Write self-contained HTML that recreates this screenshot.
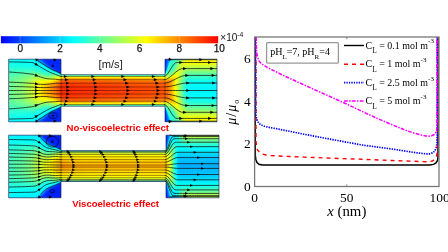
<!DOCTYPE html>
<html><head><meta charset="utf-8"><style>
html,body{margin:0;padding:0;background:#fff;width:448px;height:252px;overflow:hidden}
svg{display:block}
.sans{font-family:"Liberation Sans",sans-serif}
.serif{font-family:"Liberation Serif",serif}
</style></head><body>
<svg width="448" height="252" viewBox="0 0 448 252">
<defs>
<linearGradient id="cbar" x1="0" y1="0" x2="1" y2="0"><stop offset="0.000" stop-color="#0000ff"/><stop offset="0.033" stop-color="#001aff"/><stop offset="0.067" stop-color="#0033ff"/><stop offset="0.100" stop-color="#004dff"/><stop offset="0.133" stop-color="#0066ff"/><stop offset="0.167" stop-color="#0080ff"/><stop offset="0.200" stop-color="#0099ff"/><stop offset="0.233" stop-color="#00b2ff"/><stop offset="0.267" stop-color="#00ccff"/><stop offset="0.300" stop-color="#00e5ff"/><stop offset="0.333" stop-color="#00ffff"/><stop offset="0.367" stop-color="#19ffe6"/><stop offset="0.400" stop-color="#33ffcc"/><stop offset="0.433" stop-color="#4dffb2"/><stop offset="0.467" stop-color="#66ff99"/><stop offset="0.500" stop-color="#80ff80"/><stop offset="0.533" stop-color="#99ff66"/><stop offset="0.567" stop-color="#b2ff4d"/><stop offset="0.600" stop-color="#ccff33"/><stop offset="0.633" stop-color="#e5ff1a"/><stop offset="0.667" stop-color="#ffff00"/><stop offset="0.700" stop-color="#ffe600"/><stop offset="0.733" stop-color="#ffcc00"/><stop offset="0.767" stop-color="#ffb200"/><stop offset="0.800" stop-color="#ff9900"/><stop offset="0.833" stop-color="#ff7f00"/><stop offset="0.867" stop-color="#ff6600"/><stop offset="0.900" stop-color="#ff4c00"/><stop offset="0.933" stop-color="#ff3300"/><stop offset="0.967" stop-color="#ff1900"/><stop offset="1.000" stop-color="#ff0000"/></linearGradient>
<linearGradient id="g1" x1="0" y1="0" x2="0" y2="1"><stop offset="0.000" stop-color="#03fffc"/><stop offset="0.096" stop-color="#16ffe9"/><stop offset="0.320" stop-color="#60ff9f"/><stop offset="0.400" stop-color="#6aff95"/><stop offset="0.528" stop-color="#6bff94"/><stop offset="0.688" stop-color="#5effa1"/><stop offset="0.904" stop-color="#16ffe9"/><stop offset="0.992" stop-color="#04fffb"/><stop offset="1.000" stop-color="#00e5ff"/></linearGradient>
<linearGradient id="g2" x1="0" y1="0" x2="0" y2="1"><stop offset="0.000" stop-color="#03fffc"/><stop offset="0.096" stop-color="#16ffe9"/><stop offset="0.320" stop-color="#62ff9d"/><stop offset="0.400" stop-color="#6cff93"/><stop offset="0.520" stop-color="#6eff91"/><stop offset="0.688" stop-color="#60ff9f"/><stop offset="0.896" stop-color="#18ffe7"/><stop offset="0.992" stop-color="#04fffb"/><stop offset="1.000" stop-color="#00e5ff"/></linearGradient>
<linearGradient id="g3" x1="0" y1="0" x2="0" y2="1"><stop offset="0.000" stop-color="#03fffc"/><stop offset="0.096" stop-color="#16ffe9"/><stop offset="0.320" stop-color="#64ff9b"/><stop offset="0.400" stop-color="#6fff90"/><stop offset="0.520" stop-color="#71ff8e"/><stop offset="0.616" stop-color="#6eff91"/><stop offset="0.688" stop-color="#62ff9d"/><stop offset="0.896" stop-color="#18ffe7"/><stop offset="0.992" stop-color="#03fffc"/><stop offset="1.000" stop-color="#00e5ff"/></linearGradient>
<linearGradient id="g4" x1="0" y1="0" x2="0" y2="1"><stop offset="0.000" stop-color="#02fffd"/><stop offset="0.104" stop-color="#18ffe7"/><stop offset="0.320" stop-color="#67ff98"/><stop offset="0.400" stop-color="#72ff8d"/><stop offset="0.520" stop-color="#74ff8b"/><stop offset="0.616" stop-color="#70ff8f"/><stop offset="0.688" stop-color="#64ff9b"/><stop offset="0.896" stop-color="#17ffe8"/><stop offset="0.992" stop-color="#03fffc"/><stop offset="1.000" stop-color="#00e5ff"/></linearGradient>
<linearGradient id="g5" x1="0" y1="0" x2="0" y2="1"><stop offset="0.000" stop-color="#02fffd"/><stop offset="0.104" stop-color="#17ffe8"/><stop offset="0.256" stop-color="#55ffaa"/><stop offset="0.328" stop-color="#6aff95"/><stop offset="0.408" stop-color="#75ff8a"/><stop offset="0.520" stop-color="#77ff88"/><stop offset="0.680" stop-color="#68ff97"/><stop offset="0.896" stop-color="#17ffe8"/><stop offset="0.992" stop-color="#03fffc"/><stop offset="1.000" stop-color="#00e5ff"/></linearGradient>
<linearGradient id="g6" x1="0" y1="0" x2="0" y2="1"><stop offset="0.000" stop-color="#02fffd"/><stop offset="0.104" stop-color="#17ffe8"/><stop offset="0.264" stop-color="#59ffa6"/><stop offset="0.328" stop-color="#6dff92"/><stop offset="0.408" stop-color="#78ff87"/><stop offset="0.520" stop-color="#7aff85"/><stop offset="0.608" stop-color="#76ff89"/><stop offset="0.680" stop-color="#6aff95"/><stop offset="0.888" stop-color="#19ffe6"/><stop offset="0.992" stop-color="#02fffd"/><stop offset="1.000" stop-color="#00e5ff"/></linearGradient>
<linearGradient id="g7" x1="0" y1="0" x2="0" y2="1"><stop offset="0.000" stop-color="#02fffd"/><stop offset="0.104" stop-color="#16ffe9"/><stop offset="0.328" stop-color="#6fff90"/><stop offset="0.400" stop-color="#7aff85"/><stop offset="0.512" stop-color="#7cff83"/><stop offset="0.608" stop-color="#79ff86"/><stop offset="0.680" stop-color="#6dff92"/><stop offset="0.888" stop-color="#19ffe6"/><stop offset="0.992" stop-color="#02fffd"/><stop offset="1.000" stop-color="#00e5ff"/></linearGradient>
<linearGradient id="g8" x1="0" y1="0" x2="0" y2="1"><stop offset="0.000" stop-color="#01fffe"/><stop offset="0.112" stop-color="#19ffe6"/><stop offset="0.264" stop-color="#5cffa3"/><stop offset="0.328" stop-color="#71ff8e"/><stop offset="0.400" stop-color="#7dff82"/><stop offset="0.512" stop-color="#7fff80"/><stop offset="0.600" stop-color="#7dff82"/><stop offset="0.672" stop-color="#71ff8e"/><stop offset="0.888" stop-color="#18ffe7"/><stop offset="0.992" stop-color="#02fffd"/><stop offset="1.000" stop-color="#00e5ff"/></linearGradient>
<linearGradient id="g9" x1="0" y1="0" x2="0" y2="1"><stop offset="0.000" stop-color="#01fffe"/><stop offset="0.112" stop-color="#18ffe7"/><stop offset="0.328" stop-color="#73ff8c"/><stop offset="0.400" stop-color="#7fff80"/><stop offset="0.512" stop-color="#82ff7d"/><stop offset="0.600" stop-color="#7fff80"/><stop offset="0.672" stop-color="#73ff8c"/><stop offset="0.888" stop-color="#18ffe7"/><stop offset="0.992" stop-color="#02fffd"/><stop offset="1.000" stop-color="#00e5ff"/></linearGradient>
<linearGradient id="g10" x1="0" y1="0" x2="0" y2="1"><stop offset="0.000" stop-color="#01fffe"/><stop offset="0.112" stop-color="#18ffe7"/><stop offset="0.272" stop-color="#62ff9d"/><stop offset="0.336" stop-color="#78ff87"/><stop offset="0.408" stop-color="#83ff7c"/><stop offset="0.512" stop-color="#85ff7a"/><stop offset="0.600" stop-color="#82ff7d"/><stop offset="0.672" stop-color="#75ff8a"/><stop offset="0.888" stop-color="#17ffe8"/><stop offset="0.992" stop-color="#01fffe"/><stop offset="1.000" stop-color="#00e5ff"/></linearGradient>
<linearGradient id="g11" x1="0" y1="0" x2="0" y2="1"><stop offset="0.000" stop-color="#01fffe"/><stop offset="0.112" stop-color="#17ffe8"/><stop offset="0.272" stop-color="#63ff9c"/><stop offset="0.336" stop-color="#7aff85"/><stop offset="0.408" stop-color="#85ff7a"/><stop offset="0.512" stop-color="#88ff77"/><stop offset="0.600" stop-color="#85ff7a"/><stop offset="0.672" stop-color="#77ff88"/><stop offset="0.880" stop-color="#19ffe6"/><stop offset="0.992" stop-color="#01fffe"/><stop offset="1.000" stop-color="#00e5ff"/></linearGradient>
<linearGradient id="g12" x1="0" y1="0" x2="0" y2="1"><stop offset="0.000" stop-color="#00ffff"/><stop offset="0.112" stop-color="#16ffe9"/><stop offset="0.272" stop-color="#64ff9b"/><stop offset="0.336" stop-color="#7cff83"/><stop offset="0.408" stop-color="#88ff77"/><stop offset="0.504" stop-color="#8bff74"/><stop offset="0.600" stop-color="#87ff78"/><stop offset="0.664" stop-color="#7bff84"/><stop offset="0.728" stop-color="#64ff9b"/><stop offset="0.880" stop-color="#19ffe6"/><stop offset="0.992" stop-color="#01fffe"/><stop offset="1.000" stop-color="#00e5ff"/></linearGradient>
<linearGradient id="g13" x1="0" y1="0" x2="0" y2="1"><stop offset="0.000" stop-color="#00ffff"/><stop offset="0.120" stop-color="#19ffe6"/><stop offset="0.272" stop-color="#66ff99"/><stop offset="0.336" stop-color="#7eff81"/><stop offset="0.408" stop-color="#8bff74"/><stop offset="0.504" stop-color="#8dff72"/><stop offset="0.600" stop-color="#8aff75"/><stop offset="0.664" stop-color="#7eff81"/><stop offset="0.728" stop-color="#65ff9a"/><stop offset="0.880" stop-color="#18ffe7"/><stop offset="0.992" stop-color="#00ffff"/><stop offset="1.000" stop-color="#00e5ff"/></linearGradient>
<linearGradient id="g14" x1="0" y1="0" x2="0" y2="1"><stop offset="0.000" stop-color="#00ffff"/><stop offset="0.064" stop-color="#08fff7"/><stop offset="0.120" stop-color="#18ffe7"/><stop offset="0.272" stop-color="#68ff97"/><stop offset="0.336" stop-color="#82ff7d"/><stop offset="0.400" stop-color="#8eff71"/><stop offset="0.496" stop-color="#92ff6d"/><stop offset="0.592" stop-color="#8fff70"/><stop offset="0.656" stop-color="#83ff7c"/><stop offset="0.720" stop-color="#6bff94"/><stop offset="0.880" stop-color="#18ffe7"/><stop offset="0.992" stop-color="#00ffff"/><stop offset="1.000" stop-color="#00e5ff"/></linearGradient>
<linearGradient id="g15" x1="0" y1="0" x2="0" y2="1"><stop offset="0.000" stop-color="#00ffff"/><stop offset="0.064" stop-color="#07fff8"/><stop offset="0.120" stop-color="#18ffe7"/><stop offset="0.280" stop-color="#6fff90"/><stop offset="0.336" stop-color="#86ff79"/><stop offset="0.400" stop-color="#94ff6b"/><stop offset="0.496" stop-color="#97ff68"/><stop offset="0.592" stop-color="#94ff6b"/><stop offset="0.656" stop-color="#88ff77"/><stop offset="0.720" stop-color="#6eff91"/><stop offset="0.872" stop-color="#1affe5"/><stop offset="0.928" stop-color="#09fff6"/><stop offset="0.992" stop-color="#00ffff"/><stop offset="1.000" stop-color="#00e5ff"/></linearGradient>
<linearGradient id="g16" x1="0" y1="0" x2="0" y2="1"><stop offset="0.000" stop-color="#00feff"/><stop offset="0.064" stop-color="#07fff8"/><stop offset="0.120" stop-color="#18ffe7"/><stop offset="0.280" stop-color="#72ff8d"/><stop offset="0.344" stop-color="#8dff72"/><stop offset="0.408" stop-color="#9aff65"/><stop offset="0.496" stop-color="#9dff62"/><stop offset="0.592" stop-color="#9aff65"/><stop offset="0.656" stop-color="#8dff72"/><stop offset="0.720" stop-color="#71ff8e"/><stop offset="0.872" stop-color="#1affe5"/><stop offset="0.928" stop-color="#08fff7"/><stop offset="0.992" stop-color="#00ffff"/><stop offset="1.000" stop-color="#00e5ff"/></linearGradient>
<linearGradient id="g17" x1="0" y1="0" x2="0" y2="1"><stop offset="0.000" stop-color="#00feff"/><stop offset="0.064" stop-color="#07fff8"/><stop offset="0.128" stop-color="#1bffe4"/><stop offset="0.280" stop-color="#75ff8a"/><stop offset="0.344" stop-color="#92ff6d"/><stop offset="0.408" stop-color="#a0ff5f"/><stop offset="0.496" stop-color="#a3ff5c"/><stop offset="0.592" stop-color="#a0ff5f"/><stop offset="0.656" stop-color="#92ff6d"/><stop offset="0.712" stop-color="#79ff86"/><stop offset="0.872" stop-color="#1affe5"/><stop offset="0.928" stop-color="#08fff7"/><stop offset="0.992" stop-color="#00ffff"/><stop offset="1.000" stop-color="#00e5ff"/></linearGradient>
<linearGradient id="g18" x1="0" y1="0" x2="0" y2="1"><stop offset="0.000" stop-color="#00feff"/><stop offset="0.064" stop-color="#06fff9"/><stop offset="0.128" stop-color="#1affe5"/><stop offset="0.288" stop-color="#7dff82"/><stop offset="0.344" stop-color="#97ff68"/><stop offset="0.408" stop-color="#a5ff5a"/><stop offset="0.496" stop-color="#a9ff56"/><stop offset="0.584" stop-color="#a6ff59"/><stop offset="0.648" stop-color="#99ff66"/><stop offset="0.712" stop-color="#7cff83"/><stop offset="0.872" stop-color="#19ffe6"/><stop offset="0.928" stop-color="#07fff8"/><stop offset="0.992" stop-color="#00feff"/><stop offset="1.000" stop-color="#00e5ff"/></linearGradient>
<linearGradient id="g19" x1="0" y1="0" x2="0" y2="1"><stop offset="0.000" stop-color="#00feff"/><stop offset="0.064" stop-color="#06fff9"/><stop offset="0.128" stop-color="#1affe5"/><stop offset="0.288" stop-color="#80ff7f"/><stop offset="0.344" stop-color="#9bff64"/><stop offset="0.408" stop-color="#abff54"/><stop offset="0.496" stop-color="#aeff51"/><stop offset="0.584" stop-color="#abff54"/><stop offset="0.648" stop-color="#9eff61"/><stop offset="0.712" stop-color="#7fff80"/><stop offset="0.872" stop-color="#19ffe6"/><stop offset="0.928" stop-color="#07fff8"/><stop offset="0.992" stop-color="#00feff"/><stop offset="1.000" stop-color="#00e5ff"/></linearGradient>
<linearGradient id="g20" x1="0" y1="0" x2="0" y2="1"><stop offset="0.000" stop-color="#00feff"/><stop offset="0.072" stop-color="#07fff8"/><stop offset="0.128" stop-color="#19ffe6"/><stop offset="0.176" stop-color="#34ffcb"/><stop offset="0.296" stop-color="#88ff77"/><stop offset="0.352" stop-color="#a3ff5c"/><stop offset="0.416" stop-color="#b1ff4e"/><stop offset="0.496" stop-color="#b4ff4b"/><stop offset="0.584" stop-color="#b1ff4e"/><stop offset="0.648" stop-color="#a2ff5d"/><stop offset="0.712" stop-color="#82ff7d"/><stop offset="0.864" stop-color="#1cffe3"/><stop offset="0.920" stop-color="#08fff7"/><stop offset="0.992" stop-color="#00feff"/><stop offset="1.000" stop-color="#00e5ff"/></linearGradient>
<linearGradient id="g21" x1="0" y1="0" x2="0" y2="1"><stop offset="0.000" stop-color="#00feff"/><stop offset="0.072" stop-color="#06fff9"/><stop offset="0.136" stop-color="#1cffe3"/><stop offset="0.296" stop-color="#8bff74"/><stop offset="0.352" stop-color="#a8ff57"/><stop offset="0.416" stop-color="#b7ff48"/><stop offset="0.496" stop-color="#baff45"/><stop offset="0.584" stop-color="#b7ff48"/><stop offset="0.648" stop-color="#a7ff58"/><stop offset="0.704" stop-color="#8aff75"/><stop offset="0.864" stop-color="#1bffe4"/><stop offset="0.920" stop-color="#08fff7"/><stop offset="0.992" stop-color="#00feff"/><stop offset="1.000" stop-color="#00e5ff"/></linearGradient>
<linearGradient id="g22" x1="0" y1="0" x2="0" y2="1"><stop offset="0.000" stop-color="#00feff"/><stop offset="0.072" stop-color="#06fff9"/><stop offset="0.136" stop-color="#1cffe3"/><stop offset="0.184" stop-color="#3affc5"/><stop offset="0.296" stop-color="#90ff6f"/><stop offset="0.352" stop-color="#aeff51"/><stop offset="0.416" stop-color="#beff41"/><stop offset="0.496" stop-color="#c1ff3e"/><stop offset="0.584" stop-color="#beff41"/><stop offset="0.648" stop-color="#adff52"/><stop offset="0.704" stop-color="#8fff70"/><stop offset="0.816" stop-color="#39ffc6"/><stop offset="0.864" stop-color="#1cffe3"/><stop offset="0.920" stop-color="#08fff7"/><stop offset="0.992" stop-color="#00feff"/><stop offset="1.000" stop-color="#00e5ff"/></linearGradient>
<linearGradient id="g23" x1="0" y1="0" x2="0" y2="1"><stop offset="0.000" stop-color="#00feff"/><stop offset="0.072" stop-color="#07fff8"/><stop offset="0.136" stop-color="#1effe1"/><stop offset="0.184" stop-color="#3dffc2"/><stop offset="0.296" stop-color="#97ff68"/><stop offset="0.352" stop-color="#b6ff49"/><stop offset="0.416" stop-color="#c7ff38"/><stop offset="0.496" stop-color="#caff35"/><stop offset="0.584" stop-color="#c7ff38"/><stop offset="0.648" stop-color="#b5ff4a"/><stop offset="0.704" stop-color="#96ff69"/><stop offset="0.816" stop-color="#3cffc3"/><stop offset="0.864" stop-color="#1dffe2"/><stop offset="0.920" stop-color="#08fff7"/><stop offset="0.992" stop-color="#00feff"/><stop offset="1.000" stop-color="#00e5ff"/></linearGradient>
<linearGradient id="g24" x1="0" y1="0" x2="0" y2="1"><stop offset="0.000" stop-color="#00feff"/><stop offset="0.072" stop-color="#07fff8"/><stop offset="0.136" stop-color="#1fffe0"/><stop offset="0.184" stop-color="#40ffbf"/><stop offset="0.296" stop-color="#9eff61"/><stop offset="0.352" stop-color="#beff41"/><stop offset="0.416" stop-color="#d0ff2f"/><stop offset="0.496" stop-color="#d3ff2c"/><stop offset="0.584" stop-color="#cfff30"/><stop offset="0.648" stop-color="#beff41"/><stop offset="0.704" stop-color="#9cff63"/><stop offset="0.816" stop-color="#3effc1"/><stop offset="0.864" stop-color="#1effe1"/><stop offset="0.920" stop-color="#09fff6"/><stop offset="0.992" stop-color="#00feff"/><stop offset="1.000" stop-color="#00e5ff"/></linearGradient>
<linearGradient id="g25" x1="0" y1="0" x2="0" y2="1"><stop offset="0.000" stop-color="#00e2ff"/><stop offset="0.008" stop-color="#00feff"/><stop offset="0.080" stop-color="#08fff7"/><stop offset="0.136" stop-color="#1fffe0"/><stop offset="0.184" stop-color="#40ffbf"/><stop offset="0.296" stop-color="#a3ff5c"/><stop offset="0.352" stop-color="#c6ff39"/><stop offset="0.416" stop-color="#d8ff27"/><stop offset="0.496" stop-color="#dcff23"/><stop offset="0.584" stop-color="#d8ff27"/><stop offset="0.640" stop-color="#c8ff37"/><stop offset="0.704" stop-color="#a2ff5d"/><stop offset="0.816" stop-color="#3fffc0"/><stop offset="0.864" stop-color="#1effe1"/><stop offset="0.920" stop-color="#08fff7"/><stop offset="0.992" stop-color="#00feff"/><stop offset="1.000" stop-color="#00e1ff"/></linearGradient>
<linearGradient id="g26" x1="0" y1="0" x2="0" y2="1"><stop offset="0.000" stop-color="#00d3ff"/><stop offset="0.008" stop-color="#00e0ff"/><stop offset="0.016" stop-color="#00feff"/><stop offset="0.088" stop-color="#09fff6"/><stop offset="0.144" stop-color="#21ffde"/><stop offset="0.192" stop-color="#44ffbb"/><stop offset="0.304" stop-color="#adff52"/><stop offset="0.360" stop-color="#d0ff2f"/><stop offset="0.416" stop-color="#e1ff1e"/><stop offset="0.496" stop-color="#e5ff1a"/><stop offset="0.584" stop-color="#e0ff1f"/><stop offset="0.640" stop-color="#cfff30"/><stop offset="0.696" stop-color="#acff53"/><stop offset="0.808" stop-color="#43ffbc"/><stop offset="0.856" stop-color="#20ffdf"/><stop offset="0.912" stop-color="#08fff7"/><stop offset="0.984" stop-color="#00feff"/><stop offset="0.992" stop-color="#00deff"/><stop offset="1.000" stop-color="#00d0ff"/></linearGradient>
<linearGradient id="g27" x1="0" y1="0" x2="0" y2="1"><stop offset="0.000" stop-color="#00bdff"/><stop offset="0.016" stop-color="#00deff"/><stop offset="0.024" stop-color="#00feff"/><stop offset="0.096" stop-color="#09fff6"/><stop offset="0.152" stop-color="#23ffdc"/><stop offset="0.200" stop-color="#49ffb6"/><stop offset="0.304" stop-color="#b0ff4f"/><stop offset="0.360" stop-color="#d7ff28"/><stop offset="0.416" stop-color="#e9ff16"/><stop offset="0.496" stop-color="#eeff11"/><stop offset="0.584" stop-color="#e9ff16"/><stop offset="0.640" stop-color="#d6ff29"/><stop offset="0.696" stop-color="#afff50"/><stop offset="0.800" stop-color="#47ffb8"/><stop offset="0.848" stop-color="#22ffdd"/><stop offset="0.904" stop-color="#09fff6"/><stop offset="0.968" stop-color="#00feff"/><stop offset="0.976" stop-color="#00e5ff"/><stop offset="1.000" stop-color="#00b9ff"/></linearGradient>
<linearGradient id="g28" x1="0" y1="0" x2="0" y2="1"><stop offset="0.000" stop-color="#00a5ff"/><stop offset="0.024" stop-color="#00dbff"/><stop offset="0.032" stop-color="#00e5ff"/><stop offset="0.040" stop-color="#00feff"/><stop offset="0.104" stop-color="#0afff5"/><stop offset="0.160" stop-color="#25ffda"/><stop offset="0.208" stop-color="#4dffb2"/><stop offset="0.304" stop-color="#b3ff4c"/><stop offset="0.360" stop-color="#ddff22"/><stop offset="0.416" stop-color="#f1ff0e"/><stop offset="0.496" stop-color="#f6ff09"/><stop offset="0.576" stop-color="#f3ff0c"/><stop offset="0.632" stop-color="#e1ff1e"/><stop offset="0.688" stop-color="#b9ff46"/><stop offset="0.792" stop-color="#4cffb3"/><stop offset="0.840" stop-color="#24ffdb"/><stop offset="0.896" stop-color="#09fff6"/><stop offset="0.960" stop-color="#00feff"/><stop offset="0.968" stop-color="#00e4ff"/><stop offset="1.000" stop-color="#00a1ff"/></linearGradient>
<linearGradient id="g29" x1="0" y1="0" x2="0" y2="1"><stop offset="0.000" stop-color="#008cff"/><stop offset="0.024" stop-color="#00c6ff"/><stop offset="0.040" stop-color="#00e4ff"/><stop offset="0.048" stop-color="#00feff"/><stop offset="0.112" stop-color="#0afff5"/><stop offset="0.168" stop-color="#27ffd8"/><stop offset="0.216" stop-color="#52ffad"/><stop offset="0.312" stop-color="#bdff42"/><stop offset="0.368" stop-color="#e8ff17"/><stop offset="0.424" stop-color="#fbff04"/><stop offset="0.496" stop-color="#ffff00"/><stop offset="0.576" stop-color="#fbff04"/><stop offset="0.632" stop-color="#e7ff18"/><stop offset="0.688" stop-color="#bcff43"/><stop offset="0.784" stop-color="#51ffae"/><stop offset="0.832" stop-color="#25ffda"/><stop offset="0.888" stop-color="#09fff6"/><stop offset="0.952" stop-color="#00feff"/><stop offset="0.960" stop-color="#00e2ff"/><stop offset="1.000" stop-color="#0088ff"/></linearGradient>
<linearGradient id="g30" x1="0" y1="0" x2="0" y2="1"><stop offset="0.000" stop-color="#0074ff"/><stop offset="0.048" stop-color="#00e1ff"/><stop offset="0.056" stop-color="#00feff"/><stop offset="0.120" stop-color="#0afff5"/><stop offset="0.168" stop-color="#23ffdc"/><stop offset="0.216" stop-color="#4effb1"/><stop offset="0.328" stop-color="#cfff30"/><stop offset="0.368" stop-color="#eeff11"/><stop offset="0.408" stop-color="#ffff00"/><stop offset="0.504" stop-color="#fff700"/><stop offset="0.592" stop-color="#ffff00"/><stop offset="0.616" stop-color="#f6ff09"/><stop offset="0.680" stop-color="#c6ff39"/><stop offset="0.784" stop-color="#4dffb2"/><stop offset="0.824" stop-color="#27ffd8"/><stop offset="0.880" stop-color="#0afff5"/><stop offset="0.944" stop-color="#00feff"/><stop offset="0.952" stop-color="#00dfff"/><stop offset="1.000" stop-color="#0071ff"/></linearGradient>
<linearGradient id="g31" x1="0" y1="0" x2="0" y2="1"><stop offset="0.000" stop-color="#005fff"/><stop offset="0.016" stop-color="#007eff"/><stop offset="0.056" stop-color="#00deff"/><stop offset="0.064" stop-color="#00feff"/><stop offset="0.128" stop-color="#0bfff4"/><stop offset="0.176" stop-color="#24ffdb"/><stop offset="0.224" stop-color="#53ffac"/><stop offset="0.328" stop-color="#d2ff2d"/><stop offset="0.360" stop-color="#eeff11"/><stop offset="0.392" stop-color="#fffd00"/><stop offset="0.440" stop-color="#fff000"/><stop offset="0.512" stop-color="#ffee00"/><stop offset="0.568" stop-color="#fff200"/><stop offset="0.616" stop-color="#fcff03"/><stop offset="0.672" stop-color="#d0ff2f"/><stop offset="0.776" stop-color="#51ffae"/><stop offset="0.816" stop-color="#29ffd6"/><stop offset="0.872" stop-color="#0afff5"/><stop offset="0.936" stop-color="#00feff"/><stop offset="0.944" stop-color="#00dbff"/><stop offset="0.984" stop-color="#007aff"/><stop offset="1.000" stop-color="#005cff"/></linearGradient>
<linearGradient id="g32" x1="0" y1="0" x2="0" y2="1"><stop offset="0.000" stop-color="#004eff"/><stop offset="0.024" stop-color="#0077ff"/><stop offset="0.056" stop-color="#00c8ff"/><stop offset="0.072" stop-color="#00e5ff"/><stop offset="0.080" stop-color="#00ffff"/><stop offset="0.136" stop-color="#0bfff4"/><stop offset="0.184" stop-color="#26ffd9"/><stop offset="0.232" stop-color="#58ffa7"/><stop offset="0.328" stop-color="#d4ff2b"/><stop offset="0.368" stop-color="#f9ff06"/><stop offset="0.384" stop-color="#fffb00"/><stop offset="0.440" stop-color="#ffe800"/><stop offset="0.520" stop-color="#ffe600"/><stop offset="0.576" stop-color="#ffeb00"/><stop offset="0.624" stop-color="#feff01"/><stop offset="0.672" stop-color="#d3ff2c"/><stop offset="0.768" stop-color="#56ffa9"/><stop offset="0.808" stop-color="#2bffd4"/><stop offset="0.856" stop-color="#0dfff2"/><stop offset="0.920" stop-color="#00ffff"/><stop offset="0.928" stop-color="#00e4ff"/><stop offset="0.936" stop-color="#00d7ff"/><stop offset="0.976" stop-color="#0074ff"/><stop offset="1.000" stop-color="#004cff"/></linearGradient>
<linearGradient id="g33" x1="0" y1="0" x2="0" y2="1"><stop offset="0.000" stop-color="#0040ff"/><stop offset="0.032" stop-color="#0070ff"/><stop offset="0.072" stop-color="#00d6ff"/><stop offset="0.080" stop-color="#00e4ff"/><stop offset="0.088" stop-color="#00ffff"/><stop offset="0.144" stop-color="#0bfff4"/><stop offset="0.192" stop-color="#28ffd7"/><stop offset="0.232" stop-color="#52ffad"/><stop offset="0.328" stop-color="#d6ff29"/><stop offset="0.360" stop-color="#f8ff07"/><stop offset="0.376" stop-color="#fffa00"/><stop offset="0.432" stop-color="#ffe100"/><stop offset="0.520" stop-color="#ffdd00"/><stop offset="0.584" stop-color="#ffe600"/><stop offset="0.632" stop-color="#fdff02"/><stop offset="0.672" stop-color="#d4ff2b"/><stop offset="0.760" stop-color="#5bffa4"/><stop offset="0.800" stop-color="#2effd1"/><stop offset="0.848" stop-color="#0efff1"/><stop offset="0.912" stop-color="#00feff"/><stop offset="0.920" stop-color="#00e2ff"/><stop offset="0.968" stop-color="#006dff"/><stop offset="1.000" stop-color="#003fff"/></linearGradient>
<linearGradient id="g34" x1="0" y1="0" x2="0" y2="1"><stop offset="0.000" stop-color="#0036ff"/><stop offset="0.024" stop-color="#004dff"/><stop offset="0.040" stop-color="#0068ff"/><stop offset="0.088" stop-color="#00e1ff"/><stop offset="0.096" stop-color="#00ffff"/><stop offset="0.152" stop-color="#0bfff4"/><stop offset="0.200" stop-color="#2affd5"/><stop offset="0.240" stop-color="#57ffa8"/><stop offset="0.328" stop-color="#d7ff28"/><stop offset="0.368" stop-color="#fffb00"/><stop offset="0.424" stop-color="#ffdb00"/><stop offset="0.512" stop-color="#ffd500"/><stop offset="0.576" stop-color="#ffdc00"/><stop offset="0.632" stop-color="#fffc00"/><stop offset="0.672" stop-color="#d5ff2a"/><stop offset="0.752" stop-color="#60ff9f"/><stop offset="0.792" stop-color="#30ffcf"/><stop offset="0.840" stop-color="#0efff1"/><stop offset="0.904" stop-color="#00feff"/><stop offset="0.912" stop-color="#00deff"/><stop offset="0.960" stop-color="#0064ff"/><stop offset="0.976" stop-color="#004bff"/><stop offset="1.000" stop-color="#0035ff"/></linearGradient>
<linearGradient id="g35" x1="0" y1="0" x2="0" y2="1"><stop offset="0.000" stop-color="#002eff"/><stop offset="0.024" stop-color="#003cff"/><stop offset="0.048" stop-color="#005dff"/><stop offset="0.064" stop-color="#0081ff"/><stop offset="0.096" stop-color="#00dcff"/><stop offset="0.104" stop-color="#00feff"/><stop offset="0.160" stop-color="#0bfff4"/><stop offset="0.208" stop-color="#2bffd4"/><stop offset="0.248" stop-color="#5cffa3"/><stop offset="0.320" stop-color="#ccff33"/><stop offset="0.360" stop-color="#ffff00"/><stop offset="0.392" stop-color="#ffe300"/><stop offset="0.424" stop-color="#ffd400"/><stop offset="0.504" stop-color="#ffcc00"/><stop offset="0.584" stop-color="#ffd700"/><stop offset="0.640" stop-color="#feff01"/><stop offset="0.680" stop-color="#c9ff36"/><stop offset="0.752" stop-color="#59ffa6"/><stop offset="0.792" stop-color="#2affd5"/><stop offset="0.840" stop-color="#0bfff4"/><stop offset="0.896" stop-color="#00feff"/><stop offset="0.904" stop-color="#00d9ff"/><stop offset="0.944" stop-color="#006aff"/><stop offset="0.968" stop-color="#0043ff"/><stop offset="1.000" stop-color="#002dff"/></linearGradient>
<linearGradient id="g36" x1="0" y1="0" x2="0" y2="1"><stop offset="0.000" stop-color="#0029ff"/><stop offset="0.032" stop-color="#0036ff"/><stop offset="0.056" stop-color="#0053ff"/><stop offset="0.072" stop-color="#0075ff"/><stop offset="0.120" stop-color="#00ffff"/><stop offset="0.176" stop-color="#0ffff0"/><stop offset="0.216" stop-color="#2dffd2"/><stop offset="0.248" stop-color="#55ffaa"/><stop offset="0.328" stop-color="#d7ff28"/><stop offset="0.360" stop-color="#fffc00"/><stop offset="0.392" stop-color="#ffdd00"/><stop offset="0.424" stop-color="#ffcc00"/><stop offset="0.512" stop-color="#ffc400"/><stop offset="0.584" stop-color="#ffd000"/><stop offset="0.616" stop-color="#ffe500"/><stop offset="0.640" stop-color="#fffd00"/><stop offset="0.672" stop-color="#d4ff2b"/><stop offset="0.744" stop-color="#5effa1"/><stop offset="0.776" stop-color="#34ffcb"/><stop offset="0.824" stop-color="#0ffff0"/><stop offset="0.880" stop-color="#00ffff"/><stop offset="0.920" stop-color="#0087ff"/><stop offset="0.944" stop-color="#0050ff"/><stop offset="0.968" stop-color="#0035ff"/><stop offset="1.000" stop-color="#0029ff"/></linearGradient>
<linearGradient id="g37" x1="0" y1="0" x2="0" y2="1"><stop offset="0.000" stop-color="#0027ff"/><stop offset="0.040" stop-color="#0031ff"/><stop offset="0.064" stop-color="#0049ff"/><stop offset="0.088" stop-color="#007eff"/><stop offset="0.128" stop-color="#00ffff"/><stop offset="0.184" stop-color="#12ffed"/><stop offset="0.224" stop-color="#32ffcd"/><stop offset="0.264" stop-color="#68ff97"/><stop offset="0.344" stop-color="#efff10"/><stop offset="0.360" stop-color="#fff900"/><stop offset="0.392" stop-color="#ffd800"/><stop offset="0.424" stop-color="#ffc500"/><stop offset="0.512" stop-color="#ffbb00"/><stop offset="0.584" stop-color="#ffc900"/><stop offset="0.616" stop-color="#ffe000"/><stop offset="0.640" stop-color="#fffb00"/><stop offset="0.664" stop-color="#e1ff1e"/><stop offset="0.744" stop-color="#59ffa6"/><stop offset="0.776" stop-color="#30ffcf"/><stop offset="0.816" stop-color="#11ffee"/><stop offset="0.872" stop-color="#00ffff"/><stop offset="0.880" stop-color="#00dfff"/><stop offset="0.912" stop-color="#007aff"/><stop offset="0.928" stop-color="#0054ff"/><stop offset="0.944" stop-color="#003dff"/><stop offset="0.960" stop-color="#0031ff"/><stop offset="1.000" stop-color="#0027ff"/></linearGradient>
<linearGradient id="g38" x1="0" y1="0" x2="0" y2="1"><stop offset="0.000" stop-color="#0027ff"/><stop offset="0.048" stop-color="#002dff"/><stop offset="0.064" stop-color="#0038ff"/><stop offset="0.080" stop-color="#004cff"/><stop offset="0.104" stop-color="#008aff"/><stop offset="0.128" stop-color="#00ddff"/><stop offset="0.136" stop-color="#00ffff"/><stop offset="0.192" stop-color="#16ffe9"/><stop offset="0.232" stop-color="#39ffc6"/><stop offset="0.272" stop-color="#72ff8d"/><stop offset="0.344" stop-color="#f1ff0e"/><stop offset="0.360" stop-color="#fff600"/><stop offset="0.392" stop-color="#ffd200"/><stop offset="0.424" stop-color="#ffbe00"/><stop offset="0.512" stop-color="#ffb400"/><stop offset="0.584" stop-color="#ffc300"/><stop offset="0.616" stop-color="#ffdb00"/><stop offset="0.640" stop-color="#fff800"/><stop offset="0.656" stop-color="#eeff11"/><stop offset="0.728" stop-color="#70ff8f"/><stop offset="0.768" stop-color="#37ffc8"/><stop offset="0.808" stop-color="#15ffea"/><stop offset="0.864" stop-color="#00ffff"/><stop offset="0.872" stop-color="#00d8ff"/><stop offset="0.896" stop-color="#0084ff"/><stop offset="0.920" stop-color="#004aff"/><stop offset="0.952" stop-color="#002dff"/><stop offset="1.000" stop-color="#0027ff"/></linearGradient>
<linearGradient id="g39" x1="0" y1="0" x2="0" y2="1"><stop offset="0.000" stop-color="#0026ff"/><stop offset="0.056" stop-color="#002bff"/><stop offset="0.088" stop-color="#0043ff"/><stop offset="0.104" stop-color="#0064ff"/><stop offset="0.112" stop-color="#007cff"/><stop offset="0.136" stop-color="#00d6ff"/><stop offset="0.144" stop-color="#00ffff"/><stop offset="0.200" stop-color="#1cffe3"/><stop offset="0.240" stop-color="#43ffbc"/><stop offset="0.272" stop-color="#72ff8d"/><stop offset="0.352" stop-color="#fffe00"/><stop offset="0.384" stop-color="#ffd500"/><stop offset="0.416" stop-color="#ffbb00"/><stop offset="0.448" stop-color="#ffaf00"/><stop offset="0.504" stop-color="#ffac00"/><stop offset="0.552" stop-color="#ffb000"/><stop offset="0.584" stop-color="#ffbc00"/><stop offset="0.616" stop-color="#ffd600"/><stop offset="0.648" stop-color="#fdff02"/><stop offset="0.728" stop-color="#6fff90"/><stop offset="0.760" stop-color="#41ffbe"/><stop offset="0.800" stop-color="#1bffe4"/><stop offset="0.848" stop-color="#02fffd"/><stop offset="0.864" stop-color="#00d1ff"/><stop offset="0.888" stop-color="#0077ff"/><stop offset="0.896" stop-color="#0060ff"/><stop offset="0.912" stop-color="#0041ff"/><stop offset="0.944" stop-color="#002aff"/><stop offset="1.000" stop-color="#0026ff"/></linearGradient>
<linearGradient id="g40" x1="0" y1="0" x2="0" y2="1"><stop offset="0.000" stop-color="#0026ff"/><stop offset="0.064" stop-color="#0029ff"/><stop offset="0.096" stop-color="#003bff"/><stop offset="0.112" stop-color="#0058ff"/><stop offset="0.120" stop-color="#006fff"/><stop offset="0.144" stop-color="#00d0ff"/><stop offset="0.160" stop-color="#04fffb"/><stop offset="0.208" stop-color="#24ffdb"/><stop offset="0.248" stop-color="#4fffb0"/><stop offset="0.352" stop-color="#fffb00"/><stop offset="0.384" stop-color="#ffcf00"/><stop offset="0.416" stop-color="#ffb400"/><stop offset="0.456" stop-color="#ffa600"/><stop offset="0.512" stop-color="#ffa500"/><stop offset="0.552" stop-color="#ffa800"/><stop offset="0.584" stop-color="#ffb500"/><stop offset="0.616" stop-color="#ffd100"/><stop offset="0.648" stop-color="#fffd00"/><stop offset="0.720" stop-color="#7eff81"/><stop offset="0.752" stop-color="#4dffb2"/><stop offset="0.792" stop-color="#23ffdc"/><stop offset="0.840" stop-color="#03fffc"/><stop offset="0.856" stop-color="#00c9ff"/><stop offset="0.880" stop-color="#006aff"/><stop offset="0.888" stop-color="#0054ff"/><stop offset="0.904" stop-color="#0039ff"/><stop offset="0.936" stop-color="#0028ff"/><stop offset="1.000" stop-color="#0026ff"/></linearGradient>
<linearGradient id="g41" x1="0" y1="0" x2="0" y2="1"><stop offset="0.000" stop-color="#0026ff"/><stop offset="0.080" stop-color="#0029ff"/><stop offset="0.096" stop-color="#002eff"/><stop offset="0.112" stop-color="#003eff"/><stop offset="0.128" stop-color="#0062ff"/><stop offset="0.136" stop-color="#007fff"/><stop offset="0.152" stop-color="#00c7ff"/><stop offset="0.168" stop-color="#05fffa"/><stop offset="0.216" stop-color="#2effd1"/><stop offset="0.248" stop-color="#53ffac"/><stop offset="0.280" stop-color="#84ff7b"/><stop offset="0.344" stop-color="#faff05"/><stop offset="0.352" stop-color="#fff600"/><stop offset="0.392" stop-color="#ffc100"/><stop offset="0.424" stop-color="#ffa900"/><stop offset="0.456" stop-color="#ff9f00"/><stop offset="0.512" stop-color="#ff9d00"/><stop offset="0.552" stop-color="#ffa100"/><stop offset="0.584" stop-color="#ffae00"/><stop offset="0.616" stop-color="#ffcb00"/><stop offset="0.648" stop-color="#fff900"/><stop offset="0.656" stop-color="#f7ff08"/><stop offset="0.720" stop-color="#82ff7d"/><stop offset="0.752" stop-color="#51ffae"/><stop offset="0.784" stop-color="#2dffd2"/><stop offset="0.832" stop-color="#03fffc"/><stop offset="0.864" stop-color="#0078ff"/><stop offset="0.872" stop-color="#005dff"/><stop offset="0.888" stop-color="#003cff"/><stop offset="0.920" stop-color="#0028ff"/><stop offset="1.000" stop-color="#0026ff"/></linearGradient>
<linearGradient id="g42" x1="0" y1="0" x2="0" y2="1"><stop offset="0.000" stop-color="#0026ff"/><stop offset="0.088" stop-color="#0028ff"/><stop offset="0.120" stop-color="#0038ff"/><stop offset="0.136" stop-color="#0058ff"/><stop offset="0.144" stop-color="#0073ff"/><stop offset="0.160" stop-color="#00beff"/><stop offset="0.176" stop-color="#05fffa"/><stop offset="0.256" stop-color="#63ff9c"/><stop offset="0.344" stop-color="#ffff00"/><stop offset="0.384" stop-color="#ffc300"/><stop offset="0.416" stop-color="#ffa600"/><stop offset="0.448" stop-color="#ff9900"/><stop offset="0.504" stop-color="#ff9500"/><stop offset="0.552" stop-color="#ff9900"/><stop offset="0.584" stop-color="#ffa700"/><stop offset="0.616" stop-color="#ffc500"/><stop offset="0.656" stop-color="#fcff03"/><stop offset="0.744" stop-color="#61ff9e"/><stop offset="0.824" stop-color="#03fffc"/><stop offset="0.856" stop-color="#006dff"/><stop offset="0.864" stop-color="#0053ff"/><stop offset="0.880" stop-color="#0036ff"/><stop offset="0.912" stop-color="#0027ff"/><stop offset="1.000" stop-color="#0026ff"/></linearGradient>
<linearGradient id="g43" x1="0" y1="0" x2="0" y2="1"><stop offset="0.000" stop-color="#0026ff"/><stop offset="0.096" stop-color="#0027ff"/><stop offset="0.128" stop-color="#0034ff"/><stop offset="0.144" stop-color="#0050ff"/><stop offset="0.152" stop-color="#006aff"/><stop offset="0.184" stop-color="#05fffa"/><stop offset="0.264" stop-color="#75ff8a"/><stop offset="0.336" stop-color="#f7ff08"/><stop offset="0.344" stop-color="#fff900"/><stop offset="0.384" stop-color="#ffbc00"/><stop offset="0.416" stop-color="#ff9f00"/><stop offset="0.456" stop-color="#ff9000"/><stop offset="0.512" stop-color="#ff8e00"/><stop offset="0.560" stop-color="#ff9400"/><stop offset="0.592" stop-color="#ffa600"/><stop offset="0.624" stop-color="#ffc900"/><stop offset="0.656" stop-color="#fffc00"/><stop offset="0.736" stop-color="#72ff8d"/><stop offset="0.816" stop-color="#03fffc"/><stop offset="0.840" stop-color="#0085ff"/><stop offset="0.848" stop-color="#0064ff"/><stop offset="0.856" stop-color="#004cff"/><stop offset="0.872" stop-color="#0032ff"/><stop offset="0.904" stop-color="#0027ff"/><stop offset="1.000" stop-color="#0026ff"/></linearGradient>
<linearGradient id="g44" x1="0" y1="0" x2="0" y2="1"><stop offset="0.000" stop-color="#0026ff"/><stop offset="0.104" stop-color="#0027ff"/><stop offset="0.136" stop-color="#0032ff"/><stop offset="0.152" stop-color="#004dff"/><stop offset="0.160" stop-color="#0066ff"/><stop offset="0.184" stop-color="#00dbff"/><stop offset="0.192" stop-color="#06fff9"/><stop offset="0.272" stop-color="#8aff75"/><stop offset="0.336" stop-color="#ffff00"/><stop offset="0.344" stop-color="#fff100"/><stop offset="0.384" stop-color="#ffb500"/><stop offset="0.416" stop-color="#ff9700"/><stop offset="0.456" stop-color="#ff8800"/><stop offset="0.520" stop-color="#ff8600"/><stop offset="0.560" stop-color="#ff8c00"/><stop offset="0.592" stop-color="#ff9e00"/><stop offset="0.624" stop-color="#ffc100"/><stop offset="0.664" stop-color="#fcff03"/><stop offset="0.720" stop-color="#95ff6a"/><stop offset="0.808" stop-color="#03fffc"/><stop offset="0.832" stop-color="#0081ff"/><stop offset="0.840" stop-color="#0060ff"/><stop offset="0.848" stop-color="#0049ff"/><stop offset="0.864" stop-color="#0031ff"/><stop offset="0.896" stop-color="#0027ff"/><stop offset="1.000" stop-color="#0026ff"/></linearGradient>
<linearGradient id="g45" x1="0" y1="0" x2="0" y2="1"><stop offset="0.000" stop-color="#0026ff"/><stop offset="0.112" stop-color="#0027ff"/><stop offset="0.144" stop-color="#0031ff"/><stop offset="0.160" stop-color="#004dff"/><stop offset="0.168" stop-color="#0067ff"/><stop offset="0.192" stop-color="#00dfff"/><stop offset="0.200" stop-color="#0bfff4"/><stop offset="0.328" stop-color="#fbff04"/><stop offset="0.336" stop-color="#fff500"/><stop offset="0.376" stop-color="#ffb600"/><stop offset="0.416" stop-color="#ff8f00"/><stop offset="0.456" stop-color="#ff8000"/><stop offset="0.512" stop-color="#ff7e00"/><stop offset="0.560" stop-color="#ff8500"/><stop offset="0.592" stop-color="#ff9600"/><stop offset="0.624" stop-color="#ffb800"/><stop offset="0.664" stop-color="#fff800"/><stop offset="0.672" stop-color="#f8ff07"/><stop offset="0.800" stop-color="#07fff8"/><stop offset="0.808" stop-color="#00d9ff"/><stop offset="0.824" stop-color="#0084ff"/><stop offset="0.832" stop-color="#0061ff"/><stop offset="0.840" stop-color="#0049ff"/><stop offset="0.856" stop-color="#0030ff"/><stop offset="0.888" stop-color="#0027ff"/><stop offset="1.000" stop-color="#0026ff"/></linearGradient>
<linearGradient id="g46" x1="0" y1="0" x2="0" y2="1"><stop offset="0.000" stop-color="#0026ff"/><stop offset="0.120" stop-color="#0027ff"/><stop offset="0.152" stop-color="#0031ff"/><stop offset="0.168" stop-color="#004cff"/><stop offset="0.176" stop-color="#0068ff"/><stop offset="0.200" stop-color="#00e3ff"/><stop offset="0.208" stop-color="#10ffef"/><stop offset="0.264" stop-color="#8dff72"/><stop offset="0.320" stop-color="#f8ff07"/><stop offset="0.328" stop-color="#fff800"/><stop offset="0.368" stop-color="#ffb700"/><stop offset="0.408" stop-color="#ff8c00"/><stop offset="0.448" stop-color="#ff7a00"/><stop offset="0.512" stop-color="#ff7700"/><stop offset="0.560" stop-color="#ff7d00"/><stop offset="0.592" stop-color="#ff8e00"/><stop offset="0.632" stop-color="#ffb900"/><stop offset="0.672" stop-color="#fffb00"/><stop offset="0.744" stop-color="#7aff85"/><stop offset="0.792" stop-color="#0cfff3"/><stop offset="0.800" stop-color="#00deff"/><stop offset="0.824" stop-color="#0061ff"/><stop offset="0.832" stop-color="#0048ff"/><stop offset="0.848" stop-color="#002fff"/><stop offset="0.880" stop-color="#0027ff"/><stop offset="1.000" stop-color="#0026ff"/></linearGradient>
<linearGradient id="g47" x1="0" y1="0" x2="0" y2="1"><stop offset="0.000" stop-color="#0026ff"/><stop offset="0.128" stop-color="#0027ff"/><stop offset="0.160" stop-color="#0030ff"/><stop offset="0.176" stop-color="#004cff"/><stop offset="0.184" stop-color="#0069ff"/><stop offset="0.200" stop-color="#00c2ff"/><stop offset="0.208" stop-color="#00fdff"/><stop offset="0.256" stop-color="#81ff7e"/><stop offset="0.304" stop-color="#e6ff19"/><stop offset="0.320" stop-color="#fff900"/><stop offset="0.368" stop-color="#ffab00"/><stop offset="0.408" stop-color="#ff8200"/><stop offset="0.448" stop-color="#ff7000"/><stop offset="0.512" stop-color="#ff6d00"/><stop offset="0.560" stop-color="#ff7300"/><stop offset="0.600" stop-color="#ff8900"/><stop offset="0.640" stop-color="#ffb900"/><stop offset="0.680" stop-color="#fffc00"/><stop offset="0.736" stop-color="#90ff6f"/><stop offset="0.784" stop-color="#12ffed"/><stop offset="0.792" stop-color="#00e2ff"/><stop offset="0.816" stop-color="#0062ff"/><stop offset="0.824" stop-color="#0048ff"/><stop offset="0.840" stop-color="#002fff"/><stop offset="0.864" stop-color="#0027ff"/><stop offset="1.000" stop-color="#0026ff"/></linearGradient>
<linearGradient id="g48" x1="0" y1="0" x2="0" y2="1"><stop offset="0.000" stop-color="#0026ff"/><stop offset="0.144" stop-color="#0027ff"/><stop offset="0.168" stop-color="#002fff"/><stop offset="0.184" stop-color="#004cff"/><stop offset="0.192" stop-color="#006aff"/><stop offset="0.200" stop-color="#0096ff"/><stop offset="0.216" stop-color="#03fffc"/><stop offset="0.240" stop-color="#54ffab"/><stop offset="0.264" stop-color="#97ff68"/><stop offset="0.296" stop-color="#e2ff1d"/><stop offset="0.312" stop-color="#fffb00"/><stop offset="0.360" stop-color="#ffa800"/><stop offset="0.400" stop-color="#ff7b00"/><stop offset="0.448" stop-color="#ff6500"/><stop offset="0.512" stop-color="#ff6200"/><stop offset="0.560" stop-color="#ff6700"/><stop offset="0.600" stop-color="#ff7d00"/><stop offset="0.640" stop-color="#ffaa00"/><stop offset="0.688" stop-color="#fffe00"/><stop offset="0.736" stop-color="#93ff6c"/><stop offset="0.776" stop-color="#1affe5"/><stop offset="0.784" stop-color="#00e5ff"/><stop offset="0.808" stop-color="#0063ff"/><stop offset="0.816" stop-color="#0047ff"/><stop offset="0.832" stop-color="#002eff"/><stop offset="0.856" stop-color="#0027ff"/><stop offset="1.000" stop-color="#0026ff"/></linearGradient>
<linearGradient id="g49" x1="0" y1="0" x2="0" y2="1"><stop offset="0.000" stop-color="#0026ff"/><stop offset="0.152" stop-color="#0027ff"/><stop offset="0.176" stop-color="#002eff"/><stop offset="0.192" stop-color="#004aff"/><stop offset="0.200" stop-color="#006aff"/><stop offset="0.216" stop-color="#00ccff"/><stop offset="0.224" stop-color="#08fff7"/><stop offset="0.248" stop-color="#63ff9c"/><stop offset="0.272" stop-color="#aeff51"/><stop offset="0.304" stop-color="#feff01"/><stop offset="0.312" stop-color="#ffee00"/><stop offset="0.360" stop-color="#ff9a00"/><stop offset="0.408" stop-color="#ff6900"/><stop offset="0.456" stop-color="#ff5800"/><stop offset="0.528" stop-color="#ff5600"/><stop offset="0.576" stop-color="#ff6100"/><stop offset="0.616" stop-color="#ff7e00"/><stop offset="0.648" stop-color="#ffa800"/><stop offset="0.696" stop-color="#fbff04"/><stop offset="0.736" stop-color="#92ff6d"/><stop offset="0.760" stop-color="#41ffbe"/><stop offset="0.776" stop-color="#01fffe"/><stop offset="0.792" stop-color="#008dff"/><stop offset="0.800" stop-color="#0062ff"/><stop offset="0.808" stop-color="#0046ff"/><stop offset="0.824" stop-color="#002dff"/><stop offset="0.848" stop-color="#0027ff"/><stop offset="1.000" stop-color="#0026ff"/></linearGradient>
<linearGradient id="g50" x1="0" y1="0" x2="0" y2="1"><stop offset="0.000" stop-color="#0026ff"/><stop offset="0.160" stop-color="#0027ff"/><stop offset="0.184" stop-color="#002dff"/><stop offset="0.200" stop-color="#0048ff"/><stop offset="0.208" stop-color="#0067ff"/><stop offset="0.224" stop-color="#00ceff"/><stop offset="0.232" stop-color="#0cfff3"/><stop offset="0.248" stop-color="#53ffac"/><stop offset="0.272" stop-color="#abff54"/><stop offset="0.296" stop-color="#f2ff0d"/><stop offset="0.304" stop-color="#fff700"/><stop offset="0.344" stop-color="#ffa500"/><stop offset="0.392" stop-color="#ff6800"/><stop offset="0.440" stop-color="#ff4f00"/><stop offset="0.512" stop-color="#ff4b00"/><stop offset="0.568" stop-color="#ff5200"/><stop offset="0.616" stop-color="#ff7100"/><stop offset="0.656" stop-color="#ffa700"/><stop offset="0.696" stop-color="#fffb00"/><stop offset="0.712" stop-color="#d8ff27"/><stop offset="0.736" stop-color="#8aff75"/><stop offset="0.768" stop-color="#04fffb"/><stop offset="0.784" stop-color="#008cff"/><stop offset="0.792" stop-color="#0060ff"/><stop offset="0.800" stop-color="#0043ff"/><stop offset="0.816" stop-color="#002cff"/><stop offset="1.000" stop-color="#0026ff"/></linearGradient>
<linearGradient id="g51" x1="0" y1="0" x2="0" y2="1"><stop offset="0.000" stop-color="#0026ff"/><stop offset="0.192" stop-color="#002cff"/><stop offset="0.208" stop-color="#0045ff"/><stop offset="0.216" stop-color="#0065ff"/><stop offset="0.232" stop-color="#00d1ff"/><stop offset="0.240" stop-color="#10ffef"/><stop offset="0.256" stop-color="#5fffa0"/><stop offset="0.272" stop-color="#a2ff5d"/><stop offset="0.296" stop-color="#f4ff0b"/><stop offset="0.304" stop-color="#fff300"/><stop offset="0.344" stop-color="#ff9900"/><stop offset="0.368" stop-color="#ff7400"/><stop offset="0.392" stop-color="#ff5b00"/><stop offset="0.440" stop-color="#ff4300"/><stop offset="0.512" stop-color="#ff3f00"/><stop offset="0.568" stop-color="#ff4600"/><stop offset="0.616" stop-color="#ff6400"/><stop offset="0.656" stop-color="#ff9b00"/><stop offset="0.696" stop-color="#fff700"/><stop offset="0.704" stop-color="#efff10"/><stop offset="0.728" stop-color="#9cff63"/><stop offset="0.744" stop-color="#58ffa7"/><stop offset="0.760" stop-color="#08fff7"/><stop offset="0.776" stop-color="#008cff"/><stop offset="0.784" stop-color="#005dff"/><stop offset="0.792" stop-color="#0041ff"/><stop offset="0.800" stop-color="#0032ff"/><stop offset="0.824" stop-color="#0027ff"/><stop offset="1.000" stop-color="#0026ff"/></linearGradient>
<linearGradient id="g52" x1="0" y1="0" x2="0" y2="1"><stop offset="0.000" stop-color="#0026ff"/><stop offset="0.200" stop-color="#002bff"/><stop offset="0.216" stop-color="#0042ff"/><stop offset="0.224" stop-color="#0062ff"/><stop offset="0.240" stop-color="#00d3ff"/><stop offset="0.248" stop-color="#16ffe9"/><stop offset="0.264" stop-color="#6bff94"/><stop offset="0.280" stop-color="#b4ff4b"/><stop offset="0.296" stop-color="#f1ff0e"/><stop offset="0.304" stop-color="#fff300"/><stop offset="0.328" stop-color="#ffb100"/><stop offset="0.360" stop-color="#ff7400"/><stop offset="0.392" stop-color="#ff4f00"/><stop offset="0.432" stop-color="#ff3900"/><stop offset="0.544" stop-color="#ff3500"/><stop offset="0.600" stop-color="#ff4a00"/><stop offset="0.624" stop-color="#ff6000"/><stop offset="0.648" stop-color="#ff8300"/><stop offset="0.672" stop-color="#ffb400"/><stop offset="0.696" stop-color="#fff800"/><stop offset="0.704" stop-color="#ebff14"/><stop offset="0.720" stop-color="#adff52"/><stop offset="0.736" stop-color="#63ff9c"/><stop offset="0.752" stop-color="#0cfff3"/><stop offset="0.760" stop-color="#00c8ff"/><stop offset="0.768" stop-color="#008bff"/><stop offset="0.776" stop-color="#005bff"/><stop offset="0.784" stop-color="#003eff"/><stop offset="0.792" stop-color="#0030ff"/><stop offset="0.816" stop-color="#0027ff"/><stop offset="1.000" stop-color="#0026ff"/></linearGradient>
<linearGradient id="g53" x1="0" y1="0" x2="0" y2="1"><stop offset="0.000" stop-color="#00e5ff"/><stop offset="0.016" stop-color="#36ffc9"/><stop offset="0.032" stop-color="#78ff87"/><stop offset="0.048" stop-color="#b1ff4e"/><stop offset="0.063" stop-color="#e0ff1f"/><stop offset="0.079" stop-color="#fff600"/><stop offset="0.111" stop-color="#ffb900"/><stop offset="0.143" stop-color="#ff8d00"/><stop offset="0.175" stop-color="#ff6e00"/><stop offset="0.222" stop-color="#ff5000"/><stop offset="0.333" stop-color="#ff3100"/><stop offset="0.492" stop-color="#ff2600"/><stop offset="0.667" stop-color="#ff3100"/><stop offset="0.778" stop-color="#ff5000"/><stop offset="0.825" stop-color="#ff6e00"/><stop offset="0.857" stop-color="#ff8d00"/><stop offset="0.889" stop-color="#ffb900"/><stop offset="0.921" stop-color="#fff600"/><stop offset="0.937" stop-color="#e0ff1f"/><stop offset="0.952" stop-color="#b1ff4e"/><stop offset="0.968" stop-color="#78ff87"/><stop offset="0.984" stop-color="#36ffc9"/><stop offset="1.000" stop-color="#00e5ff"/></linearGradient>
<linearGradient id="g54" x1="0" y1="0" x2="0" y2="1"><stop offset="0.000" stop-color="#00e5ff"/><stop offset="0.016" stop-color="#35ffca"/><stop offset="0.032" stop-color="#78ff87"/><stop offset="0.048" stop-color="#b0ff4f"/><stop offset="0.063" stop-color="#dfff20"/><stop offset="0.079" stop-color="#fff700"/><stop offset="0.111" stop-color="#ffba00"/><stop offset="0.143" stop-color="#ff8f00"/><stop offset="0.175" stop-color="#ff7000"/><stop offset="0.222" stop-color="#ff5100"/><stop offset="0.333" stop-color="#ff3200"/><stop offset="0.492" stop-color="#ff2700"/><stop offset="0.667" stop-color="#ff3200"/><stop offset="0.778" stop-color="#ff5100"/><stop offset="0.825" stop-color="#ff7000"/><stop offset="0.857" stop-color="#ff8f00"/><stop offset="0.889" stop-color="#ffba00"/><stop offset="0.921" stop-color="#fff700"/><stop offset="0.937" stop-color="#dfff20"/><stop offset="0.952" stop-color="#b0ff4f"/><stop offset="0.968" stop-color="#78ff87"/><stop offset="0.984" stop-color="#35ffca"/><stop offset="1.000" stop-color="#00e5ff"/></linearGradient>
<linearGradient id="g55" x1="0" y1="0" x2="0" y2="1"><stop offset="0.000" stop-color="#00e5ff"/><stop offset="0.016" stop-color="#35ffca"/><stop offset="0.032" stop-color="#77ff88"/><stop offset="0.048" stop-color="#afff50"/><stop offset="0.063" stop-color="#deff21"/><stop offset="0.079" stop-color="#fff800"/><stop offset="0.111" stop-color="#ffbb00"/><stop offset="0.143" stop-color="#ff9000"/><stop offset="0.175" stop-color="#ff7100"/><stop offset="0.222" stop-color="#ff5300"/><stop offset="0.333" stop-color="#ff3400"/><stop offset="0.492" stop-color="#ff2900"/><stop offset="0.667" stop-color="#ff3400"/><stop offset="0.778" stop-color="#ff5300"/><stop offset="0.825" stop-color="#ff7100"/><stop offset="0.857" stop-color="#ff9000"/><stop offset="0.889" stop-color="#ffbb00"/><stop offset="0.921" stop-color="#fff800"/><stop offset="0.937" stop-color="#deff21"/><stop offset="0.952" stop-color="#afff50"/><stop offset="0.968" stop-color="#77ff88"/><stop offset="0.984" stop-color="#35ffca"/><stop offset="1.000" stop-color="#00e5ff"/></linearGradient>
<linearGradient id="g56" x1="0" y1="0" x2="0" y2="1"><stop offset="0.000" stop-color="#00e5ff"/><stop offset="0.016" stop-color="#35ffca"/><stop offset="0.032" stop-color="#77ff88"/><stop offset="0.048" stop-color="#afff50"/><stop offset="0.063" stop-color="#ddff22"/><stop offset="0.079" stop-color="#fff900"/><stop offset="0.111" stop-color="#ffbc00"/><stop offset="0.143" stop-color="#ff9100"/><stop offset="0.175" stop-color="#ff7200"/><stop offset="0.222" stop-color="#ff5400"/><stop offset="0.333" stop-color="#ff3500"/><stop offset="0.492" stop-color="#ff2a00"/><stop offset="0.667" stop-color="#ff3500"/><stop offset="0.778" stop-color="#ff5400"/><stop offset="0.825" stop-color="#ff7200"/><stop offset="0.857" stop-color="#ff9100"/><stop offset="0.889" stop-color="#ffbc00"/><stop offset="0.921" stop-color="#fff900"/><stop offset="0.937" stop-color="#ddff22"/><stop offset="0.952" stop-color="#afff50"/><stop offset="0.968" stop-color="#77ff88"/><stop offset="0.984" stop-color="#35ffca"/><stop offset="1.000" stop-color="#00e5ff"/></linearGradient>
<linearGradient id="g57" x1="0" y1="0" x2="0" y2="1"><stop offset="0.000" stop-color="#00e5ff"/><stop offset="0.016" stop-color="#35ffca"/><stop offset="0.032" stop-color="#77ff88"/><stop offset="0.048" stop-color="#aeff51"/><stop offset="0.063" stop-color="#ddff22"/><stop offset="0.079" stop-color="#fffa00"/><stop offset="0.111" stop-color="#ffbd00"/><stop offset="0.143" stop-color="#ff9200"/><stop offset="0.175" stop-color="#ff7400"/><stop offset="0.222" stop-color="#ff5600"/><stop offset="0.333" stop-color="#ff3700"/><stop offset="0.492" stop-color="#ff2c00"/><stop offset="0.667" stop-color="#ff3700"/><stop offset="0.778" stop-color="#ff5600"/><stop offset="0.825" stop-color="#ff7400"/><stop offset="0.857" stop-color="#ff9200"/><stop offset="0.889" stop-color="#ffbd00"/><stop offset="0.921" stop-color="#fffa00"/><stop offset="0.937" stop-color="#ddff22"/><stop offset="0.952" stop-color="#aeff51"/><stop offset="0.968" stop-color="#77ff88"/><stop offset="0.984" stop-color="#35ffca"/><stop offset="1.000" stop-color="#00e5ff"/></linearGradient>
<linearGradient id="g58" x1="0" y1="0" x2="0" y2="1"><stop offset="0.000" stop-color="#00e5ff"/><stop offset="0.016" stop-color="#34ffcb"/><stop offset="0.032" stop-color="#76ff89"/><stop offset="0.048" stop-color="#adff52"/><stop offset="0.063" stop-color="#dcff23"/><stop offset="0.079" stop-color="#fffb00"/><stop offset="0.111" stop-color="#ffbf00"/><stop offset="0.143" stop-color="#ff9400"/><stop offset="0.175" stop-color="#ff7500"/><stop offset="0.222" stop-color="#ff5700"/><stop offset="0.333" stop-color="#ff3800"/><stop offset="0.492" stop-color="#ff2e00"/><stop offset="0.667" stop-color="#ff3800"/><stop offset="0.778" stop-color="#ff5700"/><stop offset="0.825" stop-color="#ff7500"/><stop offset="0.857" stop-color="#ff9400"/><stop offset="0.889" stop-color="#ffbf00"/><stop offset="0.921" stop-color="#fffb00"/><stop offset="0.937" stop-color="#dcff23"/><stop offset="0.952" stop-color="#adff52"/><stop offset="0.968" stop-color="#76ff89"/><stop offset="0.984" stop-color="#34ffcb"/><stop offset="1.000" stop-color="#00e5ff"/></linearGradient>
<linearGradient id="g59" x1="0" y1="0" x2="0" y2="1"><stop offset="0.000" stop-color="#00e5ff"/><stop offset="0.016" stop-color="#34ffcb"/><stop offset="0.032" stop-color="#76ff89"/><stop offset="0.048" stop-color="#adff52"/><stop offset="0.063" stop-color="#dbff24"/><stop offset="0.079" stop-color="#fffc00"/><stop offset="0.111" stop-color="#ffc000"/><stop offset="0.143" stop-color="#ff9500"/><stop offset="0.175" stop-color="#ff7700"/><stop offset="0.222" stop-color="#ff5900"/><stop offset="0.333" stop-color="#ff3a00"/><stop offset="0.492" stop-color="#ff2f00"/><stop offset="0.667" stop-color="#ff3a00"/><stop offset="0.778" stop-color="#ff5900"/><stop offset="0.825" stop-color="#ff7700"/><stop offset="0.857" stop-color="#ff9500"/><stop offset="0.889" stop-color="#ffc000"/><stop offset="0.921" stop-color="#fffc00"/><stop offset="0.937" stop-color="#dbff24"/><stop offset="0.952" stop-color="#adff52"/><stop offset="0.968" stop-color="#76ff89"/><stop offset="0.984" stop-color="#34ffcb"/><stop offset="1.000" stop-color="#00e5ff"/></linearGradient>
<linearGradient id="g60" x1="0" y1="0" x2="0" y2="1"><stop offset="0.000" stop-color="#00e5ff"/><stop offset="0.016" stop-color="#34ffcb"/><stop offset="0.032" stop-color="#75ff8a"/><stop offset="0.048" stop-color="#acff53"/><stop offset="0.079" stop-color="#fffd00"/><stop offset="0.111" stop-color="#ffc100"/><stop offset="0.143" stop-color="#ff9600"/><stop offset="0.175" stop-color="#ff7800"/><stop offset="0.222" stop-color="#ff5a00"/><stop offset="0.333" stop-color="#ff3c00"/><stop offset="0.492" stop-color="#ff3100"/><stop offset="0.667" stop-color="#ff3c00"/><stop offset="0.778" stop-color="#ff5a00"/><stop offset="0.825" stop-color="#ff7800"/><stop offset="0.857" stop-color="#ff9600"/><stop offset="0.889" stop-color="#ffc100"/><stop offset="0.921" stop-color="#fffd00"/><stop offset="0.952" stop-color="#acff53"/><stop offset="0.968" stop-color="#75ff8a"/><stop offset="0.984" stop-color="#34ffcb"/><stop offset="1.000" stop-color="#00e5ff"/></linearGradient>
<linearGradient id="g61" x1="0" y1="0" x2="0" y2="1"><stop offset="0.000" stop-color="#00e5ff"/><stop offset="0.016" stop-color="#34ffcb"/><stop offset="0.032" stop-color="#75ff8a"/><stop offset="0.048" stop-color="#abff54"/><stop offset="0.079" stop-color="#fffe00"/><stop offset="0.111" stop-color="#ffc200"/><stop offset="0.143" stop-color="#ff9700"/><stop offset="0.175" stop-color="#ff7900"/><stop offset="0.222" stop-color="#ff5c00"/><stop offset="0.333" stop-color="#ff3d00"/><stop offset="0.492" stop-color="#ff3300"/><stop offset="0.667" stop-color="#ff3d00"/><stop offset="0.778" stop-color="#ff5c00"/><stop offset="0.825" stop-color="#ff7900"/><stop offset="0.857" stop-color="#ff9700"/><stop offset="0.889" stop-color="#ffc200"/><stop offset="0.921" stop-color="#fffe00"/><stop offset="0.952" stop-color="#abff54"/><stop offset="0.968" stop-color="#75ff8a"/><stop offset="0.984" stop-color="#34ffcb"/><stop offset="1.000" stop-color="#00e5ff"/></linearGradient>
<linearGradient id="g62" x1="0" y1="0" x2="0" y2="1"><stop offset="0.000" stop-color="#00e5ff"/><stop offset="0.016" stop-color="#33ffcc"/><stop offset="0.032" stop-color="#74ff8b"/><stop offset="0.048" stop-color="#abff54"/><stop offset="0.079" stop-color="#ffff00"/><stop offset="0.111" stop-color="#ffc300"/><stop offset="0.143" stop-color="#ff9900"/><stop offset="0.175" stop-color="#ff7b00"/><stop offset="0.222" stop-color="#ff5d00"/><stop offset="0.333" stop-color="#ff3f00"/><stop offset="0.492" stop-color="#ff3400"/><stop offset="0.667" stop-color="#ff3f00"/><stop offset="0.778" stop-color="#ff5d00"/><stop offset="0.825" stop-color="#ff7b00"/><stop offset="0.857" stop-color="#ff9900"/><stop offset="0.889" stop-color="#ffc300"/><stop offset="0.921" stop-color="#ffff00"/><stop offset="0.952" stop-color="#abff54"/><stop offset="0.968" stop-color="#74ff8b"/><stop offset="0.984" stop-color="#33ffcc"/><stop offset="1.000" stop-color="#00e5ff"/></linearGradient>
<linearGradient id="g63" x1="0" y1="0" x2="0" y2="1"><stop offset="0.000" stop-color="#00e5ff"/><stop offset="0.016" stop-color="#33ffcc"/><stop offset="0.032" stop-color="#74ff8b"/><stop offset="0.063" stop-color="#d8ff27"/><stop offset="0.079" stop-color="#feff01"/><stop offset="0.095" stop-color="#ffdf00"/><stop offset="0.127" stop-color="#ffad00"/><stop offset="0.159" stop-color="#ff8a00"/><stop offset="0.190" stop-color="#ff7100"/><stop offset="0.238" stop-color="#ff5800"/><stop offset="0.349" stop-color="#ff3e00"/><stop offset="0.540" stop-color="#ff3700"/><stop offset="0.698" stop-color="#ff4600"/><stop offset="0.794" stop-color="#ff6700"/><stop offset="0.857" stop-color="#ff9a00"/><stop offset="0.889" stop-color="#ffc400"/><stop offset="0.921" stop-color="#feff01"/><stop offset="0.952" stop-color="#aaff55"/><stop offset="0.968" stop-color="#74ff8b"/><stop offset="0.984" stop-color="#33ffcc"/><stop offset="1.000" stop-color="#00e5ff"/></linearGradient>
<linearGradient id="g64" x1="0" y1="0" x2="0" y2="1"><stop offset="0.000" stop-color="#00e5ff"/><stop offset="0.016" stop-color="#33ffcc"/><stop offset="0.032" stop-color="#73ff8c"/><stop offset="0.063" stop-color="#d7ff28"/><stop offset="0.079" stop-color="#fdff02"/><stop offset="0.095" stop-color="#ffe100"/><stop offset="0.127" stop-color="#ffae00"/><stop offset="0.159" stop-color="#ff8b00"/><stop offset="0.190" stop-color="#ff7200"/><stop offset="0.238" stop-color="#ff5900"/><stop offset="0.349" stop-color="#ff4000"/><stop offset="0.540" stop-color="#ff3800"/><stop offset="0.698" stop-color="#ff4700"/><stop offset="0.794" stop-color="#ff6800"/><stop offset="0.857" stop-color="#ff9b00"/><stop offset="0.889" stop-color="#ffc500"/><stop offset="0.921" stop-color="#fdff02"/><stop offset="0.952" stop-color="#a9ff56"/><stop offset="0.968" stop-color="#73ff8c"/><stop offset="0.984" stop-color="#33ffcc"/><stop offset="1.000" stop-color="#00e5ff"/></linearGradient>
<linearGradient id="g65" x1="0" y1="0" x2="0" y2="1"><stop offset="0.000" stop-color="#00e5ff"/><stop offset="0.016" stop-color="#33ffcc"/><stop offset="0.032" stop-color="#73ff8c"/><stop offset="0.063" stop-color="#d6ff29"/><stop offset="0.079" stop-color="#fcff03"/><stop offset="0.095" stop-color="#ffe200"/><stop offset="0.127" stop-color="#ffb000"/><stop offset="0.159" stop-color="#ff8c00"/><stop offset="0.190" stop-color="#ff7300"/><stop offset="0.238" stop-color="#ff5b00"/><stop offset="0.349" stop-color="#ff4100"/><stop offset="0.540" stop-color="#ff3a00"/><stop offset="0.698" stop-color="#ff4900"/><stop offset="0.794" stop-color="#ff6a00"/><stop offset="0.857" stop-color="#ff9d00"/><stop offset="0.889" stop-color="#ffc600"/><stop offset="0.921" stop-color="#fcff03"/><stop offset="0.952" stop-color="#a9ff56"/><stop offset="0.968" stop-color="#73ff8c"/><stop offset="0.984" stop-color="#33ffcc"/><stop offset="1.000" stop-color="#00e5ff"/></linearGradient>
<linearGradient id="g66" x1="0" y1="0" x2="0" y2="1"><stop offset="0.000" stop-color="#00e5ff"/><stop offset="0.016" stop-color="#32ffcd"/><stop offset="0.032" stop-color="#72ff8d"/><stop offset="0.063" stop-color="#d5ff2a"/><stop offset="0.079" stop-color="#fbff04"/><stop offset="0.095" stop-color="#ffe300"/><stop offset="0.127" stop-color="#ffb100"/><stop offset="0.159" stop-color="#ff8e00"/><stop offset="0.190" stop-color="#ff7500"/><stop offset="0.238" stop-color="#ff5c00"/><stop offset="0.349" stop-color="#ff4300"/><stop offset="0.540" stop-color="#ff3c00"/><stop offset="0.698" stop-color="#ff4a00"/><stop offset="0.794" stop-color="#ff6b00"/><stop offset="0.857" stop-color="#ff9e00"/><stop offset="0.889" stop-color="#ffc800"/><stop offset="0.921" stop-color="#fbff04"/><stop offset="0.952" stop-color="#a8ff57"/><stop offset="0.968" stop-color="#72ff8d"/><stop offset="0.984" stop-color="#32ffcd"/><stop offset="1.000" stop-color="#00e5ff"/></linearGradient>
<linearGradient id="g67" x1="0" y1="0" x2="0" y2="1"><stop offset="0.000" stop-color="#00e5ff"/><stop offset="0.016" stop-color="#32ffcd"/><stop offset="0.032" stop-color="#72ff8d"/><stop offset="0.063" stop-color="#d4ff2b"/><stop offset="0.079" stop-color="#faff05"/><stop offset="0.095" stop-color="#ffe400"/><stop offset="0.127" stop-color="#ffb200"/><stop offset="0.159" stop-color="#ff8f00"/><stop offset="0.190" stop-color="#ff7600"/><stop offset="0.238" stop-color="#ff5e00"/><stop offset="0.333" stop-color="#ff4700"/><stop offset="0.492" stop-color="#ff3c00"/><stop offset="0.651" stop-color="#ff4500"/><stop offset="0.762" stop-color="#ff5e00"/><stop offset="0.810" stop-color="#ff7600"/><stop offset="0.841" stop-color="#ff8f00"/><stop offset="0.873" stop-color="#ffb200"/><stop offset="0.905" stop-color="#ffe400"/><stop offset="0.921" stop-color="#faff05"/><stop offset="0.937" stop-color="#d4ff2b"/><stop offset="0.968" stop-color="#72ff8d"/><stop offset="0.984" stop-color="#32ffcd"/><stop offset="1.000" stop-color="#00e5ff"/></linearGradient>
<linearGradient id="g68" x1="0" y1="0" x2="0" y2="1"><stop offset="0.000" stop-color="#00e5ff"/><stop offset="0.016" stop-color="#32ffcd"/><stop offset="0.032" stop-color="#71ff8e"/><stop offset="0.063" stop-color="#d4ff2b"/><stop offset="0.079" stop-color="#f9ff06"/><stop offset="0.095" stop-color="#ffe500"/><stop offset="0.127" stop-color="#ffb300"/><stop offset="0.159" stop-color="#ff9000"/><stop offset="0.190" stop-color="#ff7800"/><stop offset="0.238" stop-color="#ff5f00"/><stop offset="0.333" stop-color="#ff4800"/><stop offset="0.492" stop-color="#ff3e00"/><stop offset="0.651" stop-color="#ff4600"/><stop offset="0.762" stop-color="#ff5f00"/><stop offset="0.810" stop-color="#ff7800"/><stop offset="0.841" stop-color="#ff9000"/><stop offset="0.873" stop-color="#ffb300"/><stop offset="0.905" stop-color="#ffe500"/><stop offset="0.921" stop-color="#f9ff06"/><stop offset="0.937" stop-color="#d4ff2b"/><stop offset="0.968" stop-color="#71ff8e"/><stop offset="0.984" stop-color="#32ffcd"/><stop offset="1.000" stop-color="#00e5ff"/></linearGradient>
<linearGradient id="g69" x1="0" y1="0" x2="0" y2="1"><stop offset="0.000" stop-color="#00e5ff"/><stop offset="0.016" stop-color="#32ffcd"/><stop offset="0.032" stop-color="#71ff8e"/><stop offset="0.063" stop-color="#d3ff2c"/><stop offset="0.079" stop-color="#f9ff06"/><stop offset="0.095" stop-color="#ffe600"/><stop offset="0.127" stop-color="#ffb500"/><stop offset="0.159" stop-color="#ff9200"/><stop offset="0.190" stop-color="#ff7900"/><stop offset="0.238" stop-color="#ff6100"/><stop offset="0.333" stop-color="#ff4a00"/><stop offset="0.492" stop-color="#ff3f00"/><stop offset="0.651" stop-color="#ff4800"/><stop offset="0.762" stop-color="#ff6100"/><stop offset="0.810" stop-color="#ff7900"/><stop offset="0.841" stop-color="#ff9200"/><stop offset="0.873" stop-color="#ffb500"/><stop offset="0.905" stop-color="#ffe600"/><stop offset="0.921" stop-color="#f9ff06"/><stop offset="0.937" stop-color="#d3ff2c"/><stop offset="0.968" stop-color="#71ff8e"/><stop offset="0.984" stop-color="#32ffcd"/><stop offset="1.000" stop-color="#00e5ff"/></linearGradient>
<linearGradient id="g70" x1="0" y1="0" x2="0" y2="1"><stop offset="0.000" stop-color="#00e5ff"/><stop offset="0.016" stop-color="#31ffce"/><stop offset="0.032" stop-color="#70ff8f"/><stop offset="0.063" stop-color="#d2ff2d"/><stop offset="0.079" stop-color="#f8ff07"/><stop offset="0.095" stop-color="#ffe700"/><stop offset="0.127" stop-color="#ffb600"/><stop offset="0.159" stop-color="#ff9300"/><stop offset="0.190" stop-color="#ff7a00"/><stop offset="0.238" stop-color="#ff6200"/><stop offset="0.333" stop-color="#ff4b00"/><stop offset="0.492" stop-color="#ff4100"/><stop offset="0.651" stop-color="#ff4900"/><stop offset="0.762" stop-color="#ff6200"/><stop offset="0.810" stop-color="#ff7a00"/><stop offset="0.841" stop-color="#ff9300"/><stop offset="0.873" stop-color="#ffb600"/><stop offset="0.905" stop-color="#ffe700"/><stop offset="0.921" stop-color="#f8ff07"/><stop offset="0.937" stop-color="#d2ff2d"/><stop offset="0.968" stop-color="#70ff8f"/><stop offset="0.984" stop-color="#31ffce"/><stop offset="1.000" stop-color="#00e5ff"/></linearGradient>
<linearGradient id="g71" x1="0" y1="0" x2="0" y2="1"><stop offset="0.000" stop-color="#00e5ff"/><stop offset="0.016" stop-color="#31ffce"/><stop offset="0.032" stop-color="#70ff8f"/><stop offset="0.063" stop-color="#d1ff2e"/><stop offset="0.079" stop-color="#f7ff08"/><stop offset="0.095" stop-color="#ffe800"/><stop offset="0.127" stop-color="#ffb700"/><stop offset="0.159" stop-color="#ff9400"/><stop offset="0.190" stop-color="#ff7c00"/><stop offset="0.238" stop-color="#ff6400"/><stop offset="0.333" stop-color="#ff4d00"/><stop offset="0.492" stop-color="#ff4300"/><stop offset="0.651" stop-color="#ff4b00"/><stop offset="0.762" stop-color="#ff6400"/><stop offset="0.810" stop-color="#ff7c00"/><stop offset="0.841" stop-color="#ff9400"/><stop offset="0.873" stop-color="#ffb700"/><stop offset="0.905" stop-color="#ffe800"/><stop offset="0.921" stop-color="#f7ff08"/><stop offset="0.937" stop-color="#d1ff2e"/><stop offset="0.968" stop-color="#70ff8f"/><stop offset="0.984" stop-color="#31ffce"/><stop offset="1.000" stop-color="#00e5ff"/></linearGradient>
<linearGradient id="g72" x1="0" y1="0" x2="0" y2="1"><stop offset="0.000" stop-color="#00e5ff"/><stop offset="0.016" stop-color="#31ffce"/><stop offset="0.032" stop-color="#6fff90"/><stop offset="0.063" stop-color="#d0ff2f"/><stop offset="0.079" stop-color="#f6ff09"/><stop offset="0.095" stop-color="#ffe900"/><stop offset="0.127" stop-color="#ffb800"/><stop offset="0.159" stop-color="#ff9600"/><stop offset="0.190" stop-color="#ff7d00"/><stop offset="0.238" stop-color="#ff6500"/><stop offset="0.333" stop-color="#ff4f00"/><stop offset="0.492" stop-color="#ff4400"/><stop offset="0.651" stop-color="#ff4d00"/><stop offset="0.762" stop-color="#ff6500"/><stop offset="0.810" stop-color="#ff7d00"/><stop offset="0.841" stop-color="#ff9600"/><stop offset="0.873" stop-color="#ffb800"/><stop offset="0.905" stop-color="#ffe900"/><stop offset="0.921" stop-color="#f6ff09"/><stop offset="0.937" stop-color="#d0ff2f"/><stop offset="0.968" stop-color="#6fff90"/><stop offset="0.984" stop-color="#31ffce"/><stop offset="1.000" stop-color="#00e5ff"/></linearGradient>
<linearGradient id="g73" x1="0" y1="0" x2="0" y2="1"><stop offset="0.000" stop-color="#00e5ff"/><stop offset="0.016" stop-color="#31ffce"/><stop offset="0.032" stop-color="#6fff90"/><stop offset="0.063" stop-color="#d0ff2f"/><stop offset="0.079" stop-color="#f5ff0a"/><stop offset="0.095" stop-color="#ffea00"/><stop offset="0.127" stop-color="#ffb900"/><stop offset="0.159" stop-color="#ff9700"/><stop offset="0.190" stop-color="#ff7f00"/><stop offset="0.238" stop-color="#ff6700"/><stop offset="0.333" stop-color="#ff5000"/><stop offset="0.492" stop-color="#ff4600"/><stop offset="0.651" stop-color="#ff4e00"/><stop offset="0.762" stop-color="#ff6700"/><stop offset="0.810" stop-color="#ff7f00"/><stop offset="0.841" stop-color="#ff9700"/><stop offset="0.873" stop-color="#ffb900"/><stop offset="0.905" stop-color="#ffea00"/><stop offset="0.921" stop-color="#f5ff0a"/><stop offset="0.937" stop-color="#d0ff2f"/><stop offset="0.968" stop-color="#6fff90"/><stop offset="0.984" stop-color="#31ffce"/><stop offset="1.000" stop-color="#00e5ff"/></linearGradient>
<linearGradient id="g74" x1="0" y1="0" x2="0" y2="1"><stop offset="0.000" stop-color="#00e5ff"/><stop offset="0.016" stop-color="#30ffcf"/><stop offset="0.032" stop-color="#6eff91"/><stop offset="0.063" stop-color="#cfff30"/><stop offset="0.079" stop-color="#f4ff0b"/><stop offset="0.095" stop-color="#ffeb00"/><stop offset="0.127" stop-color="#ffbb00"/><stop offset="0.159" stop-color="#ff9800"/><stop offset="0.190" stop-color="#ff8000"/><stop offset="0.238" stop-color="#ff6800"/><stop offset="0.333" stop-color="#ff5200"/><stop offset="0.492" stop-color="#ff4700"/><stop offset="0.651" stop-color="#ff5000"/><stop offset="0.762" stop-color="#ff6800"/><stop offset="0.810" stop-color="#ff8000"/><stop offset="0.841" stop-color="#ff9800"/><stop offset="0.873" stop-color="#ffbb00"/><stop offset="0.905" stop-color="#ffeb00"/><stop offset="0.921" stop-color="#f4ff0b"/><stop offset="0.937" stop-color="#cfff30"/><stop offset="0.968" stop-color="#6eff91"/><stop offset="0.984" stop-color="#30ffcf"/><stop offset="1.000" stop-color="#00e5ff"/></linearGradient>
<linearGradient id="g75" x1="0" y1="0" x2="0" y2="1"><stop offset="0.000" stop-color="#00e5ff"/><stop offset="0.016" stop-color="#30ffcf"/><stop offset="0.032" stop-color="#6eff91"/><stop offset="0.063" stop-color="#ceff31"/><stop offset="0.079" stop-color="#f3ff0c"/><stop offset="0.095" stop-color="#ffec00"/><stop offset="0.127" stop-color="#ffbc00"/><stop offset="0.159" stop-color="#ff9a00"/><stop offset="0.190" stop-color="#ff8200"/><stop offset="0.238" stop-color="#ff6a00"/><stop offset="0.333" stop-color="#ff5300"/><stop offset="0.492" stop-color="#ff4900"/><stop offset="0.651" stop-color="#ff5100"/><stop offset="0.762" stop-color="#ff6a00"/><stop offset="0.810" stop-color="#ff8200"/><stop offset="0.841" stop-color="#ff9a00"/><stop offset="0.873" stop-color="#ffbc00"/><stop offset="0.905" stop-color="#ffec00"/><stop offset="0.921" stop-color="#f3ff0c"/><stop offset="0.937" stop-color="#ceff31"/><stop offset="0.968" stop-color="#6eff91"/><stop offset="0.984" stop-color="#30ffcf"/><stop offset="1.000" stop-color="#00e5ff"/></linearGradient>
<linearGradient id="g76" x1="0" y1="0" x2="0" y2="1"><stop offset="0.000" stop-color="#00e5ff"/><stop offset="0.016" stop-color="#30ffcf"/><stop offset="0.032" stop-color="#6eff91"/><stop offset="0.063" stop-color="#cdff32"/><stop offset="0.079" stop-color="#f2ff0d"/><stop offset="0.095" stop-color="#ffed00"/><stop offset="0.127" stop-color="#ffbd00"/><stop offset="0.159" stop-color="#ff9b00"/><stop offset="0.190" stop-color="#ff8300"/><stop offset="0.238" stop-color="#ff6b00"/><stop offset="0.333" stop-color="#ff5500"/><stop offset="0.492" stop-color="#ff4b00"/><stop offset="0.651" stop-color="#ff5300"/><stop offset="0.762" stop-color="#ff6b00"/><stop offset="0.810" stop-color="#ff8300"/><stop offset="0.841" stop-color="#ff9b00"/><stop offset="0.873" stop-color="#ffbd00"/><stop offset="0.905" stop-color="#ffed00"/><stop offset="0.921" stop-color="#f2ff0d"/><stop offset="0.937" stop-color="#cdff32"/><stop offset="0.968" stop-color="#6eff91"/><stop offset="0.984" stop-color="#30ffcf"/><stop offset="1.000" stop-color="#00e5ff"/></linearGradient>
<linearGradient id="g77" x1="0" y1="0" x2="0" y2="1"><stop offset="0.000" stop-color="#00e5ff"/><stop offset="0.016" stop-color="#30ffcf"/><stop offset="0.032" stop-color="#6dff92"/><stop offset="0.063" stop-color="#ccff33"/><stop offset="0.079" stop-color="#f1ff0e"/><stop offset="0.095" stop-color="#ffee00"/><stop offset="0.127" stop-color="#ffbe00"/><stop offset="0.159" stop-color="#ff9c00"/><stop offset="0.238" stop-color="#ff6d00"/><stop offset="0.333" stop-color="#ff5600"/><stop offset="0.492" stop-color="#ff4c00"/><stop offset="0.651" stop-color="#ff5400"/><stop offset="0.762" stop-color="#ff6d00"/><stop offset="0.841" stop-color="#ff9c00"/><stop offset="0.873" stop-color="#ffbe00"/><stop offset="0.905" stop-color="#ffee00"/><stop offset="0.921" stop-color="#f1ff0e"/><stop offset="0.937" stop-color="#ccff33"/><stop offset="0.968" stop-color="#6dff92"/><stop offset="0.984" stop-color="#30ffcf"/><stop offset="1.000" stop-color="#00e5ff"/></linearGradient>
<linearGradient id="g78" x1="0" y1="0" x2="0" y2="1"><stop offset="0.000" stop-color="#00e5ff"/><stop offset="0.016" stop-color="#2fffd0"/><stop offset="0.032" stop-color="#6dff92"/><stop offset="0.063" stop-color="#ccff33"/><stop offset="0.079" stop-color="#f0ff0f"/><stop offset="0.095" stop-color="#ffef00"/><stop offset="0.127" stop-color="#ffbf00"/><stop offset="0.159" stop-color="#ff9e00"/><stop offset="0.238" stop-color="#ff6e00"/><stop offset="0.333" stop-color="#ff5800"/><stop offset="0.492" stop-color="#ff4e00"/><stop offset="0.651" stop-color="#ff5600"/><stop offset="0.762" stop-color="#ff6e00"/><stop offset="0.841" stop-color="#ff9e00"/><stop offset="0.873" stop-color="#ffbf00"/><stop offset="0.905" stop-color="#ffef00"/><stop offset="0.921" stop-color="#f0ff0f"/><stop offset="0.937" stop-color="#ccff33"/><stop offset="0.968" stop-color="#6dff92"/><stop offset="0.984" stop-color="#2fffd0"/><stop offset="1.000" stop-color="#00e5ff"/></linearGradient>
<linearGradient id="g79" x1="0" y1="0" x2="0" y2="1"><stop offset="0.000" stop-color="#0029ff"/><stop offset="0.128" stop-color="#0031ff"/><stop offset="0.184" stop-color="#0041ff"/><stop offset="0.200" stop-color="#0051ff"/><stop offset="0.208" stop-color="#0061ff"/><stop offset="0.216" stop-color="#007fff"/><stop offset="0.224" stop-color="#00d1ff"/><stop offset="0.232" stop-color="#15ffea"/><stop offset="0.264" stop-color="#8aff75"/><stop offset="0.304" stop-color="#fffc00"/><stop offset="0.344" stop-color="#ff9400"/><stop offset="0.368" stop-color="#ff7000"/><stop offset="0.416" stop-color="#ff6000"/><stop offset="0.496" stop-color="#ff5900"/><stop offset="0.584" stop-color="#ff6000"/><stop offset="0.632" stop-color="#ff7200"/><stop offset="0.656" stop-color="#ff9800"/><stop offset="0.696" stop-color="#fdff02"/><stop offset="0.736" stop-color="#84ff7b"/><stop offset="0.768" stop-color="#0ffff0"/><stop offset="0.776" stop-color="#00b8ff"/><stop offset="0.784" stop-color="#0077ff"/><stop offset="0.792" stop-color="#005dff"/><stop offset="0.808" stop-color="#0046ff"/><stop offset="0.856" stop-color="#0033ff"/><stop offset="1.000" stop-color="#0026ff"/></linearGradient>
<linearGradient id="g80" x1="0" y1="0" x2="0" y2="1"><stop offset="0.000" stop-color="#0037ff"/><stop offset="0.096" stop-color="#0054ff"/><stop offset="0.144" stop-color="#0075ff"/><stop offset="0.160" stop-color="#0089ff"/><stop offset="0.176" stop-color="#00abff"/><stop offset="0.184" stop-color="#00c4ff"/><stop offset="0.192" stop-color="#06fff9"/><stop offset="0.264" stop-color="#9dff62"/><stop offset="0.304" stop-color="#fffd00"/><stop offset="0.344" stop-color="#ff9400"/><stop offset="0.368" stop-color="#ff7300"/><stop offset="0.416" stop-color="#ff6700"/><stop offset="0.496" stop-color="#ff6200"/><stop offset="0.584" stop-color="#ff6700"/><stop offset="0.632" stop-color="#ff7400"/><stop offset="0.656" stop-color="#ff9800"/><stop offset="0.696" stop-color="#fcff03"/><stop offset="0.728" stop-color="#acff53"/><stop offset="0.808" stop-color="#03fffc"/><stop offset="0.816" stop-color="#00bfff"/><stop offset="0.824" stop-color="#00a7ff"/><stop offset="0.840" stop-color="#0087ff"/><stop offset="0.856" stop-color="#0073ff"/><stop offset="0.904" stop-color="#0053ff"/><stop offset="0.992" stop-color="#0039ff"/><stop offset="1.000" stop-color="#0027ff"/></linearGradient>
<linearGradient id="g81" x1="0" y1="0" x2="0" y2="1"><stop offset="0.000" stop-color="#004cff"/><stop offset="0.096" stop-color="#008dff"/><stop offset="0.120" stop-color="#00aaff"/><stop offset="0.144" stop-color="#00d7ff"/><stop offset="0.152" stop-color="#11ffee"/><stop offset="0.200" stop-color="#48ffb7"/><stop offset="0.256" stop-color="#96ff69"/><stop offset="0.280" stop-color="#c4ff3b"/><stop offset="0.304" stop-color="#fffc00"/><stop offset="0.336" stop-color="#ffa400"/><stop offset="0.360" stop-color="#ff7c00"/><stop offset="0.400" stop-color="#ff7300"/><stop offset="0.504" stop-color="#ff6d00"/><stop offset="0.600" stop-color="#ff7300"/><stop offset="0.640" stop-color="#ff7e00"/><stop offset="0.664" stop-color="#ffa800"/><stop offset="0.696" stop-color="#feff01"/><stop offset="0.720" stop-color="#c1ff3e"/><stop offset="0.744" stop-color="#93ff6c"/><stop offset="0.800" stop-color="#46ffb9"/><stop offset="0.848" stop-color="#10ffef"/><stop offset="0.856" stop-color="#00d4ff"/><stop offset="0.880" stop-color="#00a8ff"/><stop offset="0.920" stop-color="#007dff"/><stop offset="0.992" stop-color="#0051ff"/><stop offset="1.000" stop-color="#0028ff"/></linearGradient>
<linearGradient id="g82" x1="0" y1="0" x2="0" y2="1"><stop offset="0.000" stop-color="#0067ff"/><stop offset="0.080" stop-color="#00beff"/><stop offset="0.096" stop-color="#00d6ff"/><stop offset="0.104" stop-color="#18ffe7"/><stop offset="0.176" stop-color="#49ffb6"/><stop offset="0.240" stop-color="#80ff7f"/><stop offset="0.264" stop-color="#a4ff5b"/><stop offset="0.296" stop-color="#f1ff0e"/><stop offset="0.304" stop-color="#fff600"/><stop offset="0.336" stop-color="#ffa100"/><stop offset="0.352" stop-color="#ff8800"/><stop offset="0.392" stop-color="#ff7f00"/><stop offset="0.504" stop-color="#ff7b00"/><stop offset="0.640" stop-color="#ff8300"/><stop offset="0.648" stop-color="#ff8900"/><stop offset="0.664" stop-color="#ffa400"/><stop offset="0.696" stop-color="#fffb00"/><stop offset="0.728" stop-color="#b1ff4e"/><stop offset="0.760" stop-color="#7eff81"/><stop offset="0.824" stop-color="#47ffb8"/><stop offset="0.896" stop-color="#17ffe8"/><stop offset="0.904" stop-color="#00d4ff"/><stop offset="0.912" stop-color="#00c7ff"/><stop offset="0.944" stop-color="#009eff"/><stop offset="0.992" stop-color="#0070ff"/><stop offset="1.000" stop-color="#002aff"/></linearGradient>
<linearGradient id="g83" x1="0" y1="0" x2="0" y2="1"><stop offset="0.000" stop-color="#0087ff"/><stop offset="0.056" stop-color="#00ddff"/><stop offset="0.064" stop-color="#22ffdd"/><stop offset="0.192" stop-color="#57ffa8"/><stop offset="0.224" stop-color="#6bff94"/><stop offset="0.256" stop-color="#97ff68"/><stop offset="0.272" stop-color="#baff45"/><stop offset="0.296" stop-color="#fbff04"/><stop offset="0.304" stop-color="#ffec00"/><stop offset="0.328" stop-color="#ffae00"/><stop offset="0.344" stop-color="#ff9300"/><stop offset="0.352" stop-color="#ff8e00"/><stop offset="0.608" stop-color="#ff8c00"/><stop offset="0.656" stop-color="#ff9500"/><stop offset="0.672" stop-color="#ffb100"/><stop offset="0.696" stop-color="#fff100"/><stop offset="0.704" stop-color="#f6ff09"/><stop offset="0.728" stop-color="#b6ff49"/><stop offset="0.744" stop-color="#95ff6a"/><stop offset="0.776" stop-color="#6aff95"/><stop offset="0.816" stop-color="#52ffad"/><stop offset="0.936" stop-color="#22ffdd"/><stop offset="0.944" stop-color="#00daff"/><stop offset="0.992" stop-color="#0095ff"/><stop offset="1.000" stop-color="#002cff"/></linearGradient>
<linearGradient id="g84" x1="0" y1="0" x2="0" y2="1"><stop offset="0.000" stop-color="#00abff"/><stop offset="0.016" stop-color="#00d2ff"/><stop offset="0.024" stop-color="#29ffd6"/><stop offset="0.176" stop-color="#49ffb6"/><stop offset="0.208" stop-color="#59ffa6"/><stop offset="0.232" stop-color="#74ff8b"/><stop offset="0.248" stop-color="#8fff70"/><stop offset="0.288" stop-color="#f2ff0d"/><stop offset="0.296" stop-color="#fff500"/><stop offset="0.320" stop-color="#ffb900"/><stop offset="0.336" stop-color="#ffa000"/><stop offset="0.344" stop-color="#ff9b00"/><stop offset="0.640" stop-color="#ff9a00"/><stop offset="0.656" stop-color="#ff9c00"/><stop offset="0.672" stop-color="#ffad00"/><stop offset="0.704" stop-color="#fffa00"/><stop offset="0.752" stop-color="#8cff73"/><stop offset="0.768" stop-color="#71ff8e"/><stop offset="0.792" stop-color="#58ffa7"/><stop offset="0.824" stop-color="#48ffb7"/><stop offset="0.976" stop-color="#29ffd6"/><stop offset="0.984" stop-color="#00cfff"/><stop offset="0.992" stop-color="#00beff"/><stop offset="1.000" stop-color="#002eff"/></linearGradient>
<linearGradient id="g85" x1="0" y1="0" x2="0" y2="1"><stop offset="0.000" stop-color="#00d4ff"/><stop offset="0.008" stop-color="#30ffcf"/><stop offset="0.160" stop-color="#3dffc2"/><stop offset="0.200" stop-color="#53ffac"/><stop offset="0.224" stop-color="#71ff8e"/><stop offset="0.240" stop-color="#8dff72"/><stop offset="0.288" stop-color="#fffa00"/><stop offset="0.312" stop-color="#ffc300"/><stop offset="0.336" stop-color="#ffa900"/><stop offset="0.488" stop-color="#ffb100"/><stop offset="0.656" stop-color="#ffa900"/><stop offset="0.680" stop-color="#ffb800"/><stop offset="0.712" stop-color="#ffff00"/><stop offset="0.760" stop-color="#8aff75"/><stop offset="0.784" stop-color="#63ff9c"/><stop offset="0.808" stop-color="#4bffb4"/><stop offset="0.848" stop-color="#3bffc4"/><stop offset="0.992" stop-color="#30ffcf"/><stop offset="1.000" stop-color="#0030ff"/></linearGradient>
<linearGradient id="g86" x1="0" y1="0" x2="0" y2="1"><stop offset="0.000" stop-color="#33ffcc"/><stop offset="0.128" stop-color="#34ffcb"/><stop offset="0.176" stop-color="#46ffb9"/><stop offset="0.200" stop-color="#5effa1"/><stop offset="0.224" stop-color="#83ff7c"/><stop offset="0.280" stop-color="#fffd00"/><stop offset="0.304" stop-color="#ffcd00"/><stop offset="0.328" stop-color="#ffb800"/><stop offset="0.496" stop-color="#ffc600"/><stop offset="0.672" stop-color="#ffb800"/><stop offset="0.688" stop-color="#ffc400"/><stop offset="0.712" stop-color="#ffef00"/><stop offset="0.720" stop-color="#fdff02"/><stop offset="0.760" stop-color="#a0ff5f"/><stop offset="0.784" stop-color="#73ff8c"/><stop offset="0.824" stop-color="#45ffba"/><stop offset="0.864" stop-color="#35ffca"/><stop offset="0.992" stop-color="#33ffcc"/><stop offset="1.000" stop-color="#0033ff"/></linearGradient>
<linearGradient id="g87" x1="0" y1="0" x2="0" y2="1"><stop offset="0.000" stop-color="#33ffcc"/><stop offset="0.112" stop-color="#35ffca"/><stop offset="0.160" stop-color="#48ffb7"/><stop offset="0.184" stop-color="#5fffa0"/><stop offset="0.208" stop-color="#81ff7e"/><stop offset="0.272" stop-color="#fffe00"/><stop offset="0.296" stop-color="#ffd700"/><stop offset="0.320" stop-color="#ffc800"/><stop offset="0.416" stop-color="#ffd800"/><stop offset="0.496" stop-color="#ffdb00"/><stop offset="0.584" stop-color="#ffd800"/><stop offset="0.680" stop-color="#ffc800"/><stop offset="0.696" stop-color="#ffd000"/><stop offset="0.720" stop-color="#fff200"/><stop offset="0.728" stop-color="#fdff02"/><stop offset="0.776" stop-color="#9bff64"/><stop offset="0.800" stop-color="#72ff8d"/><stop offset="0.840" stop-color="#47ffb8"/><stop offset="0.888" stop-color="#35ffca"/><stop offset="0.992" stop-color="#33ffcc"/><stop offset="1.000" stop-color="#0036ff"/></linearGradient>
<linearGradient id="g88" x1="0" y1="0" x2="0" y2="1"><stop offset="0.000" stop-color="#31ffce"/><stop offset="0.104" stop-color="#3fffc0"/><stop offset="0.144" stop-color="#52ffad"/><stop offset="0.192" stop-color="#86ff79"/><stop offset="0.264" stop-color="#feff01"/><stop offset="0.288" stop-color="#ffe200"/><stop offset="0.304" stop-color="#ffd900"/><stop offset="0.408" stop-color="#ffed00"/><stop offset="0.496" stop-color="#fff200"/><stop offset="0.584" stop-color="#ffee00"/><stop offset="0.696" stop-color="#ffd900"/><stop offset="0.728" stop-color="#fff600"/><stop offset="0.736" stop-color="#fcff03"/><stop offset="0.808" stop-color="#84ff7b"/><stop offset="0.848" stop-color="#57ffa8"/><stop offset="0.896" stop-color="#3effc1"/><stop offset="0.992" stop-color="#32ffcd"/><stop offset="1.000" stop-color="#0039ff"/></linearGradient>
<linearGradient id="g89" x1="0" y1="0" x2="0" y2="1"><stop offset="0.000" stop-color="#2fffd0"/><stop offset="0.040" stop-color="#43ffbc"/><stop offset="0.096" stop-color="#51ffae"/><stop offset="0.136" stop-color="#68ff97"/><stop offset="0.176" stop-color="#90ff6f"/><stop offset="0.248" stop-color="#f1ff0e"/><stop offset="0.264" stop-color="#fffb00"/><stop offset="0.296" stop-color="#ffea00"/><stop offset="0.384" stop-color="#feff01"/><stop offset="0.496" stop-color="#f4ff0b"/><stop offset="0.616" stop-color="#ffff00"/><stop offset="0.704" stop-color="#ffea00"/><stop offset="0.736" stop-color="#fffc00"/><stop offset="0.824" stop-color="#8eff71"/><stop offset="0.864" stop-color="#67ff98"/><stop offset="0.904" stop-color="#50ffaf"/><stop offset="0.960" stop-color="#43ffbc"/><stop offset="0.992" stop-color="#33ffcc"/><stop offset="1.000" stop-color="#003cff"/></linearGradient>
<linearGradient id="g90" x1="0" y1="0" x2="0" y2="1"><stop offset="0.000" stop-color="#31ffce"/><stop offset="0.040" stop-color="#53ffac"/><stop offset="0.128" stop-color="#80ff7f"/><stop offset="0.232" stop-color="#e8ff17"/><stop offset="0.264" stop-color="#ffff00"/><stop offset="0.304" stop-color="#feff01"/><stop offset="0.408" stop-color="#e3ff1c"/><stop offset="0.496" stop-color="#ddff22"/><stop offset="0.592" stop-color="#e4ff1b"/><stop offset="0.696" stop-color="#ffff00"/><stop offset="0.728" stop-color="#fffd00"/><stop offset="0.760" stop-color="#edff12"/><stop offset="0.872" stop-color="#7fff80"/><stop offset="0.960" stop-color="#52ffad"/><stop offset="0.992" stop-color="#38ffc7"/><stop offset="1.000" stop-color="#003fff"/></linearGradient>
<linearGradient id="g91" x1="0" y1="0" x2="0" y2="1"><stop offset="0.000" stop-color="#38ffc7"/><stop offset="0.040" stop-color="#67ff98"/><stop offset="0.120" stop-color="#98ff67"/><stop offset="0.216" stop-color="#e0ff1f"/><stop offset="0.248" stop-color="#f0ff0f"/><stop offset="0.280" stop-color="#f1ff0e"/><stop offset="0.400" stop-color="#cdff32"/><stop offset="0.496" stop-color="#c5ff3a"/><stop offset="0.608" stop-color="#cfff30"/><stop offset="0.736" stop-color="#f3ff0c"/><stop offset="0.776" stop-color="#e4ff1b"/><stop offset="0.880" stop-color="#97ff68"/><stop offset="0.952" stop-color="#6cff93"/><stop offset="0.992" stop-color="#42ffbd"/><stop offset="1.000" stop-color="#0043ff"/></linearGradient>
<linearGradient id="g92" x1="0" y1="0" x2="0" y2="1"><stop offset="0.000" stop-color="#45ffba"/><stop offset="0.024" stop-color="#6bff94"/><stop offset="0.056" stop-color="#89ff76"/><stop offset="0.168" stop-color="#cbff34"/><stop offset="0.224" stop-color="#e1ff1e"/><stop offset="0.264" stop-color="#e2ff1d"/><stop offset="0.392" stop-color="#b7ff48"/><stop offset="0.496" stop-color="#adff52"/><stop offset="0.608" stop-color="#b8ff47"/><stop offset="0.728" stop-color="#e0ff1f"/><stop offset="0.760" stop-color="#e3ff1c"/><stop offset="0.816" stop-color="#d2ff2d"/><stop offset="0.920" stop-color="#98ff67"/><stop offset="0.960" stop-color="#7bff84"/><stop offset="0.992" stop-color="#51ffae"/><stop offset="1.000" stop-color="#0047ff"/></linearGradient>
<linearGradient id="g93" x1="0" y1="0" x2="0" y2="1"><stop offset="0.000" stop-color="#59ffa6"/><stop offset="0.024" stop-color="#81ff7e"/><stop offset="0.056" stop-color="#a0ff5f"/><stop offset="0.112" stop-color="#bfff40"/><stop offset="0.184" stop-color="#d5ff2a"/><stop offset="0.240" stop-color="#d5ff2a"/><stop offset="0.376" stop-color="#a4ff5b"/><stop offset="0.496" stop-color="#96ff69"/><stop offset="0.608" stop-color="#a1ff5e"/><stop offset="0.752" stop-color="#d4ff2b"/><stop offset="0.800" stop-color="#d7ff28"/><stop offset="0.864" stop-color="#c8ff37"/><stop offset="0.928" stop-color="#a9ff56"/><stop offset="0.960" stop-color="#92ff6d"/><stop offset="0.992" stop-color="#65ff9a"/><stop offset="1.000" stop-color="#004aff"/></linearGradient>
<linearGradient id="g94" x1="0" y1="0" x2="0" y2="1"><stop offset="0.000" stop-color="#70ff8f"/><stop offset="0.024" stop-color="#98ff67"/><stop offset="0.048" stop-color="#b0ff4f"/><stop offset="0.088" stop-color="#c4ff3b"/><stop offset="0.136" stop-color="#d0ff2f"/><stop offset="0.208" stop-color="#cdff32"/><stop offset="0.368" stop-color="#90ff6f"/><stop offset="0.496" stop-color="#7fff80"/><stop offset="0.632" stop-color="#90ff6f"/><stop offset="0.792" stop-color="#ceff31"/><stop offset="0.864" stop-color="#d0ff2f"/><stop offset="0.944" stop-color="#b4ff4b"/><stop offset="0.968" stop-color="#a0ff5f"/><stop offset="0.992" stop-color="#7dff82"/><stop offset="1.000" stop-color="#004fff"/></linearGradient>
<linearGradient id="g95" x1="0" y1="0" x2="0" y2="1"><stop offset="0.000" stop-color="#8aff75"/><stop offset="0.024" stop-color="#aeff51"/><stop offset="0.048" stop-color="#c3ff3c"/><stop offset="0.088" stop-color="#d1ff2e"/><stop offset="0.128" stop-color="#d3ff2c"/><stop offset="0.200" stop-color="#c3ff3c"/><stop offset="0.312" stop-color="#8eff71"/><stop offset="0.376" stop-color="#78ff87"/><stop offset="0.456" stop-color="#6cff93"/><stop offset="0.536" stop-color="#6bff94"/><stop offset="0.656" stop-color="#82ff7d"/><stop offset="0.816" stop-color="#c9ff36"/><stop offset="0.904" stop-color="#d2ff2d"/><stop offset="0.952" stop-color="#c2ff3d"/><stop offset="0.976" stop-color="#acff53"/><stop offset="0.992" stop-color="#96ff69"/><stop offset="1.000" stop-color="#0053ff"/></linearGradient>
<linearGradient id="g96" x1="0" y1="0" x2="0" y2="1"><stop offset="0.000" stop-color="#a5ff5a"/><stop offset="0.024" stop-color="#c3ff3c"/><stop offset="0.048" stop-color="#d3ff2c"/><stop offset="0.104" stop-color="#d8ff27"/><stop offset="0.176" stop-color="#c1ff3e"/><stop offset="0.352" stop-color="#6bff94"/><stop offset="0.424" stop-color="#5bffa4"/><stop offset="0.512" stop-color="#55ffaa"/><stop offset="0.648" stop-color="#6bff94"/><stop offset="0.848" stop-color="#ccff33"/><stop offset="0.888" stop-color="#d7ff28"/><stop offset="0.928" stop-color="#d9ff26"/><stop offset="0.960" stop-color="#ceff31"/><stop offset="0.992" stop-color="#afff50"/><stop offset="1.000" stop-color="#0057ff"/></linearGradient>
<linearGradient id="g97" x1="0" y1="0" x2="0" y2="1"><stop offset="0.000" stop-color="#beff41"/><stop offset="0.040" stop-color="#ddff22"/><stop offset="0.096" stop-color="#deff21"/><stop offset="0.144" stop-color="#caff35"/><stop offset="0.272" stop-color="#7cff83"/><stop offset="0.336" stop-color="#5effa1"/><stop offset="0.408" stop-color="#4affb5"/><stop offset="0.504" stop-color="#41ffbe"/><stop offset="0.592" stop-color="#4affb5"/><stop offset="0.656" stop-color="#5bffa4"/><stop offset="0.720" stop-color="#78ff87"/><stop offset="0.872" stop-color="#d3ff2c"/><stop offset="0.912" stop-color="#e0ff1f"/><stop offset="0.944" stop-color="#e1ff1e"/><stop offset="0.968" stop-color="#d9ff26"/><stop offset="0.992" stop-color="#c6ff39"/><stop offset="1.000" stop-color="#005cff"/></linearGradient>
<linearGradient id="g98" x1="0" y1="0" x2="0" y2="1"><stop offset="0.000" stop-color="#d5ff2a"/><stop offset="0.040" stop-color="#e9ff16"/><stop offset="0.088" stop-color="#e3ff1c"/><stop offset="0.136" stop-color="#caff35"/><stop offset="0.248" stop-color="#7bff84"/><stop offset="0.320" stop-color="#53ffac"/><stop offset="0.400" stop-color="#3affc5"/><stop offset="0.504" stop-color="#2fffd0"/><stop offset="0.600" stop-color="#3affc5"/><stop offset="0.672" stop-color="#50ffaf"/><stop offset="0.744" stop-color="#76ff89"/><stop offset="0.888" stop-color="#d9ff26"/><stop offset="0.928" stop-color="#e8ff17"/><stop offset="0.960" stop-color="#e8ff17"/><stop offset="0.992" stop-color="#daff25"/><stop offset="1.000" stop-color="#0060ff"/></linearGradient>
<linearGradient id="g99" x1="0" y1="0" x2="0" y2="1"><stop offset="0.000" stop-color="#e8ff17"/><stop offset="0.040" stop-color="#f2ff0d"/><stop offset="0.088" stop-color="#e4ff1b"/><stop offset="0.136" stop-color="#c6ff39"/><stop offset="0.256" stop-color="#68ff97"/><stop offset="0.336" stop-color="#3dffc2"/><stop offset="0.408" stop-color="#29ffd6"/><stop offset="0.496" stop-color="#1fffe0"/><stop offset="0.592" stop-color="#29ffd6"/><stop offset="0.672" stop-color="#41ffbe"/><stop offset="0.752" stop-color="#6eff91"/><stop offset="0.896" stop-color="#dcff23"/><stop offset="0.936" stop-color="#eeff11"/><stop offset="0.976" stop-color="#f0ff0f"/><stop offset="0.992" stop-color="#ebff14"/><stop offset="1.000" stop-color="#0065ff"/></linearGradient>
<linearGradient id="g100" x1="0" y1="0" x2="0" y2="1"><stop offset="0.000" stop-color="#f7ff08"/><stop offset="0.040" stop-color="#f8ff07"/><stop offset="0.088" stop-color="#e5ff1a"/><stop offset="0.248" stop-color="#63ff9c"/><stop offset="0.320" stop-color="#37ffc8"/><stop offset="0.400" stop-color="#1dffe2"/><stop offset="0.496" stop-color="#11ffee"/><stop offset="0.600" stop-color="#1dffe2"/><stop offset="0.680" stop-color="#38ffc7"/><stop offset="0.752" stop-color="#64ff9b"/><stop offset="0.904" stop-color="#e1ff1e"/><stop offset="0.952" stop-color="#f7ff08"/><stop offset="0.992" stop-color="#f9ff06"/><stop offset="1.000" stop-color="#006aff"/></linearGradient>
<linearGradient id="g101" x1="0" y1="0" x2="0" y2="1"><stop offset="0.000" stop-color="#fffc00"/><stop offset="0.040" stop-color="#fdff02"/><stop offset="0.088" stop-color="#e5ff1a"/><stop offset="0.240" stop-color="#61ff9e"/><stop offset="0.312" stop-color="#31ffce"/><stop offset="0.392" stop-color="#13ffec"/><stop offset="0.496" stop-color="#05fffa"/><stop offset="0.600" stop-color="#12ffed"/><stop offset="0.680" stop-color="#2dffd2"/><stop offset="0.752" stop-color="#5bffa4"/><stop offset="0.912" stop-color="#e6ff19"/><stop offset="0.960" stop-color="#feff01"/><stop offset="0.992" stop-color="#fffc00"/><stop offset="1.000" stop-color="#006fff"/></linearGradient>
<linearGradient id="g102" x1="0" y1="0" x2="0" y2="1"><stop offset="0.000" stop-color="#fff600"/><stop offset="0.040" stop-color="#fffe00"/><stop offset="0.080" stop-color="#eaff15"/><stop offset="0.240" stop-color="#5affa5"/><stop offset="0.304" stop-color="#2dffd2"/><stop offset="0.376" stop-color="#0ffff0"/><stop offset="0.456" stop-color="#00feff"/><stop offset="0.568" stop-color="#03fffc"/><stop offset="0.672" stop-color="#22ffdd"/><stop offset="0.752" stop-color="#55ffaa"/><stop offset="0.920" stop-color="#ebff14"/><stop offset="0.952" stop-color="#fdff02"/><stop offset="0.992" stop-color="#fff600"/><stop offset="1.000" stop-color="#0075ff"/></linearGradient>
<linearGradient id="g103" x1="0" y1="0" x2="0" y2="1"><stop offset="0.000" stop-color="#fff500"/><stop offset="0.040" stop-color="#fffd00"/><stop offset="0.064" stop-color="#f5ff0a"/><stop offset="0.112" stop-color="#d1ff2e"/><stop offset="0.224" stop-color="#65ff9a"/><stop offset="0.280" stop-color="#38ffc7"/><stop offset="0.344" stop-color="#15ffea"/><stop offset="0.416" stop-color="#00feff"/><stop offset="0.496" stop-color="#00f5ff"/><stop offset="0.584" stop-color="#00ffff"/><stop offset="0.664" stop-color="#19ffe6"/><stop offset="0.752" stop-color="#51ffae"/><stop offset="0.920" stop-color="#ecff13"/><stop offset="0.952" stop-color="#feff01"/><stop offset="0.992" stop-color="#fff500"/><stop offset="1.000" stop-color="#007aff"/></linearGradient>
<linearGradient id="g104" x1="0" y1="0" x2="0" y2="1"><stop offset="0.000" stop-color="#fff500"/><stop offset="0.048" stop-color="#feff01"/><stop offset="0.072" stop-color="#f0ff0f"/><stop offset="0.272" stop-color="#3cffc3"/><stop offset="0.336" stop-color="#16ffe9"/><stop offset="0.400" stop-color="#00ffff"/><stop offset="0.496" stop-color="#00f1ff"/><stop offset="0.600" stop-color="#00ffff"/><stop offset="0.656" stop-color="#13ffec"/><stop offset="0.744" stop-color="#49ffb6"/><stop offset="0.920" stop-color="#ecff13"/><stop offset="0.952" stop-color="#feff01"/><stop offset="0.992" stop-color="#fff500"/><stop offset="1.000" stop-color="#0080ff"/></linearGradient>
<linearGradient id="g105" x1="0" y1="0" x2="0" y2="1"><stop offset="0.000" stop-color="#fff500"/><stop offset="0.048" stop-color="#feff01"/><stop offset="0.072" stop-color="#f0ff0f"/><stop offset="0.272" stop-color="#3cffc3"/><stop offset="0.336" stop-color="#15ffea"/><stop offset="0.400" stop-color="#00feff"/><stop offset="0.496" stop-color="#00f1ff"/><stop offset="0.600" stop-color="#00ffff"/><stop offset="0.656" stop-color="#13ffec"/><stop offset="0.744" stop-color="#49ffb6"/><stop offset="0.920" stop-color="#ecff13"/><stop offset="0.952" stop-color="#feff01"/><stop offset="0.992" stop-color="#fff500"/><stop offset="1.000" stop-color="#0085ff"/></linearGradient>
<linearGradient id="g106" x1="0" y1="0" x2="0" y2="1"><stop offset="0.000" stop-color="#fff500"/><stop offset="0.048" stop-color="#feff01"/><stop offset="0.072" stop-color="#f0ff0f"/><stop offset="0.272" stop-color="#3cffc3"/><stop offset="0.336" stop-color="#15ffea"/><stop offset="0.400" stop-color="#00feff"/><stop offset="0.496" stop-color="#00f1ff"/><stop offset="0.600" stop-color="#00ffff"/><stop offset="0.656" stop-color="#13ffec"/><stop offset="0.744" stop-color="#49ffb6"/><stop offset="0.920" stop-color="#ecff13"/><stop offset="0.952" stop-color="#feff01"/><stop offset="0.992" stop-color="#fff500"/><stop offset="1.000" stop-color="#008bff"/></linearGradient>
<linearGradient id="g107" x1="0" y1="0" x2="0" y2="1"><stop offset="0.000" stop-color="#fff500"/><stop offset="0.048" stop-color="#feff01"/><stop offset="0.072" stop-color="#f0ff0f"/><stop offset="0.272" stop-color="#3cffc3"/><stop offset="0.336" stop-color="#15ffea"/><stop offset="0.400" stop-color="#00feff"/><stop offset="0.496" stop-color="#00f1ff"/><stop offset="0.600" stop-color="#00ffff"/><stop offset="0.656" stop-color="#13ffec"/><stop offset="0.744" stop-color="#49ffb6"/><stop offset="0.920" stop-color="#ecff13"/><stop offset="0.952" stop-color="#feff01"/><stop offset="0.992" stop-color="#fff500"/><stop offset="1.000" stop-color="#0091ff"/></linearGradient>
<linearGradient id="g108" x1="0" y1="0" x2="0" y2="1"><stop offset="0.000" stop-color="#fff500"/><stop offset="0.048" stop-color="#feff01"/><stop offset="0.072" stop-color="#f0ff0f"/><stop offset="0.272" stop-color="#3cffc3"/><stop offset="0.336" stop-color="#15ffea"/><stop offset="0.400" stop-color="#00feff"/><stop offset="0.496" stop-color="#00f1ff"/><stop offset="0.600" stop-color="#00ffff"/><stop offset="0.656" stop-color="#13ffec"/><stop offset="0.744" stop-color="#49ffb6"/><stop offset="0.920" stop-color="#ecff13"/><stop offset="0.952" stop-color="#feff01"/><stop offset="0.992" stop-color="#fff500"/><stop offset="1.000" stop-color="#0097ff"/></linearGradient>
<linearGradient id="g109" x1="0" y1="0" x2="0" y2="1"><stop offset="0.000" stop-color="#fff500"/><stop offset="0.048" stop-color="#feff01"/><stop offset="0.072" stop-color="#f0ff0f"/><stop offset="0.272" stop-color="#3cffc3"/><stop offset="0.336" stop-color="#15ffea"/><stop offset="0.400" stop-color="#00feff"/><stop offset="0.496" stop-color="#00f1ff"/><stop offset="0.600" stop-color="#00ffff"/><stop offset="0.656" stop-color="#13ffec"/><stop offset="0.744" stop-color="#49ffb6"/><stop offset="0.920" stop-color="#ecff13"/><stop offset="0.952" stop-color="#feff01"/><stop offset="0.992" stop-color="#fff500"/><stop offset="1.000" stop-color="#009dff"/></linearGradient>
<linearGradient id="g110" x1="0" y1="0" x2="0" y2="1"><stop offset="0.000" stop-color="#fff500"/><stop offset="0.048" stop-color="#feff01"/><stop offset="0.072" stop-color="#f0ff0f"/><stop offset="0.272" stop-color="#3cffc3"/><stop offset="0.336" stop-color="#15ffea"/><stop offset="0.400" stop-color="#00feff"/><stop offset="0.496" stop-color="#00f1ff"/><stop offset="0.600" stop-color="#00ffff"/><stop offset="0.656" stop-color="#13ffec"/><stop offset="0.744" stop-color="#49ffb6"/><stop offset="0.920" stop-color="#ecff13"/><stop offset="0.952" stop-color="#feff01"/><stop offset="0.992" stop-color="#fff500"/><stop offset="1.000" stop-color="#00a4ff"/></linearGradient>
<linearGradient id="g111" x1="0" y1="0" x2="0" y2="1"><stop offset="0.000" stop-color="#fff500"/><stop offset="0.048" stop-color="#feff01"/><stop offset="0.072" stop-color="#f0ff0f"/><stop offset="0.272" stop-color="#3cffc3"/><stop offset="0.336" stop-color="#15ffea"/><stop offset="0.400" stop-color="#00feff"/><stop offset="0.496" stop-color="#00f1ff"/><stop offset="0.600" stop-color="#00ffff"/><stop offset="0.656" stop-color="#13ffec"/><stop offset="0.744" stop-color="#49ffb6"/><stop offset="0.920" stop-color="#ecff13"/><stop offset="0.952" stop-color="#feff01"/><stop offset="0.992" stop-color="#fff500"/><stop offset="1.000" stop-color="#00aaff"/></linearGradient>
<linearGradient id="g112" x1="0" y1="0" x2="0" y2="1"><stop offset="0.000" stop-color="#fff500"/><stop offset="0.048" stop-color="#feff01"/><stop offset="0.072" stop-color="#f0ff0f"/><stop offset="0.272" stop-color="#3cffc3"/><stop offset="0.336" stop-color="#15ffea"/><stop offset="0.400" stop-color="#00feff"/><stop offset="0.496" stop-color="#00f1ff"/><stop offset="0.600" stop-color="#00ffff"/><stop offset="0.656" stop-color="#13ffec"/><stop offset="0.744" stop-color="#49ffb6"/><stop offset="0.920" stop-color="#ecff13"/><stop offset="0.952" stop-color="#feff01"/><stop offset="0.992" stop-color="#fff500"/><stop offset="1.000" stop-color="#00b0ff"/></linearGradient>
<linearGradient id="g113" x1="0" y1="0" x2="0" y2="1"><stop offset="0.000" stop-color="#fff500"/><stop offset="0.048" stop-color="#feff01"/><stop offset="0.072" stop-color="#f0ff0f"/><stop offset="0.272" stop-color="#3cffc3"/><stop offset="0.336" stop-color="#15ffea"/><stop offset="0.400" stop-color="#00feff"/><stop offset="0.496" stop-color="#00f1ff"/><stop offset="0.600" stop-color="#00ffff"/><stop offset="0.656" stop-color="#13ffec"/><stop offset="0.744" stop-color="#49ffb6"/><stop offset="0.920" stop-color="#ecff13"/><stop offset="0.952" stop-color="#feff01"/><stop offset="0.992" stop-color="#fff500"/><stop offset="1.000" stop-color="#00b7ff"/></linearGradient>
<linearGradient id="g114" x1="0" y1="0" x2="0" y2="1"><stop offset="0.000" stop-color="#fff500"/><stop offset="0.048" stop-color="#feff01"/><stop offset="0.072" stop-color="#f0ff0f"/><stop offset="0.272" stop-color="#3cffc3"/><stop offset="0.336" stop-color="#15ffea"/><stop offset="0.400" stop-color="#00feff"/><stop offset="0.496" stop-color="#00f1ff"/><stop offset="0.600" stop-color="#00ffff"/><stop offset="0.656" stop-color="#13ffec"/><stop offset="0.744" stop-color="#49ffb6"/><stop offset="0.920" stop-color="#ecff13"/><stop offset="0.952" stop-color="#feff01"/><stop offset="0.992" stop-color="#fff500"/><stop offset="1.000" stop-color="#00beff"/></linearGradient>
<linearGradient id="g115" x1="0" y1="0" x2="0" y2="1"><stop offset="0.000" stop-color="#fff500"/><stop offset="0.048" stop-color="#feff01"/><stop offset="0.072" stop-color="#f0ff0f"/><stop offset="0.272" stop-color="#3cffc3"/><stop offset="0.336" stop-color="#15ffea"/><stop offset="0.400" stop-color="#00feff"/><stop offset="0.496" stop-color="#00f1ff"/><stop offset="0.600" stop-color="#00ffff"/><stop offset="0.656" stop-color="#13ffec"/><stop offset="0.744" stop-color="#49ffb6"/><stop offset="0.920" stop-color="#ecff13"/><stop offset="0.952" stop-color="#feff01"/><stop offset="0.992" stop-color="#fff500"/><stop offset="1.000" stop-color="#00c5ff"/></linearGradient>
<linearGradient id="g116" x1="0" y1="0" x2="0" y2="1"><stop offset="0.000" stop-color="#fff500"/><stop offset="0.048" stop-color="#feff01"/><stop offset="0.072" stop-color="#f0ff0f"/><stop offset="0.272" stop-color="#3cffc3"/><stop offset="0.336" stop-color="#15ffea"/><stop offset="0.400" stop-color="#00feff"/><stop offset="0.496" stop-color="#00f1ff"/><stop offset="0.600" stop-color="#00ffff"/><stop offset="0.656" stop-color="#13ffec"/><stop offset="0.744" stop-color="#49ffb6"/><stop offset="0.920" stop-color="#ecff13"/><stop offset="0.952" stop-color="#feff01"/><stop offset="0.992" stop-color="#fff500"/><stop offset="1.000" stop-color="#00ccff"/></linearGradient>
<linearGradient id="g117" x1="0" y1="0" x2="0" y2="1"><stop offset="0.000" stop-color="#fff500"/><stop offset="0.048" stop-color="#feff01"/><stop offset="0.072" stop-color="#f0ff0f"/><stop offset="0.272" stop-color="#3cffc3"/><stop offset="0.336" stop-color="#15ffea"/><stop offset="0.400" stop-color="#00feff"/><stop offset="0.496" stop-color="#00f1ff"/><stop offset="0.600" stop-color="#00ffff"/><stop offset="0.656" stop-color="#13ffec"/><stop offset="0.744" stop-color="#49ffb6"/><stop offset="0.920" stop-color="#ecff13"/><stop offset="0.952" stop-color="#feff01"/><stop offset="0.992" stop-color="#fff500"/><stop offset="1.000" stop-color="#00d3ff"/></linearGradient>
<linearGradient id="g118" x1="0" y1="0" x2="0" y2="1"><stop offset="0.000" stop-color="#fff500"/><stop offset="0.048" stop-color="#feff01"/><stop offset="0.072" stop-color="#f0ff0f"/><stop offset="0.272" stop-color="#3cffc3"/><stop offset="0.336" stop-color="#15ffea"/><stop offset="0.400" stop-color="#00feff"/><stop offset="0.496" stop-color="#00f1ff"/><stop offset="0.600" stop-color="#00ffff"/><stop offset="0.656" stop-color="#13ffec"/><stop offset="0.744" stop-color="#49ffb6"/><stop offset="0.920" stop-color="#ecff13"/><stop offset="0.952" stop-color="#feff01"/><stop offset="0.992" stop-color="#fff500"/><stop offset="1.000" stop-color="#00daff"/></linearGradient>
<linearGradient id="g119" x1="0" y1="0" x2="0" y2="1"><stop offset="0.000" stop-color="#fff500"/><stop offset="0.048" stop-color="#feff01"/><stop offset="0.072" stop-color="#f0ff0f"/><stop offset="0.272" stop-color="#3cffc3"/><stop offset="0.336" stop-color="#15ffea"/><stop offset="0.400" stop-color="#00feff"/><stop offset="0.496" stop-color="#00f1ff"/><stop offset="0.600" stop-color="#00ffff"/><stop offset="0.656" stop-color="#13ffec"/><stop offset="0.744" stop-color="#49ffb6"/><stop offset="0.920" stop-color="#ecff13"/><stop offset="0.952" stop-color="#feff01"/><stop offset="0.992" stop-color="#fff500"/><stop offset="1.000" stop-color="#00deff"/></linearGradient>
<linearGradient id="g120" x1="0" y1="0" x2="0" y2="1"><stop offset="0.000" stop-color="#fff500"/><stop offset="0.048" stop-color="#feff01"/><stop offset="0.072" stop-color="#f0ff0f"/><stop offset="0.272" stop-color="#3cffc3"/><stop offset="0.336" stop-color="#15ffea"/><stop offset="0.400" stop-color="#00feff"/><stop offset="0.496" stop-color="#00f1ff"/><stop offset="0.600" stop-color="#00ffff"/><stop offset="0.656" stop-color="#13ffec"/><stop offset="0.744" stop-color="#49ffb6"/><stop offset="0.920" stop-color="#ecff13"/><stop offset="0.952" stop-color="#feff01"/><stop offset="0.992" stop-color="#fff500"/><stop offset="1.000" stop-color="#00deff"/></linearGradient>
<linearGradient id="g121" x1="0" y1="0" x2="0" y2="1"><stop offset="0.000" stop-color="#fff500"/><stop offset="0.048" stop-color="#feff01"/><stop offset="0.072" stop-color="#f0ff0f"/><stop offset="0.272" stop-color="#3cffc3"/><stop offset="0.336" stop-color="#15ffea"/><stop offset="0.400" stop-color="#00feff"/><stop offset="0.496" stop-color="#00f1ff"/><stop offset="0.600" stop-color="#00ffff"/><stop offset="0.656" stop-color="#13ffec"/><stop offset="0.744" stop-color="#49ffb6"/><stop offset="0.920" stop-color="#ecff13"/><stop offset="0.952" stop-color="#feff01"/><stop offset="0.992" stop-color="#fff500"/><stop offset="1.000" stop-color="#00deff"/></linearGradient>
<linearGradient id="g122" x1="0" y1="0" x2="0" y2="1"><stop offset="0.000" stop-color="#fff500"/><stop offset="0.048" stop-color="#feff01"/><stop offset="0.072" stop-color="#f0ff0f"/><stop offset="0.272" stop-color="#3cffc3"/><stop offset="0.336" stop-color="#15ffea"/><stop offset="0.400" stop-color="#00feff"/><stop offset="0.496" stop-color="#00f1ff"/><stop offset="0.600" stop-color="#00ffff"/><stop offset="0.656" stop-color="#13ffec"/><stop offset="0.744" stop-color="#49ffb6"/><stop offset="0.920" stop-color="#ecff13"/><stop offset="0.952" stop-color="#feff01"/><stop offset="0.992" stop-color="#fff500"/><stop offset="1.000" stop-color="#00deff"/></linearGradient>
<linearGradient id="g123" x1="0" y1="0" x2="0" y2="1"><stop offset="0.000" stop-color="#fff500"/><stop offset="0.048" stop-color="#feff01"/><stop offset="0.072" stop-color="#f0ff0f"/><stop offset="0.272" stop-color="#3cffc3"/><stop offset="0.336" stop-color="#15ffea"/><stop offset="0.400" stop-color="#00feff"/><stop offset="0.496" stop-color="#00f1ff"/><stop offset="0.600" stop-color="#00ffff"/><stop offset="0.656" stop-color="#13ffec"/><stop offset="0.744" stop-color="#49ffb6"/><stop offset="0.920" stop-color="#ecff13"/><stop offset="0.952" stop-color="#feff01"/><stop offset="0.992" stop-color="#fff500"/><stop offset="1.000" stop-color="#00deff"/></linearGradient>
<linearGradient id="g124" x1="0" y1="0" x2="0" y2="1"><stop offset="0.000" stop-color="#fff500"/><stop offset="0.048" stop-color="#feff01"/><stop offset="0.072" stop-color="#f0ff0f"/><stop offset="0.272" stop-color="#3cffc3"/><stop offset="0.336" stop-color="#15ffea"/><stop offset="0.400" stop-color="#00feff"/><stop offset="0.496" stop-color="#00f1ff"/><stop offset="0.600" stop-color="#00ffff"/><stop offset="0.656" stop-color="#13ffec"/><stop offset="0.744" stop-color="#49ffb6"/><stop offset="0.920" stop-color="#ecff13"/><stop offset="0.952" stop-color="#feff01"/><stop offset="0.992" stop-color="#fff500"/><stop offset="1.000" stop-color="#00deff"/></linearGradient>
<linearGradient id="g125" x1="0" y1="0" x2="0" y2="1"><stop offset="0.000" stop-color="#fff500"/><stop offset="0.048" stop-color="#feff01"/><stop offset="0.072" stop-color="#f0ff0f"/><stop offset="0.272" stop-color="#3cffc3"/><stop offset="0.336" stop-color="#15ffea"/><stop offset="0.400" stop-color="#00feff"/><stop offset="0.496" stop-color="#00f1ff"/><stop offset="0.600" stop-color="#00ffff"/><stop offset="0.656" stop-color="#13ffec"/><stop offset="0.744" stop-color="#49ffb6"/><stop offset="0.920" stop-color="#ecff13"/><stop offset="0.952" stop-color="#feff01"/><stop offset="0.992" stop-color="#fff500"/><stop offset="1.000" stop-color="#00deff"/></linearGradient>
<linearGradient id="g126" x1="0" y1="0" x2="0" y2="1"><stop offset="0.000" stop-color="#fff500"/><stop offset="0.048" stop-color="#feff01"/><stop offset="0.072" stop-color="#f0ff0f"/><stop offset="0.272" stop-color="#3cffc3"/><stop offset="0.336" stop-color="#15ffea"/><stop offset="0.400" stop-color="#00feff"/><stop offset="0.496" stop-color="#00f1ff"/><stop offset="0.600" stop-color="#00ffff"/><stop offset="0.656" stop-color="#13ffec"/><stop offset="0.744" stop-color="#49ffb6"/><stop offset="0.920" stop-color="#ecff13"/><stop offset="0.952" stop-color="#feff01"/><stop offset="0.992" stop-color="#fff500"/><stop offset="1.000" stop-color="#00deff"/></linearGradient>
<linearGradient id="g127" x1="0" y1="0" x2="0" y2="1"><stop offset="0.000" stop-color="#fff500"/><stop offset="0.048" stop-color="#feff01"/><stop offset="0.072" stop-color="#f0ff0f"/><stop offset="0.272" stop-color="#3cffc3"/><stop offset="0.336" stop-color="#15ffea"/><stop offset="0.400" stop-color="#00feff"/><stop offset="0.496" stop-color="#00f1ff"/><stop offset="0.600" stop-color="#00ffff"/><stop offset="0.656" stop-color="#13ffec"/><stop offset="0.744" stop-color="#49ffb6"/><stop offset="0.920" stop-color="#ecff13"/><stop offset="0.952" stop-color="#feff01"/><stop offset="0.992" stop-color="#fff500"/><stop offset="1.000" stop-color="#00deff"/></linearGradient>
<linearGradient id="g128" x1="0" y1="0" x2="0" y2="1"><stop offset="0.000" stop-color="#fff500"/><stop offset="0.048" stop-color="#feff01"/><stop offset="0.072" stop-color="#f0ff0f"/><stop offset="0.272" stop-color="#3cffc3"/><stop offset="0.336" stop-color="#15ffea"/><stop offset="0.400" stop-color="#00feff"/><stop offset="0.496" stop-color="#00f1ff"/><stop offset="0.600" stop-color="#00ffff"/><stop offset="0.656" stop-color="#13ffec"/><stop offset="0.744" stop-color="#49ffb6"/><stop offset="0.920" stop-color="#ecff13"/><stop offset="0.952" stop-color="#feff01"/><stop offset="0.992" stop-color="#fff500"/><stop offset="1.000" stop-color="#00deff"/></linearGradient>
<linearGradient id="g129" x1="0" y1="0" x2="0" y2="1"><stop offset="0.000" stop-color="#fff500"/><stop offset="0.048" stop-color="#feff01"/><stop offset="0.072" stop-color="#f0ff0f"/><stop offset="0.272" stop-color="#3cffc3"/><stop offset="0.336" stop-color="#15ffea"/><stop offset="0.400" stop-color="#00feff"/><stop offset="0.496" stop-color="#00f1ff"/><stop offset="0.600" stop-color="#00ffff"/><stop offset="0.656" stop-color="#13ffec"/><stop offset="0.744" stop-color="#49ffb6"/><stop offset="0.920" stop-color="#ecff13"/><stop offset="0.952" stop-color="#feff01"/><stop offset="0.992" stop-color="#fff500"/><stop offset="1.000" stop-color="#00deff"/></linearGradient>
<linearGradient id="g130" x1="0" y1="0" x2="0" y2="1"><stop offset="0.000" stop-color="#fff500"/><stop offset="0.048" stop-color="#feff01"/><stop offset="0.072" stop-color="#f0ff0f"/><stop offset="0.272" stop-color="#3cffc3"/><stop offset="0.336" stop-color="#15ffea"/><stop offset="0.400" stop-color="#00feff"/><stop offset="0.496" stop-color="#00f1ff"/><stop offset="0.600" stop-color="#00ffff"/><stop offset="0.656" stop-color="#13ffec"/><stop offset="0.744" stop-color="#49ffb6"/><stop offset="0.920" stop-color="#ecff13"/><stop offset="0.952" stop-color="#feff01"/><stop offset="0.992" stop-color="#fff500"/><stop offset="1.000" stop-color="#00deff"/></linearGradient>
<linearGradient id="g131" x1="0" y1="0" x2="0" y2="1"><stop offset="0.000" stop-color="#00f5ff"/><stop offset="0.064" stop-color="#01fffe"/><stop offset="0.312" stop-color="#3dffc2"/><stop offset="0.496" stop-color="#45ffba"/><stop offset="0.688" stop-color="#3bffc4"/><stop offset="0.928" stop-color="#00ffff"/><stop offset="0.992" stop-color="#00f4ff"/><stop offset="1.000" stop-color="#00cfff"/></linearGradient>
<linearGradient id="g132" x1="0" y1="0" x2="0" y2="1"><stop offset="0.000" stop-color="#00f5ff"/><stop offset="0.064" stop-color="#01fffe"/><stop offset="0.312" stop-color="#3fffc0"/><stop offset="0.496" stop-color="#47ffb8"/><stop offset="0.688" stop-color="#3cffc3"/><stop offset="0.928" stop-color="#00feff"/><stop offset="0.992" stop-color="#00f4ff"/><stop offset="1.000" stop-color="#00cfff"/></linearGradient>
<linearGradient id="g133" x1="0" y1="0" x2="0" y2="1"><stop offset="0.000" stop-color="#00f5ff"/><stop offset="0.064" stop-color="#01fffe"/><stop offset="0.312" stop-color="#40ffbf"/><stop offset="0.496" stop-color="#49ffb6"/><stop offset="0.688" stop-color="#3effc1"/><stop offset="0.920" stop-color="#01fffe"/><stop offset="0.992" stop-color="#00f4ff"/><stop offset="1.000" stop-color="#00cfff"/></linearGradient>
<linearGradient id="g134" x1="0" y1="0" x2="0" y2="1"><stop offset="0.000" stop-color="#00f4ff"/><stop offset="0.064" stop-color="#00ffff"/><stop offset="0.312" stop-color="#42ffbd"/><stop offset="0.496" stop-color="#4bffb4"/><stop offset="0.688" stop-color="#40ffbf"/><stop offset="0.920" stop-color="#01fffe"/><stop offset="0.992" stop-color="#00f4ff"/><stop offset="1.000" stop-color="#00cfff"/></linearGradient>
<linearGradient id="g135" x1="0" y1="0" x2="0" y2="1"><stop offset="0.000" stop-color="#00f4ff"/><stop offset="0.064" stop-color="#00ffff"/><stop offset="0.312" stop-color="#44ffbb"/><stop offset="0.496" stop-color="#4effb1"/><stop offset="0.688" stop-color="#42ffbd"/><stop offset="0.920" stop-color="#00ffff"/><stop offset="0.992" stop-color="#00f3ff"/><stop offset="1.000" stop-color="#00cfff"/></linearGradient>
<linearGradient id="g136" x1="0" y1="0" x2="0" y2="1"><stop offset="0.000" stop-color="#00f4ff"/><stop offset="0.072" stop-color="#02fffd"/><stop offset="0.320" stop-color="#47ffb8"/><stop offset="0.496" stop-color="#50ffaf"/><stop offset="0.688" stop-color="#43ffbc"/><stop offset="0.920" stop-color="#00ffff"/><stop offset="0.992" stop-color="#00f3ff"/><stop offset="1.000" stop-color="#00cfff"/></linearGradient>
<linearGradient id="g137" x1="0" y1="0" x2="0" y2="1"><stop offset="0.000" stop-color="#00f4ff"/><stop offset="0.072" stop-color="#01fffe"/><stop offset="0.320" stop-color="#49ffb6"/><stop offset="0.496" stop-color="#52ffad"/><stop offset="0.680" stop-color="#47ffb8"/><stop offset="0.920" stop-color="#00ffff"/><stop offset="0.992" stop-color="#00f3ff"/><stop offset="1.000" stop-color="#00cfff"/></linearGradient>
<linearGradient id="g138" x1="0" y1="0" x2="0" y2="1"><stop offset="0.000" stop-color="#00f3ff"/><stop offset="0.072" stop-color="#01fffe"/><stop offset="0.320" stop-color="#4bffb4"/><stop offset="0.496" stop-color="#54ffab"/><stop offset="0.680" stop-color="#48ffb7"/><stop offset="0.920" stop-color="#00feff"/><stop offset="0.992" stop-color="#00f3ff"/><stop offset="1.000" stop-color="#00cfff"/></linearGradient>
<linearGradient id="g139" x1="0" y1="0" x2="0" y2="1"><stop offset="0.000" stop-color="#00f3ff"/><stop offset="0.072" stop-color="#01fffe"/><stop offset="0.320" stop-color="#4dffb2"/><stop offset="0.496" stop-color="#57ffa8"/><stop offset="0.680" stop-color="#4affb5"/><stop offset="0.912" stop-color="#01fffe"/><stop offset="0.992" stop-color="#00f2ff"/><stop offset="1.000" stop-color="#00cfff"/></linearGradient>
<linearGradient id="g140" x1="0" y1="0" x2="0" y2="1"><stop offset="0.000" stop-color="#00f3ff"/><stop offset="0.072" stop-color="#00ffff"/><stop offset="0.320" stop-color="#4effb1"/><stop offset="0.496" stop-color="#59ffa6"/><stop offset="0.600" stop-color="#57ffa8"/><stop offset="0.680" stop-color="#4cffb3"/><stop offset="0.912" stop-color="#01fffe"/><stop offset="0.992" stop-color="#00f2ff"/><stop offset="1.000" stop-color="#00cfff"/></linearGradient>
<linearGradient id="g141" x1="0" y1="0" x2="0" y2="1"><stop offset="0.000" stop-color="#00f2ff"/><stop offset="0.080" stop-color="#02fffd"/><stop offset="0.256" stop-color="#40ffbf"/><stop offset="0.328" stop-color="#52ffad"/><stop offset="0.496" stop-color="#5bffa4"/><stop offset="0.600" stop-color="#59ffa6"/><stop offset="0.680" stop-color="#4dffb2"/><stop offset="0.912" stop-color="#00ffff"/><stop offset="0.992" stop-color="#00f2ff"/><stop offset="1.000" stop-color="#00cfff"/></linearGradient>
<linearGradient id="g142" x1="0" y1="0" x2="0" y2="1"><stop offset="0.000" stop-color="#00f2ff"/><stop offset="0.080" stop-color="#01fffe"/><stop offset="0.256" stop-color="#41ffbe"/><stop offset="0.328" stop-color="#54ffab"/><stop offset="0.496" stop-color="#5dffa2"/><stop offset="0.600" stop-color="#5bffa4"/><stop offset="0.680" stop-color="#4fffb0"/><stop offset="0.912" stop-color="#00ffff"/><stop offset="0.992" stop-color="#00f2ff"/><stop offset="1.000" stop-color="#00cfff"/></linearGradient>
<linearGradient id="g143" x1="0" y1="0" x2="0" y2="1"><stop offset="0.000" stop-color="#00f2ff"/><stop offset="0.080" stop-color="#01fffe"/><stop offset="0.256" stop-color="#42ffbd"/><stop offset="0.328" stop-color="#55ffaa"/><stop offset="0.496" stop-color="#60ff9f"/><stop offset="0.600" stop-color="#5dffa2"/><stop offset="0.672" stop-color="#52ffad"/><stop offset="0.904" stop-color="#01fffe"/><stop offset="0.992" stop-color="#00f1ff"/><stop offset="1.000" stop-color="#00cfff"/></linearGradient>
<linearGradient id="g144" x1="0" y1="0" x2="0" y2="1"><stop offset="0.000" stop-color="#00f2ff"/><stop offset="0.080" stop-color="#00ffff"/><stop offset="0.328" stop-color="#58ffa7"/><stop offset="0.496" stop-color="#63ff9c"/><stop offset="0.600" stop-color="#60ff9f"/><stop offset="0.672" stop-color="#55ffaa"/><stop offset="0.904" stop-color="#01fffe"/><stop offset="0.992" stop-color="#00f1ff"/><stop offset="1.000" stop-color="#00cfff"/></linearGradient>
<linearGradient id="g145" x1="0" y1="0" x2="0" y2="1"><stop offset="0.000" stop-color="#00f1ff"/><stop offset="0.088" stop-color="#02fffd"/><stop offset="0.264" stop-color="#49ffb6"/><stop offset="0.328" stop-color="#5bffa4"/><stop offset="0.496" stop-color="#67ff98"/><stop offset="0.600" stop-color="#64ff9b"/><stop offset="0.672" stop-color="#58ffa7"/><stop offset="0.904" stop-color="#01fffe"/><stop offset="0.992" stop-color="#00f1ff"/><stop offset="1.000" stop-color="#00cfff"/></linearGradient>
<linearGradient id="g146" x1="0" y1="0" x2="0" y2="1"><stop offset="0.000" stop-color="#00f1ff"/><stop offset="0.088" stop-color="#02fffd"/><stop offset="0.264" stop-color="#4bffb4"/><stop offset="0.336" stop-color="#60ff9f"/><stop offset="0.496" stop-color="#6aff95"/><stop offset="0.600" stop-color="#67ff98"/><stop offset="0.672" stop-color="#5bffa4"/><stop offset="0.904" stop-color="#00ffff"/><stop offset="0.992" stop-color="#00f1ff"/><stop offset="1.000" stop-color="#00cfff"/></linearGradient>
<linearGradient id="g147" x1="0" y1="0" x2="0" y2="1"><stop offset="0.000" stop-color="#00f1ff"/><stop offset="0.088" stop-color="#02fffd"/><stop offset="0.264" stop-color="#4dffb2"/><stop offset="0.336" stop-color="#63ff9c"/><stop offset="0.496" stop-color="#6eff91"/><stop offset="0.600" stop-color="#6bff94"/><stop offset="0.672" stop-color="#5effa1"/><stop offset="0.904" stop-color="#00ffff"/><stop offset="0.992" stop-color="#00f0ff"/><stop offset="1.000" stop-color="#00cfff"/></linearGradient>
<linearGradient id="g148" x1="0" y1="0" x2="0" y2="1"><stop offset="0.000" stop-color="#00f1ff"/><stop offset="0.096" stop-color="#04fffb"/><stop offset="0.272" stop-color="#52ffad"/><stop offset="0.336" stop-color="#66ff99"/><stop offset="0.496" stop-color="#72ff8d"/><stop offset="0.600" stop-color="#6fff90"/><stop offset="0.672" stop-color="#61ff9e"/><stop offset="0.904" stop-color="#00feff"/><stop offset="0.992" stop-color="#00f0ff"/><stop offset="1.000" stop-color="#00cfff"/></linearGradient>
<linearGradient id="g149" x1="0" y1="0" x2="0" y2="1"><stop offset="0.000" stop-color="#00f0ff"/><stop offset="0.096" stop-color="#03fffc"/><stop offset="0.272" stop-color="#54ffab"/><stop offset="0.336" stop-color="#6aff95"/><stop offset="0.400" stop-color="#74ff8b"/><stop offset="0.496" stop-color="#76ff89"/><stop offset="0.592" stop-color="#73ff8c"/><stop offset="0.664" stop-color="#66ff99"/><stop offset="0.896" stop-color="#01fffe"/><stop offset="0.992" stop-color="#00f0ff"/><stop offset="1.000" stop-color="#00cfff"/></linearGradient>
<linearGradient id="g150" x1="0" y1="0" x2="0" y2="1"><stop offset="0.000" stop-color="#00f0ff"/><stop offset="0.096" stop-color="#03fffc"/><stop offset="0.272" stop-color="#56ffa9"/><stop offset="0.336" stop-color="#6dff92"/><stop offset="0.400" stop-color="#77ff88"/><stop offset="0.496" stop-color="#7aff85"/><stop offset="0.592" stop-color="#77ff88"/><stop offset="0.664" stop-color="#69ff96"/><stop offset="0.896" stop-color="#01fffe"/><stop offset="0.992" stop-color="#00f0ff"/><stop offset="1.000" stop-color="#00cfff"/></linearGradient>
<linearGradient id="g151" x1="0" y1="0" x2="0" y2="1"><stop offset="0.000" stop-color="#00f0ff"/><stop offset="0.096" stop-color="#02fffd"/><stop offset="0.280" stop-color="#5cffa3"/><stop offset="0.344" stop-color="#72ff8d"/><stop offset="0.496" stop-color="#7eff81"/><stop offset="0.592" stop-color="#7aff85"/><stop offset="0.664" stop-color="#6cff93"/><stop offset="0.896" stop-color="#00ffff"/><stop offset="0.992" stop-color="#00f0ff"/><stop offset="1.000" stop-color="#00cfff"/></linearGradient>
<linearGradient id="g152" x1="0" y1="0" x2="0" y2="1"><stop offset="0.000" stop-color="#00f0ff"/><stop offset="0.104" stop-color="#05fffa"/><stop offset="0.280" stop-color="#60ff9f"/><stop offset="0.344" stop-color="#77ff88"/><stop offset="0.408" stop-color="#81ff7e"/><stop offset="0.496" stop-color="#83ff7c"/><stop offset="0.592" stop-color="#80ff7f"/><stop offset="0.664" stop-color="#70ff8f"/><stop offset="0.896" stop-color="#00ffff"/><stop offset="0.992" stop-color="#00efff"/><stop offset="1.000" stop-color="#00cfff"/></linearGradient>
<linearGradient id="g153" x1="0" y1="0" x2="0" y2="1"><stop offset="0.000" stop-color="#00f0ff"/><stop offset="0.104" stop-color="#06fff9"/><stop offset="0.280" stop-color="#65ff9a"/><stop offset="0.344" stop-color="#7eff81"/><stop offset="0.408" stop-color="#89ff76"/><stop offset="0.496" stop-color="#8bff74"/><stop offset="0.592" stop-color="#87ff78"/><stop offset="0.664" stop-color="#77ff88"/><stop offset="0.720" stop-color="#5effa1"/><stop offset="0.840" stop-color="#18ffe7"/><stop offset="0.896" stop-color="#01fffe"/><stop offset="0.992" stop-color="#00f0ff"/><stop offset="1.000" stop-color="#00cfff"/></linearGradient>
<linearGradient id="g154" x1="0" y1="0" x2="0" y2="1"><stop offset="0.000" stop-color="#00f0ff"/><stop offset="0.080" stop-color="#00feff"/><stop offset="0.104" stop-color="#07fff8"/><stop offset="0.280" stop-color="#6bff94"/><stop offset="0.344" stop-color="#85ff7a"/><stop offset="0.408" stop-color="#90ff6f"/><stop offset="0.496" stop-color="#93ff6c"/><stop offset="0.592" stop-color="#8fff70"/><stop offset="0.664" stop-color="#7eff81"/><stop offset="0.720" stop-color="#63ff9c"/><stop offset="0.840" stop-color="#1affe5"/><stop offset="0.896" stop-color="#02fffd"/><stop offset="0.992" stop-color="#00f0ff"/><stop offset="1.000" stop-color="#00cfff"/></linearGradient>
<linearGradient id="g155" x1="0" y1="0" x2="0" y2="1"><stop offset="0.000" stop-color="#00f0ff"/><stop offset="0.080" stop-color="#00feff"/><stop offset="0.104" stop-color="#08fff7"/><stop offset="0.280" stop-color="#71ff8e"/><stop offset="0.344" stop-color="#8cff73"/><stop offset="0.408" stop-color="#98ff67"/><stop offset="0.496" stop-color="#9aff65"/><stop offset="0.592" stop-color="#96ff69"/><stop offset="0.664" stop-color="#84ff7b"/><stop offset="0.720" stop-color="#68ff97"/><stop offset="0.840" stop-color="#1cffe3"/><stop offset="0.904" stop-color="#00ffff"/><stop offset="0.992" stop-color="#00f0ff"/><stop offset="1.000" stop-color="#00cfff"/></linearGradient>
<linearGradient id="g156" x1="0" y1="0" x2="0" y2="1"><stop offset="0.000" stop-color="#00f0ff"/><stop offset="0.080" stop-color="#00ffff"/><stop offset="0.104" stop-color="#08fff7"/><stop offset="0.160" stop-color="#26ffd9"/><stop offset="0.280" stop-color="#76ff89"/><stop offset="0.344" stop-color="#93ff6c"/><stop offset="0.408" stop-color="#9fff60"/><stop offset="0.496" stop-color="#a2ff5d"/><stop offset="0.592" stop-color="#9eff61"/><stop offset="0.664" stop-color="#8bff74"/><stop offset="0.720" stop-color="#6eff91"/><stop offset="0.840" stop-color="#1dffe2"/><stop offset="0.904" stop-color="#00ffff"/><stop offset="0.992" stop-color="#00f0ff"/><stop offset="1.000" stop-color="#00cfff"/></linearGradient>
<linearGradient id="g157" x1="0" y1="0" x2="0" y2="1"><stop offset="0.000" stop-color="#00f0ff"/><stop offset="0.080" stop-color="#00ffff"/><stop offset="0.104" stop-color="#09fff6"/><stop offset="0.160" stop-color="#28ffd7"/><stop offset="0.280" stop-color="#7cff83"/><stop offset="0.344" stop-color="#9aff65"/><stop offset="0.408" stop-color="#a7ff58"/><stop offset="0.496" stop-color="#aaff55"/><stop offset="0.592" stop-color="#a5ff5a"/><stop offset="0.664" stop-color="#91ff6e"/><stop offset="0.720" stop-color="#73ff8c"/><stop offset="0.840" stop-color="#1fffe0"/><stop offset="0.904" stop-color="#01fffe"/><stop offset="0.992" stop-color="#00f0ff"/><stop offset="1.000" stop-color="#00cfff"/></linearGradient>
<linearGradient id="g158" x1="0" y1="0" x2="0" y2="1"><stop offset="0.000" stop-color="#00d3ff"/><stop offset="0.008" stop-color="#00f0ff"/><stop offset="0.088" stop-color="#00ffff"/><stop offset="0.152" stop-color="#1fffe0"/><stop offset="0.272" stop-color="#78ff87"/><stop offset="0.328" stop-color="#99ff66"/><stop offset="0.400" stop-color="#adff52"/><stop offset="0.496" stop-color="#b1ff4e"/><stop offset="0.592" stop-color="#acff53"/><stop offset="0.656" stop-color="#99ff66"/><stop offset="0.712" stop-color="#7aff85"/><stop offset="0.832" stop-color="#20ffdf"/><stop offset="0.896" stop-color="#01fffe"/><stop offset="0.976" stop-color="#00f0ff"/><stop offset="0.984" stop-color="#00d4ff"/><stop offset="1.000" stop-color="#00baff"/></linearGradient>
<linearGradient id="g159" x1="0" y1="0" x2="0" y2="1"><stop offset="0.000" stop-color="#00bfff"/><stop offset="0.016" stop-color="#00d6ff"/><stop offset="0.024" stop-color="#00f0ff"/><stop offset="0.096" stop-color="#00ffff"/><stop offset="0.160" stop-color="#21ffde"/><stop offset="0.280" stop-color="#80ff7f"/><stop offset="0.336" stop-color="#a1ff5e"/><stop offset="0.400" stop-color="#b4ff4b"/><stop offset="0.496" stop-color="#b9ff46"/><stop offset="0.584" stop-color="#b4ff4b"/><stop offset="0.656" stop-color="#9eff61"/><stop offset="0.712" stop-color="#7bff84"/><stop offset="0.824" stop-color="#22ffdd"/><stop offset="0.888" stop-color="#00ffff"/><stop offset="0.968" stop-color="#00f0ff"/><stop offset="0.976" stop-color="#00d0ff"/><stop offset="1.000" stop-color="#009fff"/></linearGradient>
<linearGradient id="g160" x1="0" y1="0" x2="0" y2="1"><stop offset="0.000" stop-color="#00a4ff"/><stop offset="0.024" stop-color="#00d3ff"/><stop offset="0.032" stop-color="#00f0ff"/><stop offset="0.104" stop-color="#00ffff"/><stop offset="0.168" stop-color="#22ffdd"/><stop offset="0.280" stop-color="#81ff7e"/><stop offset="0.336" stop-color="#a6ff59"/><stop offset="0.400" stop-color="#bbff44"/><stop offset="0.496" stop-color="#c1ff3e"/><stop offset="0.576" stop-color="#bdff42"/><stop offset="0.632" stop-color="#aeff51"/><stop offset="0.688" stop-color="#8eff71"/><stop offset="0.800" stop-color="#2fffd0"/><stop offset="0.848" stop-color="#0ffff0"/><stop offset="0.880" stop-color="#00ffff"/><stop offset="0.952" stop-color="#00f0ff"/><stop offset="0.960" stop-color="#00d5ff"/><stop offset="0.976" stop-color="#00b9ff"/><stop offset="1.000" stop-color="#0084ff"/></linearGradient>
<linearGradient id="g161" x1="0" y1="0" x2="0" y2="1"><stop offset="0.000" stop-color="#0087ff"/><stop offset="0.032" stop-color="#00ceff"/><stop offset="0.040" stop-color="#00f0ff"/><stop offset="0.112" stop-color="#00feff"/><stop offset="0.144" stop-color="#0efff1"/><stop offset="0.192" stop-color="#30ffcf"/><stop offset="0.304" stop-color="#95ff6a"/><stop offset="0.360" stop-color="#b6ff49"/><stop offset="0.416" stop-color="#c5ff3a"/><stop offset="0.496" stop-color="#c8ff37"/><stop offset="0.576" stop-color="#c4ff3b"/><stop offset="0.632" stop-color="#b3ff4c"/><stop offset="0.688" stop-color="#90ff6f"/><stop offset="0.792" stop-color="#31ffce"/><stop offset="0.840" stop-color="#0ffff0"/><stop offset="0.872" stop-color="#00ffff"/><stop offset="0.944" stop-color="#00f0ff"/><stop offset="0.952" stop-color="#00d0ff"/><stop offset="1.000" stop-color="#006aff"/></linearGradient>
<linearGradient id="g162" x1="0" y1="0" x2="0" y2="1"><stop offset="0.000" stop-color="#0066ff"/><stop offset="0.048" stop-color="#00cfff"/><stop offset="0.056" stop-color="#00f0ff"/><stop offset="0.128" stop-color="#01fffe"/><stop offset="0.160" stop-color="#11ffee"/><stop offset="0.208" stop-color="#37ffc8"/><stop offset="0.304" stop-color="#94ff6b"/><stop offset="0.360" stop-color="#baff45"/><stop offset="0.416" stop-color="#cbff34"/><stop offset="0.496" stop-color="#cfff30"/><stop offset="0.568" stop-color="#ccff33"/><stop offset="0.624" stop-color="#bbff44"/><stop offset="0.680" stop-color="#96ff69"/><stop offset="0.776" stop-color="#38ffc7"/><stop offset="0.824" stop-color="#12ffed"/><stop offset="0.864" stop-color="#00fdff"/><stop offset="0.928" stop-color="#00f0ff"/><stop offset="0.936" stop-color="#00d2ff"/><stop offset="0.976" stop-color="#0079ff"/><stop offset="1.000" stop-color="#004fff"/></linearGradient>
<linearGradient id="g163" x1="0" y1="0" x2="0" y2="1"><stop offset="0.000" stop-color="#0047ff"/><stop offset="0.024" stop-color="#006fff"/><stop offset="0.056" stop-color="#00baff"/><stop offset="0.072" stop-color="#00d6ff"/><stop offset="0.080" stop-color="#00f0ff"/><stop offset="0.144" stop-color="#01fffe"/><stop offset="0.176" stop-color="#13ffec"/><stop offset="0.216" stop-color="#35ffca"/><stop offset="0.312" stop-color="#99ff66"/><stop offset="0.368" stop-color="#c1ff3e"/><stop offset="0.424" stop-color="#d2ff2d"/><stop offset="0.496" stop-color="#d5ff2a"/><stop offset="0.568" stop-color="#d1ff2e"/><stop offset="0.616" stop-color="#c2ff3d"/><stop offset="0.672" stop-color="#9aff65"/><stop offset="0.768" stop-color="#36ffc9"/><stop offset="0.816" stop-color="#0ffff0"/><stop offset="0.848" stop-color="#00feff"/><stop offset="0.912" stop-color="#00f0ff"/><stop offset="0.920" stop-color="#00ceff"/><stop offset="0.960" stop-color="#0072ff"/><stop offset="0.976" stop-color="#0055ff"/><stop offset="1.000" stop-color="#0038ff"/></linearGradient>
<linearGradient id="g164" x1="0" y1="0" x2="0" y2="1"><stop offset="0.000" stop-color="#0033ff"/><stop offset="0.024" stop-color="#004dff"/><stop offset="0.040" stop-color="#0068ff"/><stop offset="0.088" stop-color="#00d4ff"/><stop offset="0.096" stop-color="#00f0ff"/><stop offset="0.152" stop-color="#00fdff"/><stop offset="0.184" stop-color="#10ffef"/><stop offset="0.224" stop-color="#32ffcd"/><stop offset="0.328" stop-color="#a5ff5a"/><stop offset="0.376" stop-color="#c8ff37"/><stop offset="0.424" stop-color="#d8ff27"/><stop offset="0.496" stop-color="#dbff24"/><stop offset="0.568" stop-color="#d6ff29"/><stop offset="0.616" stop-color="#c4ff3b"/><stop offset="0.664" stop-color="#9fff60"/><stop offset="0.760" stop-color="#34ffcb"/><stop offset="0.800" stop-color="#11ffee"/><stop offset="0.832" stop-color="#00feff"/><stop offset="0.888" stop-color="#00f0ff"/><stop offset="0.896" stop-color="#00d6ff"/><stop offset="0.904" stop-color="#00caff"/><stop offset="0.952" stop-color="#005cff"/><stop offset="0.976" stop-color="#003cff"/><stop offset="1.000" stop-color="#002bff"/></linearGradient>
<linearGradient id="g165" x1="0" y1="0" x2="0" y2="1"><stop offset="0.000" stop-color="#0029ff"/><stop offset="0.024" stop-color="#0038ff"/><stop offset="0.048" stop-color="#0057ff"/><stop offset="0.104" stop-color="#00d4ff"/><stop offset="0.112" stop-color="#00f0ff"/><stop offset="0.168" stop-color="#00ffff"/><stop offset="0.200" stop-color="#13ffec"/><stop offset="0.240" stop-color="#39ffc6"/><stop offset="0.328" stop-color="#a2ff5d"/><stop offset="0.376" stop-color="#caff35"/><stop offset="0.424" stop-color="#ddff22"/><stop offset="0.496" stop-color="#e1ff1e"/><stop offset="0.560" stop-color="#ddff22"/><stop offset="0.608" stop-color="#cbff34"/><stop offset="0.656" stop-color="#a4ff5b"/><stop offset="0.744" stop-color="#3bffc4"/><stop offset="0.784" stop-color="#14ffeb"/><stop offset="0.816" stop-color="#00ffff"/><stop offset="0.872" stop-color="#00f0ff"/><stop offset="0.880" stop-color="#00d6ff"/><stop offset="0.888" stop-color="#00c9ff"/><stop offset="0.920" stop-color="#007aff"/><stop offset="0.944" stop-color="#004dff"/><stop offset="0.968" stop-color="#0033ff"/><stop offset="1.000" stop-color="#0024ff"/></linearGradient>
<linearGradient id="g166" x1="0" y1="0" x2="0" y2="1"><stop offset="0.000" stop-color="#0023ff"/><stop offset="0.032" stop-color="#0031ff"/><stop offset="0.056" stop-color="#004bff"/><stop offset="0.080" stop-color="#0079ff"/><stop offset="0.112" stop-color="#00caff"/><stop offset="0.120" stop-color="#00d6ff"/><stop offset="0.128" stop-color="#00f1ff"/><stop offset="0.184" stop-color="#02fffd"/><stop offset="0.216" stop-color="#18ffe7"/><stop offset="0.248" stop-color="#39ffc6"/><stop offset="0.336" stop-color="#a9ff56"/><stop offset="0.384" stop-color="#d2ff2d"/><stop offset="0.432" stop-color="#e4ff1b"/><stop offset="0.496" stop-color="#e8ff17"/><stop offset="0.560" stop-color="#e3ff1c"/><stop offset="0.608" stop-color="#ceff31"/><stop offset="0.648" stop-color="#abff54"/><stop offset="0.736" stop-color="#3bffc4"/><stop offset="0.776" stop-color="#13ffec"/><stop offset="0.808" stop-color="#00feff"/><stop offset="0.864" stop-color="#00f0ff"/><stop offset="0.872" stop-color="#00cdff"/><stop offset="0.912" stop-color="#006bff"/><stop offset="0.928" stop-color="#004dff"/><stop offset="0.960" stop-color="#002dff"/><stop offset="1.000" stop-color="#0021ff"/></linearGradient>
<linearGradient id="g167" x1="0" y1="0" x2="0" y2="1"><stop offset="0.000" stop-color="#0020ff"/><stop offset="0.040" stop-color="#0029ff"/><stop offset="0.072" stop-color="#0046ff"/><stop offset="0.096" stop-color="#0076ff"/><stop offset="0.128" stop-color="#00cdff"/><stop offset="0.136" stop-color="#00f0ff"/><stop offset="0.192" stop-color="#02fffd"/><stop offset="0.224" stop-color="#19ffe6"/><stop offset="0.256" stop-color="#3bffc4"/><stop offset="0.344" stop-color="#b1ff4e"/><stop offset="0.384" stop-color="#d5ff2a"/><stop offset="0.432" stop-color="#eaff15"/><stop offset="0.496" stop-color="#eeff11"/><stop offset="0.552" stop-color="#eaff15"/><stop offset="0.600" stop-color="#d6ff29"/><stop offset="0.640" stop-color="#b3ff4c"/><stop offset="0.728" stop-color="#3dffc2"/><stop offset="0.768" stop-color="#13ffec"/><stop offset="0.800" stop-color="#00feff"/><stop offset="0.848" stop-color="#00f0ff"/><stop offset="0.856" stop-color="#00d0ff"/><stop offset="0.888" stop-color="#007aff"/><stop offset="0.912" stop-color="#0049ff"/><stop offset="0.944" stop-color="#002aff"/><stop offset="1.000" stop-color="#001fff"/></linearGradient>
<linearGradient id="g168" x1="0" y1="0" x2="0" y2="1"><stop offset="0.000" stop-color="#001fff"/><stop offset="0.048" stop-color="#0025ff"/><stop offset="0.080" stop-color="#003bff"/><stop offset="0.104" stop-color="#0066ff"/><stop offset="0.152" stop-color="#00f1ff"/><stop offset="0.192" stop-color="#01fffe"/><stop offset="0.232" stop-color="#1dffe2"/><stop offset="0.264" stop-color="#42ffbd"/><stop offset="0.344" stop-color="#b1ff4e"/><stop offset="0.384" stop-color="#d9ff26"/><stop offset="0.432" stop-color="#efff10"/><stop offset="0.496" stop-color="#f4ff0b"/><stop offset="0.552" stop-color="#f0ff0f"/><stop offset="0.600" stop-color="#daff25"/><stop offset="0.640" stop-color="#b3ff4c"/><stop offset="0.720" stop-color="#44ffbb"/><stop offset="0.760" stop-color="#18ffe7"/><stop offset="0.792" stop-color="#01fffe"/><stop offset="0.840" stop-color="#00f0ff"/><stop offset="0.848" stop-color="#00c9ff"/><stop offset="0.872" stop-color="#0080ff"/><stop offset="0.888" stop-color="#0058ff"/><stop offset="0.904" stop-color="#003dff"/><stop offset="0.936" stop-color="#0025ff"/><stop offset="1.000" stop-color="#001fff"/></linearGradient>
<linearGradient id="g169" x1="0" y1="0" x2="0" y2="1"><stop offset="0.000" stop-color="#001fff"/><stop offset="0.064" stop-color="#0024ff"/><stop offset="0.096" stop-color="#003dff"/><stop offset="0.120" stop-color="#0072ff"/><stop offset="0.160" stop-color="#00f2ff"/><stop offset="0.192" stop-color="#01fffe"/><stop offset="0.232" stop-color="#1effe1"/><stop offset="0.272" stop-color="#4dffb2"/><stop offset="0.344" stop-color="#b4ff4b"/><stop offset="0.384" stop-color="#deff21"/><stop offset="0.432" stop-color="#f5ff0a"/><stop offset="0.496" stop-color="#faff05"/><stop offset="0.552" stop-color="#f6ff09"/><stop offset="0.600" stop-color="#dfff20"/><stop offset="0.640" stop-color="#b6ff49"/><stop offset="0.720" stop-color="#44ffbb"/><stop offset="0.752" stop-color="#20ffdf"/><stop offset="0.792" stop-color="#02fffd"/><stop offset="0.832" stop-color="#00f0ff"/><stop offset="0.840" stop-color="#00c7ff"/><stop offset="0.864" stop-color="#0077ff"/><stop offset="0.880" stop-color="#004eff"/><stop offset="0.896" stop-color="#0035ff"/><stop offset="0.928" stop-color="#0022ff"/><stop offset="1.000" stop-color="#001fff"/></linearGradient>
<linearGradient id="g170" x1="0" y1="0" x2="0" y2="1"><stop offset="0.000" stop-color="#001fff"/><stop offset="0.072" stop-color="#0022ff"/><stop offset="0.104" stop-color="#0035ff"/><stop offset="0.128" stop-color="#0067ff"/><stop offset="0.168" stop-color="#00f3ff"/><stop offset="0.184" stop-color="#00fcff"/><stop offset="0.216" stop-color="#12ffed"/><stop offset="0.248" stop-color="#30ffcf"/><stop offset="0.344" stop-color="#b7ff48"/><stop offset="0.376" stop-color="#dbff24"/><stop offset="0.416" stop-color="#f6ff09"/><stop offset="0.456" stop-color="#ffff00"/><stop offset="0.544" stop-color="#fdff02"/><stop offset="0.592" stop-color="#eaff15"/><stop offset="0.640" stop-color="#b9ff46"/><stop offset="0.736" stop-color="#32ffcd"/><stop offset="0.768" stop-color="#13ffec"/><stop offset="0.800" stop-color="#00fdff"/><stop offset="0.824" stop-color="#00f0ff"/><stop offset="0.832" stop-color="#00c4ff"/><stop offset="0.856" stop-color="#006cff"/><stop offset="0.864" stop-color="#0055ff"/><stop offset="0.880" stop-color="#0037ff"/><stop offset="0.912" stop-color="#0022ff"/><stop offset="1.000" stop-color="#001fff"/></linearGradient>
<linearGradient id="g171" x1="0" y1="0" x2="0" y2="1"><stop offset="0.000" stop-color="#001fff"/><stop offset="0.080" stop-color="#0020ff"/><stop offset="0.112" stop-color="#002dff"/><stop offset="0.128" stop-color="#0045ff"/><stop offset="0.136" stop-color="#005aff"/><stop offset="0.176" stop-color="#00f4ff"/><stop offset="0.192" stop-color="#01fffe"/><stop offset="0.256" stop-color="#3dffc2"/><stop offset="0.368" stop-color="#d8ff27"/><stop offset="0.400" stop-color="#f3ff0c"/><stop offset="0.432" stop-color="#fffd00"/><stop offset="0.512" stop-color="#fff800"/><stop offset="0.560" stop-color="#ffff00"/><stop offset="0.592" stop-color="#efff10"/><stop offset="0.640" stop-color="#bdff42"/><stop offset="0.736" stop-color="#35ffca"/><stop offset="0.792" stop-color="#02fffd"/><stop offset="0.816" stop-color="#00f0ff"/><stop offset="0.824" stop-color="#00c1ff"/><stop offset="0.848" stop-color="#005fff"/><stop offset="0.856" stop-color="#0049ff"/><stop offset="0.872" stop-color="#002fff"/><stop offset="0.904" stop-color="#0020ff"/><stop offset="1.000" stop-color="#001fff"/></linearGradient>
<linearGradient id="g172" x1="0" y1="0" x2="0" y2="1"><stop offset="0.000" stop-color="#001fff"/><stop offset="0.096" stop-color="#0020ff"/><stop offset="0.128" stop-color="#0032ff"/><stop offset="0.144" stop-color="#0054ff"/><stop offset="0.152" stop-color="#0071ff"/><stop offset="0.168" stop-color="#00bbff"/><stop offset="0.184" stop-color="#00f6ff"/><stop offset="0.192" stop-color="#00feff"/><stop offset="0.256" stop-color="#41ffbe"/><stop offset="0.360" stop-color="#d5ff2a"/><stop offset="0.392" stop-color="#f4ff0b"/><stop offset="0.416" stop-color="#fffc00"/><stop offset="0.456" stop-color="#fff200"/><stop offset="0.512" stop-color="#fff100"/><stop offset="0.576" stop-color="#ffff00"/><stop offset="0.592" stop-color="#f5ff0a"/><stop offset="0.640" stop-color="#c3ff3c"/><stop offset="0.736" stop-color="#3affc5"/><stop offset="0.792" stop-color="#00ffff"/><stop offset="0.808" stop-color="#00f0ff"/><stop offset="0.816" stop-color="#00c2ff"/><stop offset="0.840" stop-color="#005aff"/><stop offset="0.848" stop-color="#0043ff"/><stop offset="0.864" stop-color="#002bff"/><stop offset="0.896" stop-color="#001fff"/><stop offset="1.000" stop-color="#001fff"/></linearGradient>
<linearGradient id="g173" x1="0" y1="0" x2="0" y2="1"><stop offset="0.000" stop-color="#001fff"/><stop offset="0.104" stop-color="#0020ff"/><stop offset="0.136" stop-color="#0032ff"/><stop offset="0.152" stop-color="#0057ff"/><stop offset="0.160" stop-color="#0076ff"/><stop offset="0.176" stop-color="#00c2ff"/><stop offset="0.184" stop-color="#00f1ff"/><stop offset="0.200" stop-color="#05fffa"/><stop offset="0.264" stop-color="#52ffad"/><stop offset="0.352" stop-color="#d2ff2d"/><stop offset="0.400" stop-color="#fffe00"/><stop offset="0.440" stop-color="#ffee00"/><stop offset="0.504" stop-color="#ffea00"/><stop offset="0.552" stop-color="#ffef00"/><stop offset="0.592" stop-color="#fcff03"/><stop offset="0.632" stop-color="#d4ff2b"/><stop offset="0.728" stop-color="#4affb5"/><stop offset="0.792" stop-color="#00fdff"/><stop offset="0.800" stop-color="#00f3ff"/><stop offset="0.824" stop-color="#007dff"/><stop offset="0.832" stop-color="#005cff"/><stop offset="0.840" stop-color="#0045ff"/><stop offset="0.856" stop-color="#002bff"/><stop offset="0.888" stop-color="#001fff"/><stop offset="1.000" stop-color="#001fff"/></linearGradient>
<linearGradient id="g174" x1="0" y1="0" x2="0" y2="1"><stop offset="0.000" stop-color="#001fff"/><stop offset="0.104" stop-color="#001fff"/><stop offset="0.136" stop-color="#0029ff"/><stop offset="0.152" stop-color="#0042ff"/><stop offset="0.160" stop-color="#005aff"/><stop offset="0.168" stop-color="#007bff"/><stop offset="0.192" stop-color="#00f4ff"/><stop offset="0.200" stop-color="#01fffe"/><stop offset="0.344" stop-color="#cfff30"/><stop offset="0.376" stop-color="#f4ff0b"/><stop offset="0.392" stop-color="#fffc00"/><stop offset="0.440" stop-color="#ffe700"/><stop offset="0.512" stop-color="#ffe400"/><stop offset="0.560" stop-color="#ffea00"/><stop offset="0.600" stop-color="#fdff02"/><stop offset="0.640" stop-color="#d1ff2e"/><stop offset="0.784" stop-color="#03fffc"/><stop offset="0.792" stop-color="#00f7ff"/><stop offset="0.824" stop-color="#0060ff"/><stop offset="0.832" stop-color="#0046ff"/><stop offset="0.848" stop-color="#002bff"/><stop offset="0.880" stop-color="#001fff"/><stop offset="1.000" stop-color="#001fff"/></linearGradient>
<linearGradient id="g175" x1="0" y1="0" x2="0" y2="1"><stop offset="0.000" stop-color="#001fff"/><stop offset="0.112" stop-color="#001fff"/><stop offset="0.144" stop-color="#0029ff"/><stop offset="0.160" stop-color="#0043ff"/><stop offset="0.168" stop-color="#005dff"/><stop offset="0.200" stop-color="#00f9ff"/><stop offset="0.208" stop-color="#08fff7"/><stop offset="0.336" stop-color="#cdff32"/><stop offset="0.368" stop-color="#f4ff0b"/><stop offset="0.384" stop-color="#fffb00"/><stop offset="0.432" stop-color="#ffe100"/><stop offset="0.512" stop-color="#ffdd00"/><stop offset="0.560" stop-color="#ffe300"/><stop offset="0.608" stop-color="#feff01"/><stop offset="0.656" stop-color="#c4ff3b"/><stop offset="0.776" stop-color="#0bfff4"/><stop offset="0.784" stop-color="#00fcff"/><stop offset="0.816" stop-color="#0063ff"/><stop offset="0.824" stop-color="#0048ff"/><stop offset="0.840" stop-color="#002bff"/><stop offset="0.872" stop-color="#001fff"/><stop offset="1.000" stop-color="#001fff"/></linearGradient>
<linearGradient id="g176" x1="0" y1="0" x2="0" y2="1"><stop offset="0.000" stop-color="#001fff"/><stop offset="0.120" stop-color="#001fff"/><stop offset="0.152" stop-color="#0029ff"/><stop offset="0.168" stop-color="#0045ff"/><stop offset="0.176" stop-color="#0060ff"/><stop offset="0.208" stop-color="#00ffff"/><stop offset="0.248" stop-color="#4cffb3"/><stop offset="0.312" stop-color="#b3ff4c"/><stop offset="0.352" stop-color="#ebff14"/><stop offset="0.376" stop-color="#fffa00"/><stop offset="0.432" stop-color="#ffda00"/><stop offset="0.512" stop-color="#ffd600"/><stop offset="0.568" stop-color="#ffdf00"/><stop offset="0.616" stop-color="#feff01"/><stop offset="0.648" stop-color="#d8ff27"/><stop offset="0.688" stop-color="#9dff62"/><stop offset="0.744" stop-color="#41ffbe"/><stop offset="0.776" stop-color="#03fffc"/><stop offset="0.784" stop-color="#00f1ff"/><stop offset="0.792" stop-color="#00bcff"/><stop offset="0.808" stop-color="#0067ff"/><stop offset="0.816" stop-color="#004aff"/><stop offset="0.832" stop-color="#002bff"/><stop offset="0.864" stop-color="#001fff"/><stop offset="1.000" stop-color="#001fff"/></linearGradient>
<linearGradient id="g177" x1="0" y1="0" x2="0" y2="1"><stop offset="0.000" stop-color="#001fff"/><stop offset="0.128" stop-color="#001fff"/><stop offset="0.160" stop-color="#0029ff"/><stop offset="0.176" stop-color="#0045ff"/><stop offset="0.184" stop-color="#0062ff"/><stop offset="0.200" stop-color="#00b9ff"/><stop offset="0.208" stop-color="#00f0ff"/><stop offset="0.216" stop-color="#06fff9"/><stop offset="0.256" stop-color="#5cffa3"/><stop offset="0.304" stop-color="#b0ff4f"/><stop offset="0.344" stop-color="#eaff15"/><stop offset="0.368" stop-color="#fff900"/><stop offset="0.424" stop-color="#ffd500"/><stop offset="0.512" stop-color="#ffcf00"/><stop offset="0.576" stop-color="#ffdb00"/><stop offset="0.624" stop-color="#feff01"/><stop offset="0.664" stop-color="#cbff34"/><stop offset="0.704" stop-color="#8bff74"/><stop offset="0.736" stop-color="#50ffaf"/><stop offset="0.768" stop-color="#0afff5"/><stop offset="0.776" stop-color="#00f5ff"/><stop offset="0.792" stop-color="#0094ff"/><stop offset="0.800" stop-color="#0069ff"/><stop offset="0.808" stop-color="#004aff"/><stop offset="0.824" stop-color="#002aff"/><stop offset="0.856" stop-color="#001fff"/><stop offset="1.000" stop-color="#001fff"/></linearGradient>
<linearGradient id="g178" x1="0" y1="0" x2="0" y2="1"><stop offset="0.000" stop-color="#001fff"/><stop offset="0.144" stop-color="#001fff"/><stop offset="0.168" stop-color="#0028ff"/><stop offset="0.184" stop-color="#0044ff"/><stop offset="0.192" stop-color="#0062ff"/><stop offset="0.208" stop-color="#00bdff"/><stop offset="0.216" stop-color="#00f3ff"/><stop offset="0.224" stop-color="#0cfff3"/><stop offset="0.256" stop-color="#5cffa3"/><stop offset="0.296" stop-color="#aaff55"/><stop offset="0.336" stop-color="#e8ff17"/><stop offset="0.360" stop-color="#fff900"/><stop offset="0.392" stop-color="#ffdd00"/><stop offset="0.424" stop-color="#ffce00"/><stop offset="0.512" stop-color="#ffc800"/><stop offset="0.576" stop-color="#ffd300"/><stop offset="0.632" stop-color="#feff01"/><stop offset="0.664" stop-color="#d4ff2b"/><stop offset="0.704" stop-color="#90ff6f"/><stop offset="0.736" stop-color="#4dffb2"/><stop offset="0.760" stop-color="#10ffef"/><stop offset="0.768" stop-color="#00f8ff"/><stop offset="0.792" stop-color="#0069ff"/><stop offset="0.800" stop-color="#0049ff"/><stop offset="0.816" stop-color="#0029ff"/><stop offset="0.848" stop-color="#001fff"/><stop offset="1.000" stop-color="#001fff"/></linearGradient>
<linearGradient id="g179" x1="0" y1="0" x2="0" y2="1"><stop offset="0.000" stop-color="#001fff"/><stop offset="0.152" stop-color="#001fff"/><stop offset="0.176" stop-color="#0027ff"/><stop offset="0.192" stop-color="#0042ff"/><stop offset="0.200" stop-color="#0061ff"/><stop offset="0.208" stop-color="#008eff"/><stop offset="0.224" stop-color="#00f7ff"/><stop offset="0.232" stop-color="#12ffed"/><stop offset="0.264" stop-color="#6bff94"/><stop offset="0.288" stop-color="#a0ff5f"/><stop offset="0.328" stop-color="#e5ff1a"/><stop offset="0.352" stop-color="#fff900"/><stop offset="0.384" stop-color="#ffda00"/><stop offset="0.416" stop-color="#ffc900"/><stop offset="0.512" stop-color="#ffc100"/><stop offset="0.584" stop-color="#ffcf00"/><stop offset="0.640" stop-color="#fdff02"/><stop offset="0.672" stop-color="#cfff30"/><stop offset="0.704" stop-color="#93ff6c"/><stop offset="0.728" stop-color="#5bffa4"/><stop offset="0.760" stop-color="#00fdff"/><stop offset="0.784" stop-color="#0069ff"/><stop offset="0.792" stop-color="#0048ff"/><stop offset="0.808" stop-color="#0028ff"/><stop offset="0.832" stop-color="#001fff"/><stop offset="1.000" stop-color="#001fff"/></linearGradient>
<linearGradient id="g180" x1="0" y1="0" x2="0" y2="1"><stop offset="0.000" stop-color="#001fff"/><stop offset="0.160" stop-color="#001fff"/><stop offset="0.184" stop-color="#0026ff"/><stop offset="0.200" stop-color="#0041ff"/><stop offset="0.208" stop-color="#0061ff"/><stop offset="0.232" stop-color="#00fcff"/><stop offset="0.264" stop-color="#66ff99"/><stop offset="0.288" stop-color="#a2ff5d"/><stop offset="0.320" stop-color="#e0ff1f"/><stop offset="0.344" stop-color="#fffa00"/><stop offset="0.376" stop-color="#ffd800"/><stop offset="0.408" stop-color="#ffc500"/><stop offset="0.448" stop-color="#ffbb00"/><stop offset="0.512" stop-color="#ffba00"/><stop offset="0.584" stop-color="#ffc800"/><stop offset="0.616" stop-color="#ffde00"/><stop offset="0.648" stop-color="#fbff04"/><stop offset="0.680" stop-color="#c7ff38"/><stop offset="0.704" stop-color="#93ff6c"/><stop offset="0.728" stop-color="#53ffac"/><stop offset="0.752" stop-color="#03fffc"/><stop offset="0.776" stop-color="#0069ff"/><stop offset="0.784" stop-color="#0046ff"/><stop offset="0.800" stop-color="#0027ff"/><stop offset="0.824" stop-color="#001fff"/><stop offset="1.000" stop-color="#001fff"/></linearGradient>
<linearGradient id="g181" x1="0" y1="0" x2="0" y2="1"><stop offset="0.000" stop-color="#001fff"/><stop offset="0.192" stop-color="#0025ff"/><stop offset="0.208" stop-color="#003fff"/><stop offset="0.216" stop-color="#0060ff"/><stop offset="0.240" stop-color="#02fffd"/><stop offset="0.264" stop-color="#5bffa4"/><stop offset="0.288" stop-color="#a1ff5e"/><stop offset="0.312" stop-color="#d7ff28"/><stop offset="0.336" stop-color="#fffe00"/><stop offset="0.368" stop-color="#ffd700"/><stop offset="0.400" stop-color="#ffc100"/><stop offset="0.480" stop-color="#ffb300"/><stop offset="0.544" stop-color="#ffb500"/><stop offset="0.584" stop-color="#ffc000"/><stop offset="0.616" stop-color="#ffd600"/><stop offset="0.648" stop-color="#fffc00"/><stop offset="0.672" stop-color="#daff25"/><stop offset="0.696" stop-color="#a5ff5a"/><stop offset="0.720" stop-color="#60ff9f"/><stop offset="0.744" stop-color="#09fff6"/><stop offset="0.752" stop-color="#00d1ff"/><stop offset="0.768" stop-color="#0069ff"/><stop offset="0.776" stop-color="#0045ff"/><stop offset="0.784" stop-color="#0030ff"/><stop offset="0.792" stop-color="#0026ff"/><stop offset="0.816" stop-color="#001fff"/><stop offset="1.000" stop-color="#001fff"/></linearGradient>
<linearGradient id="g182" x1="0" y1="0" x2="0" y2="1"><stop offset="0.000" stop-color="#001fff"/><stop offset="0.200" stop-color="#0024ff"/><stop offset="0.216" stop-color="#003eff"/><stop offset="0.224" stop-color="#0060ff"/><stop offset="0.240" stop-color="#00cdff"/><stop offset="0.248" stop-color="#08fff7"/><stop offset="0.264" stop-color="#4affb5"/><stop offset="0.288" stop-color="#9bff64"/><stop offset="0.320" stop-color="#e9ff16"/><stop offset="0.336" stop-color="#fff900"/><stop offset="0.368" stop-color="#ffd000"/><stop offset="0.408" stop-color="#ffb600"/><stop offset="0.448" stop-color="#ffad00"/><stop offset="0.520" stop-color="#ffac00"/><stop offset="0.592" stop-color="#ffbd00"/><stop offset="0.624" stop-color="#ffd700"/><stop offset="0.656" stop-color="#fbff04"/><stop offset="0.680" stop-color="#c9ff36"/><stop offset="0.696" stop-color="#a0ff5f"/><stop offset="0.720" stop-color="#50ffaf"/><stop offset="0.736" stop-color="#0ffff0"/><stop offset="0.744" stop-color="#00d4ff"/><stop offset="0.760" stop-color="#0069ff"/><stop offset="0.768" stop-color="#0043ff"/><stop offset="0.776" stop-color="#002eff"/><stop offset="0.784" stop-color="#0025ff"/><stop offset="0.808" stop-color="#001fff"/><stop offset="1.000" stop-color="#001fff"/></linearGradient>
<linearGradient id="g183" x1="0" y1="0" x2="0" y2="1"><stop offset="0.000" stop-color="#00e5ff"/><stop offset="0.016" stop-color="#35ffca"/><stop offset="0.032" stop-color="#6eff91"/><stop offset="0.048" stop-color="#98ff67"/><stop offset="0.065" stop-color="#b7ff48"/><stop offset="0.097" stop-color="#dfff20"/><stop offset="0.145" stop-color="#ffff00"/><stop offset="0.500" stop-color="#ff8900"/><stop offset="0.855" stop-color="#ffff00"/><stop offset="0.903" stop-color="#dfff20"/><stop offset="0.935" stop-color="#b7ff48"/><stop offset="0.952" stop-color="#98ff67"/><stop offset="0.968" stop-color="#6eff91"/><stop offset="0.984" stop-color="#35ffca"/><stop offset="1.000" stop-color="#00e5ff"/></linearGradient>
<linearGradient id="g184" x1="0" y1="0" x2="0" y2="1"><stop offset="0.000" stop-color="#00e5ff"/><stop offset="0.016" stop-color="#35ffca"/><stop offset="0.032" stop-color="#6eff91"/><stop offset="0.048" stop-color="#98ff67"/><stop offset="0.065" stop-color="#b6ff49"/><stop offset="0.081" stop-color="#cdff32"/><stop offset="0.113" stop-color="#ebff14"/><stop offset="0.145" stop-color="#feff01"/><stop offset="0.161" stop-color="#fffa00"/><stop offset="0.500" stop-color="#ff9400"/><stop offset="0.855" stop-color="#feff01"/><stop offset="0.903" stop-color="#deff21"/><stop offset="0.935" stop-color="#b6ff49"/><stop offset="0.952" stop-color="#98ff67"/><stop offset="0.968" stop-color="#6eff91"/><stop offset="0.984" stop-color="#35ffca"/><stop offset="1.000" stop-color="#00e5ff"/></linearGradient>
<linearGradient id="g185" x1="0" y1="0" x2="0" y2="1"><stop offset="0.000" stop-color="#00e5ff"/><stop offset="0.016" stop-color="#35ffca"/><stop offset="0.032" stop-color="#6eff91"/><stop offset="0.048" stop-color="#97ff68"/><stop offset="0.065" stop-color="#b6ff49"/><stop offset="0.081" stop-color="#ccff33"/><stop offset="0.113" stop-color="#eaff15"/><stop offset="0.161" stop-color="#fffb00"/><stop offset="0.500" stop-color="#ff9c00"/><stop offset="0.855" stop-color="#fcff03"/><stop offset="0.903" stop-color="#ddff22"/><stop offset="0.935" stop-color="#b6ff49"/><stop offset="0.952" stop-color="#97ff68"/><stop offset="0.968" stop-color="#6eff91"/><stop offset="0.984" stop-color="#35ffca"/><stop offset="1.000" stop-color="#00e5ff"/></linearGradient>
<linearGradient id="g186" x1="0" y1="0" x2="0" y2="1"><stop offset="0.000" stop-color="#00e5ff"/><stop offset="0.016" stop-color="#35ffca"/><stop offset="0.032" stop-color="#6eff91"/><stop offset="0.048" stop-color="#97ff68"/><stop offset="0.065" stop-color="#b6ff49"/><stop offset="0.081" stop-color="#ccff33"/><stop offset="0.113" stop-color="#eaff15"/><stop offset="0.161" stop-color="#fffc00"/><stop offset="0.500" stop-color="#ffa200"/><stop offset="0.855" stop-color="#fbff04"/><stop offset="0.903" stop-color="#ddff22"/><stop offset="0.935" stop-color="#b6ff49"/><stop offset="0.952" stop-color="#97ff68"/><stop offset="0.968" stop-color="#6eff91"/><stop offset="0.984" stop-color="#35ffca"/><stop offset="1.000" stop-color="#00e5ff"/></linearGradient>
<linearGradient id="g187" x1="0" y1="0" x2="0" y2="1"><stop offset="0.000" stop-color="#00e5ff"/><stop offset="0.016" stop-color="#35ffca"/><stop offset="0.032" stop-color="#6eff91"/><stop offset="0.048" stop-color="#97ff68"/><stop offset="0.065" stop-color="#b5ff4a"/><stop offset="0.081" stop-color="#ccff33"/><stop offset="0.113" stop-color="#e9ff16"/><stop offset="0.161" stop-color="#fffd00"/><stop offset="0.500" stop-color="#ffa600"/><stop offset="0.855" stop-color="#fbff04"/><stop offset="0.903" stop-color="#dcff23"/><stop offset="0.935" stop-color="#b5ff4a"/><stop offset="0.952" stop-color="#97ff68"/><stop offset="0.968" stop-color="#6eff91"/><stop offset="0.984" stop-color="#35ffca"/><stop offset="1.000" stop-color="#00e5ff"/></linearGradient>
<linearGradient id="g188" x1="0" y1="0" x2="0" y2="1"><stop offset="0.000" stop-color="#00e5ff"/><stop offset="0.016" stop-color="#35ffca"/><stop offset="0.032" stop-color="#6eff91"/><stop offset="0.048" stop-color="#97ff68"/><stop offset="0.065" stop-color="#b5ff4a"/><stop offset="0.081" stop-color="#ccff33"/><stop offset="0.113" stop-color="#e9ff16"/><stop offset="0.161" stop-color="#fffd00"/><stop offset="0.500" stop-color="#ffa900"/><stop offset="0.855" stop-color="#faff05"/><stop offset="0.903" stop-color="#dcff23"/><stop offset="0.935" stop-color="#b5ff4a"/><stop offset="0.952" stop-color="#97ff68"/><stop offset="0.968" stop-color="#6eff91"/><stop offset="0.984" stop-color="#35ffca"/><stop offset="1.000" stop-color="#00e5ff"/></linearGradient>
<linearGradient id="g189" x1="0" y1="0" x2="0" y2="1"><stop offset="0.000" stop-color="#00e5ff"/><stop offset="0.016" stop-color="#35ffca"/><stop offset="0.032" stop-color="#6eff91"/><stop offset="0.048" stop-color="#97ff68"/><stop offset="0.065" stop-color="#b5ff4a"/><stop offset="0.081" stop-color="#cbff34"/><stop offset="0.113" stop-color="#e9ff16"/><stop offset="0.161" stop-color="#fffe00"/><stop offset="0.500" stop-color="#ffab00"/><stop offset="0.839" stop-color="#fffe00"/><stop offset="0.887" stop-color="#e9ff16"/><stop offset="0.919" stop-color="#cbff34"/><stop offset="0.935" stop-color="#b5ff4a"/><stop offset="0.952" stop-color="#97ff68"/><stop offset="0.968" stop-color="#6eff91"/><stop offset="0.984" stop-color="#35ffca"/><stop offset="1.000" stop-color="#00e5ff"/></linearGradient>
<linearGradient id="g190" x1="0" y1="0" x2="0" y2="1"><stop offset="0.000" stop-color="#00e5ff"/><stop offset="0.016" stop-color="#35ffca"/><stop offset="0.032" stop-color="#6eff91"/><stop offset="0.048" stop-color="#97ff68"/><stop offset="0.065" stop-color="#b5ff4a"/><stop offset="0.081" stop-color="#cbff34"/><stop offset="0.113" stop-color="#e8ff17"/><stop offset="0.161" stop-color="#fffe00"/><stop offset="0.500" stop-color="#ffac00"/><stop offset="0.839" stop-color="#fffe00"/><stop offset="0.887" stop-color="#e8ff17"/><stop offset="0.919" stop-color="#cbff34"/><stop offset="0.935" stop-color="#b5ff4a"/><stop offset="0.952" stop-color="#97ff68"/><stop offset="0.968" stop-color="#6eff91"/><stop offset="0.984" stop-color="#35ffca"/><stop offset="1.000" stop-color="#00e5ff"/></linearGradient>
<linearGradient id="g191" x1="0" y1="0" x2="0" y2="1"><stop offset="0.000" stop-color="#00e5ff"/><stop offset="0.016" stop-color="#35ffca"/><stop offset="0.032" stop-color="#6eff91"/><stop offset="0.048" stop-color="#97ff68"/><stop offset="0.065" stop-color="#b5ff4a"/><stop offset="0.081" stop-color="#cbff34"/><stop offset="0.113" stop-color="#e8ff17"/><stop offset="0.161" stop-color="#fffe00"/><stop offset="0.500" stop-color="#ffad00"/><stop offset="0.839" stop-color="#fffe00"/><stop offset="0.887" stop-color="#e8ff17"/><stop offset="0.919" stop-color="#cbff34"/><stop offset="0.935" stop-color="#b5ff4a"/><stop offset="0.952" stop-color="#97ff68"/><stop offset="0.968" stop-color="#6eff91"/><stop offset="0.984" stop-color="#35ffca"/><stop offset="1.000" stop-color="#00e5ff"/></linearGradient>
<linearGradient id="g192" x1="0" y1="0" x2="0" y2="1"><stop offset="0.000" stop-color="#00e5ff"/><stop offset="0.016" stop-color="#35ffca"/><stop offset="0.032" stop-color="#6eff91"/><stop offset="0.048" stop-color="#97ff68"/><stop offset="0.065" stop-color="#b5ff4a"/><stop offset="0.081" stop-color="#cbff34"/><stop offset="0.113" stop-color="#e8ff17"/><stop offset="0.161" stop-color="#fffe00"/><stop offset="0.500" stop-color="#ffae00"/><stop offset="0.839" stop-color="#fffe00"/><stop offset="0.887" stop-color="#e8ff17"/><stop offset="0.919" stop-color="#cbff34"/><stop offset="0.935" stop-color="#b5ff4a"/><stop offset="0.952" stop-color="#97ff68"/><stop offset="0.968" stop-color="#6eff91"/><stop offset="0.984" stop-color="#35ffca"/><stop offset="1.000" stop-color="#00e5ff"/></linearGradient>
<linearGradient id="g193" x1="0" y1="0" x2="0" y2="1"><stop offset="0.000" stop-color="#00e5ff"/><stop offset="0.016" stop-color="#35ffca"/><stop offset="0.032" stop-color="#6eff91"/><stop offset="0.048" stop-color="#97ff68"/><stop offset="0.065" stop-color="#b5ff4a"/><stop offset="0.081" stop-color="#cbff34"/><stop offset="0.113" stop-color="#e8ff17"/><stop offset="0.161" stop-color="#fffe00"/><stop offset="0.500" stop-color="#ffaf00"/><stop offset="0.839" stop-color="#fffe00"/><stop offset="0.887" stop-color="#e8ff17"/><stop offset="0.919" stop-color="#cbff34"/><stop offset="0.935" stop-color="#b5ff4a"/><stop offset="0.952" stop-color="#97ff68"/><stop offset="0.968" stop-color="#6eff91"/><stop offset="0.984" stop-color="#35ffca"/><stop offset="1.000" stop-color="#00e5ff"/></linearGradient>
<linearGradient id="g194" x1="0" y1="0" x2="0" y2="1"><stop offset="0.000" stop-color="#00e5ff"/><stop offset="0.016" stop-color="#35ffca"/><stop offset="0.032" stop-color="#6eff91"/><stop offset="0.048" stop-color="#97ff68"/><stop offset="0.065" stop-color="#b5ff4a"/><stop offset="0.081" stop-color="#cbff34"/><stop offset="0.113" stop-color="#e8ff17"/><stop offset="0.161" stop-color="#fffe00"/><stop offset="0.500" stop-color="#ffaf00"/><stop offset="0.839" stop-color="#fffe00"/><stop offset="0.887" stop-color="#e8ff17"/><stop offset="0.919" stop-color="#cbff34"/><stop offset="0.935" stop-color="#b5ff4a"/><stop offset="0.952" stop-color="#97ff68"/><stop offset="0.968" stop-color="#6eff91"/><stop offset="0.984" stop-color="#35ffca"/><stop offset="1.000" stop-color="#00e5ff"/></linearGradient>
<linearGradient id="g195" x1="0" y1="0" x2="0" y2="1"><stop offset="0.000" stop-color="#00e5ff"/><stop offset="0.016" stop-color="#35ffca"/><stop offset="0.032" stop-color="#6eff91"/><stop offset="0.048" stop-color="#97ff68"/><stop offset="0.065" stop-color="#b5ff4a"/><stop offset="0.081" stop-color="#cbff34"/><stop offset="0.113" stop-color="#e8ff17"/><stop offset="0.161" stop-color="#fffe00"/><stop offset="0.500" stop-color="#ffaf00"/><stop offset="0.839" stop-color="#fffe00"/><stop offset="0.887" stop-color="#e8ff17"/><stop offset="0.919" stop-color="#cbff34"/><stop offset="0.935" stop-color="#b5ff4a"/><stop offset="0.952" stop-color="#97ff68"/><stop offset="0.968" stop-color="#6eff91"/><stop offset="0.984" stop-color="#35ffca"/><stop offset="1.000" stop-color="#00e5ff"/></linearGradient>
<linearGradient id="g196" x1="0" y1="0" x2="0" y2="1"><stop offset="0.000" stop-color="#00e5ff"/><stop offset="0.016" stop-color="#35ffca"/><stop offset="0.032" stop-color="#6eff91"/><stop offset="0.048" stop-color="#97ff68"/><stop offset="0.065" stop-color="#b5ff4a"/><stop offset="0.081" stop-color="#cbff34"/><stop offset="0.113" stop-color="#e8ff17"/><stop offset="0.161" stop-color="#ffff00"/><stop offset="0.500" stop-color="#ffaf00"/><stop offset="0.839" stop-color="#ffff00"/><stop offset="0.887" stop-color="#e8ff17"/><stop offset="0.919" stop-color="#cbff34"/><stop offset="0.935" stop-color="#b5ff4a"/><stop offset="0.952" stop-color="#97ff68"/><stop offset="0.968" stop-color="#6eff91"/><stop offset="0.984" stop-color="#35ffca"/><stop offset="1.000" stop-color="#00e5ff"/></linearGradient>
<linearGradient id="g197" x1="0" y1="0" x2="0" y2="1"><stop offset="0.000" stop-color="#00e5ff"/><stop offset="0.016" stop-color="#35ffca"/><stop offset="0.032" stop-color="#6eff91"/><stop offset="0.048" stop-color="#97ff68"/><stop offset="0.065" stop-color="#b5ff4a"/><stop offset="0.081" stop-color="#cbff34"/><stop offset="0.113" stop-color="#e8ff17"/><stop offset="0.161" stop-color="#ffff00"/><stop offset="0.500" stop-color="#ffb000"/><stop offset="0.839" stop-color="#ffff00"/><stop offset="0.887" stop-color="#e8ff17"/><stop offset="0.919" stop-color="#cbff34"/><stop offset="0.935" stop-color="#b5ff4a"/><stop offset="0.952" stop-color="#97ff68"/><stop offset="0.968" stop-color="#6eff91"/><stop offset="0.984" stop-color="#35ffca"/><stop offset="1.000" stop-color="#00e5ff"/></linearGradient>
<linearGradient id="g198" x1="0" y1="0" x2="0" y2="1"><stop offset="0.000" stop-color="#00e5ff"/><stop offset="0.016" stop-color="#35ffca"/><stop offset="0.032" stop-color="#6eff91"/><stop offset="0.048" stop-color="#97ff68"/><stop offset="0.065" stop-color="#b5ff4a"/><stop offset="0.081" stop-color="#cbff34"/><stop offset="0.113" stop-color="#e8ff17"/><stop offset="0.161" stop-color="#ffff00"/><stop offset="0.500" stop-color="#ffb000"/><stop offset="0.839" stop-color="#ffff00"/><stop offset="0.887" stop-color="#e8ff17"/><stop offset="0.919" stop-color="#cbff34"/><stop offset="0.935" stop-color="#b5ff4a"/><stop offset="0.952" stop-color="#97ff68"/><stop offset="0.968" stop-color="#6eff91"/><stop offset="0.984" stop-color="#35ffca"/><stop offset="1.000" stop-color="#00e5ff"/></linearGradient>
<linearGradient id="g199" x1="0" y1="0" x2="0" y2="1"><stop offset="0.000" stop-color="#00e5ff"/><stop offset="0.016" stop-color="#35ffca"/><stop offset="0.032" stop-color="#6eff91"/><stop offset="0.048" stop-color="#97ff68"/><stop offset="0.065" stop-color="#b5ff4a"/><stop offset="0.081" stop-color="#cbff34"/><stop offset="0.113" stop-color="#e8ff17"/><stop offset="0.161" stop-color="#ffff00"/><stop offset="0.500" stop-color="#ffb000"/><stop offset="0.839" stop-color="#ffff00"/><stop offset="0.887" stop-color="#e8ff17"/><stop offset="0.919" stop-color="#cbff34"/><stop offset="0.935" stop-color="#b5ff4a"/><stop offset="0.952" stop-color="#97ff68"/><stop offset="0.968" stop-color="#6eff91"/><stop offset="0.984" stop-color="#35ffca"/><stop offset="1.000" stop-color="#00e5ff"/></linearGradient>
<linearGradient id="g200" x1="0" y1="0" x2="0" y2="1"><stop offset="0.000" stop-color="#00e5ff"/><stop offset="0.016" stop-color="#35ffca"/><stop offset="0.032" stop-color="#6eff91"/><stop offset="0.048" stop-color="#97ff68"/><stop offset="0.065" stop-color="#b5ff4a"/><stop offset="0.081" stop-color="#cbff34"/><stop offset="0.113" stop-color="#e8ff17"/><stop offset="0.161" stop-color="#ffff00"/><stop offset="0.500" stop-color="#ffb000"/><stop offset="0.839" stop-color="#ffff00"/><stop offset="0.887" stop-color="#e8ff17"/><stop offset="0.919" stop-color="#cbff34"/><stop offset="0.935" stop-color="#b5ff4a"/><stop offset="0.952" stop-color="#97ff68"/><stop offset="0.968" stop-color="#6eff91"/><stop offset="0.984" stop-color="#35ffca"/><stop offset="1.000" stop-color="#00e5ff"/></linearGradient>
<linearGradient id="g201" x1="0" y1="0" x2="0" y2="1"><stop offset="0.000" stop-color="#00e5ff"/><stop offset="0.016" stop-color="#35ffca"/><stop offset="0.032" stop-color="#6eff91"/><stop offset="0.048" stop-color="#97ff68"/><stop offset="0.065" stop-color="#b5ff4a"/><stop offset="0.081" stop-color="#cbff34"/><stop offset="0.113" stop-color="#e8ff17"/><stop offset="0.161" stop-color="#ffff00"/><stop offset="0.500" stop-color="#ffb000"/><stop offset="0.839" stop-color="#ffff00"/><stop offset="0.887" stop-color="#e8ff17"/><stop offset="0.919" stop-color="#cbff34"/><stop offset="0.935" stop-color="#b5ff4a"/><stop offset="0.952" stop-color="#97ff68"/><stop offset="0.968" stop-color="#6eff91"/><stop offset="0.984" stop-color="#35ffca"/><stop offset="1.000" stop-color="#00e5ff"/></linearGradient>
<linearGradient id="g202" x1="0" y1="0" x2="0" y2="1"><stop offset="0.000" stop-color="#00e5ff"/><stop offset="0.016" stop-color="#35ffca"/><stop offset="0.032" stop-color="#6eff91"/><stop offset="0.048" stop-color="#97ff68"/><stop offset="0.065" stop-color="#b5ff4a"/><stop offset="0.081" stop-color="#cbff34"/><stop offset="0.113" stop-color="#e8ff17"/><stop offset="0.161" stop-color="#ffff00"/><stop offset="0.500" stop-color="#ffb000"/><stop offset="0.839" stop-color="#ffff00"/><stop offset="0.887" stop-color="#e8ff17"/><stop offset="0.919" stop-color="#cbff34"/><stop offset="0.935" stop-color="#b5ff4a"/><stop offset="0.952" stop-color="#97ff68"/><stop offset="0.968" stop-color="#6eff91"/><stop offset="0.984" stop-color="#35ffca"/><stop offset="1.000" stop-color="#00e5ff"/></linearGradient>
<linearGradient id="g203" x1="0" y1="0" x2="0" y2="1"><stop offset="0.000" stop-color="#00e5ff"/><stop offset="0.016" stop-color="#35ffca"/><stop offset="0.032" stop-color="#6eff91"/><stop offset="0.048" stop-color="#97ff68"/><stop offset="0.065" stop-color="#b5ff4a"/><stop offset="0.081" stop-color="#cbff34"/><stop offset="0.113" stop-color="#e8ff17"/><stop offset="0.161" stop-color="#ffff00"/><stop offset="0.500" stop-color="#ffb000"/><stop offset="0.839" stop-color="#ffff00"/><stop offset="0.887" stop-color="#e8ff17"/><stop offset="0.919" stop-color="#cbff34"/><stop offset="0.935" stop-color="#b5ff4a"/><stop offset="0.952" stop-color="#97ff68"/><stop offset="0.968" stop-color="#6eff91"/><stop offset="0.984" stop-color="#35ffca"/><stop offset="1.000" stop-color="#00e5ff"/></linearGradient>
<linearGradient id="g204" x1="0" y1="0" x2="0" y2="1"><stop offset="0.000" stop-color="#00e5ff"/><stop offset="0.016" stop-color="#35ffca"/><stop offset="0.032" stop-color="#6eff91"/><stop offset="0.048" stop-color="#97ff68"/><stop offset="0.065" stop-color="#b5ff4a"/><stop offset="0.081" stop-color="#cbff34"/><stop offset="0.113" stop-color="#e8ff17"/><stop offset="0.161" stop-color="#ffff00"/><stop offset="0.500" stop-color="#ffb000"/><stop offset="0.839" stop-color="#ffff00"/><stop offset="0.887" stop-color="#e8ff17"/><stop offset="0.919" stop-color="#cbff34"/><stop offset="0.935" stop-color="#b5ff4a"/><stop offset="0.952" stop-color="#97ff68"/><stop offset="0.968" stop-color="#6eff91"/><stop offset="0.984" stop-color="#35ffca"/><stop offset="1.000" stop-color="#00e5ff"/></linearGradient>
<linearGradient id="g205" x1="0" y1="0" x2="0" y2="1"><stop offset="0.000" stop-color="#00e5ff"/><stop offset="0.016" stop-color="#35ffca"/><stop offset="0.032" stop-color="#6eff91"/><stop offset="0.048" stop-color="#97ff68"/><stop offset="0.065" stop-color="#b5ff4a"/><stop offset="0.081" stop-color="#cbff34"/><stop offset="0.113" stop-color="#e8ff17"/><stop offset="0.161" stop-color="#ffff00"/><stop offset="0.500" stop-color="#ffb000"/><stop offset="0.839" stop-color="#ffff00"/><stop offset="0.887" stop-color="#e8ff17"/><stop offset="0.919" stop-color="#cbff34"/><stop offset="0.935" stop-color="#b5ff4a"/><stop offset="0.952" stop-color="#97ff68"/><stop offset="0.968" stop-color="#6eff91"/><stop offset="0.984" stop-color="#35ffca"/><stop offset="1.000" stop-color="#00e5ff"/></linearGradient>
<linearGradient id="g206" x1="0" y1="0" x2="0" y2="1"><stop offset="0.000" stop-color="#00e5ff"/><stop offset="0.016" stop-color="#35ffca"/><stop offset="0.032" stop-color="#6eff91"/><stop offset="0.048" stop-color="#97ff68"/><stop offset="0.065" stop-color="#b5ff4a"/><stop offset="0.081" stop-color="#cbff34"/><stop offset="0.113" stop-color="#e8ff17"/><stop offset="0.161" stop-color="#ffff00"/><stop offset="0.500" stop-color="#ffb000"/><stop offset="0.839" stop-color="#ffff00"/><stop offset="0.887" stop-color="#e8ff17"/><stop offset="0.919" stop-color="#cbff34"/><stop offset="0.935" stop-color="#b5ff4a"/><stop offset="0.952" stop-color="#97ff68"/><stop offset="0.968" stop-color="#6eff91"/><stop offset="0.984" stop-color="#35ffca"/><stop offset="1.000" stop-color="#00e5ff"/></linearGradient>
<linearGradient id="g207" x1="0" y1="0" x2="0" y2="1"><stop offset="0.000" stop-color="#00e5ff"/><stop offset="0.016" stop-color="#35ffca"/><stop offset="0.032" stop-color="#6eff91"/><stop offset="0.048" stop-color="#97ff68"/><stop offset="0.065" stop-color="#b5ff4a"/><stop offset="0.081" stop-color="#cbff34"/><stop offset="0.113" stop-color="#e8ff17"/><stop offset="0.161" stop-color="#ffff00"/><stop offset="0.500" stop-color="#ffb000"/><stop offset="0.839" stop-color="#ffff00"/><stop offset="0.887" stop-color="#e8ff17"/><stop offset="0.919" stop-color="#cbff34"/><stop offset="0.935" stop-color="#b5ff4a"/><stop offset="0.952" stop-color="#97ff68"/><stop offset="0.968" stop-color="#6eff91"/><stop offset="0.984" stop-color="#35ffca"/><stop offset="1.000" stop-color="#00e5ff"/></linearGradient>
<linearGradient id="g208" x1="0" y1="0" x2="0" y2="1"><stop offset="0.000" stop-color="#00e5ff"/><stop offset="0.016" stop-color="#35ffca"/><stop offset="0.032" stop-color="#6eff91"/><stop offset="0.048" stop-color="#97ff68"/><stop offset="0.065" stop-color="#b5ff4a"/><stop offset="0.081" stop-color="#cbff34"/><stop offset="0.113" stop-color="#e8ff17"/><stop offset="0.161" stop-color="#ffff00"/><stop offset="0.500" stop-color="#ffb000"/><stop offset="0.839" stop-color="#ffff00"/><stop offset="0.887" stop-color="#e8ff17"/><stop offset="0.919" stop-color="#cbff34"/><stop offset="0.935" stop-color="#b5ff4a"/><stop offset="0.952" stop-color="#97ff68"/><stop offset="0.968" stop-color="#6eff91"/><stop offset="0.984" stop-color="#35ffca"/><stop offset="1.000" stop-color="#00e5ff"/></linearGradient>
<linearGradient id="g209" x1="0" y1="0" x2="0" y2="1"><stop offset="0.000" stop-color="#00e5ff"/><stop offset="0.016" stop-color="#35ffca"/><stop offset="0.032" stop-color="#6eff91"/><stop offset="0.048" stop-color="#97ff68"/><stop offset="0.065" stop-color="#b5ff4a"/><stop offset="0.081" stop-color="#cbff34"/><stop offset="0.113" stop-color="#e8ff17"/><stop offset="0.161" stop-color="#ffff00"/><stop offset="0.500" stop-color="#ffb000"/><stop offset="0.839" stop-color="#ffff00"/><stop offset="0.887" stop-color="#e8ff17"/><stop offset="0.919" stop-color="#cbff34"/><stop offset="0.935" stop-color="#b5ff4a"/><stop offset="0.952" stop-color="#97ff68"/><stop offset="0.968" stop-color="#6eff91"/><stop offset="0.984" stop-color="#35ffca"/><stop offset="1.000" stop-color="#00e5ff"/></linearGradient>
<linearGradient id="g210" x1="0" y1="0" x2="0" y2="1"><stop offset="0.000" stop-color="#002aff"/><stop offset="0.120" stop-color="#0034ff"/><stop offset="0.176" stop-color="#0049ff"/><stop offset="0.192" stop-color="#005bff"/><stop offset="0.200" stop-color="#006dff"/><stop offset="0.208" stop-color="#008fff"/><stop offset="0.216" stop-color="#00dcff"/><stop offset="0.224" stop-color="#0cfff3"/><stop offset="0.240" stop-color="#49ffb6"/><stop offset="0.264" stop-color="#83ff7c"/><stop offset="0.320" stop-color="#e2ff1d"/><stop offset="0.344" stop-color="#fffc00"/><stop offset="0.360" stop-color="#ffef00"/><stop offset="0.496" stop-color="#ffbd00"/><stop offset="0.624" stop-color="#ffee00"/><stop offset="0.648" stop-color="#fbff04"/><stop offset="0.728" stop-color="#77ff88"/><stop offset="0.744" stop-color="#4effb1"/><stop offset="0.760" stop-color="#13ffec"/><stop offset="0.768" stop-color="#00edff"/><stop offset="0.776" stop-color="#0099ff"/><stop offset="0.784" stop-color="#0072ff"/><stop offset="0.792" stop-color="#005eff"/><stop offset="0.808" stop-color="#004aff"/><stop offset="0.864" stop-color="#0035ff"/><stop offset="1.000" stop-color="#0026ff"/></linearGradient>
<linearGradient id="g211" x1="0" y1="0" x2="0" y2="1"><stop offset="0.000" stop-color="#003fff"/><stop offset="0.072" stop-color="#0058ff"/><stop offset="0.120" stop-color="#0078ff"/><stop offset="0.152" stop-color="#00a5ff"/><stop offset="0.168" stop-color="#00cfff"/><stop offset="0.176" stop-color="#00f0ff"/><stop offset="0.184" stop-color="#06fff9"/><stop offset="0.224" stop-color="#58ffa7"/><stop offset="0.320" stop-color="#e5ff1a"/><stop offset="0.344" stop-color="#fffe00"/><stop offset="0.496" stop-color="#ffd000"/><stop offset="0.640" stop-color="#fffd00"/><stop offset="0.664" stop-color="#e7ff18"/><stop offset="0.760" stop-color="#5bffa4"/><stop offset="0.800" stop-color="#0bfff4"/><stop offset="0.808" stop-color="#00f5ff"/><stop offset="0.816" stop-color="#00d4ff"/><stop offset="0.832" stop-color="#00a8ff"/><stop offset="0.864" stop-color="#0079ff"/><stop offset="0.912" stop-color="#0059ff"/><stop offset="0.992" stop-color="#003cff"/><stop offset="1.000" stop-color="#0027ff"/></linearGradient>
<linearGradient id="g212" x1="0" y1="0" x2="0" y2="1"><stop offset="0.000" stop-color="#005eff"/><stop offset="0.080" stop-color="#00a0ff"/><stop offset="0.104" stop-color="#00c1ff"/><stop offset="0.112" stop-color="#00cfff"/><stop offset="0.120" stop-color="#00e7ff"/><stop offset="0.136" stop-color="#03fffc"/><stop offset="0.176" stop-color="#37ffc8"/><stop offset="0.240" stop-color="#73ff8c"/><stop offset="0.304" stop-color="#d1ff2e"/><stop offset="0.328" stop-color="#ecff13"/><stop offset="0.424" stop-color="#fffe00"/><stop offset="0.496" stop-color="#ffea00"/><stop offset="0.568" stop-color="#ffff00"/><stop offset="0.656" stop-color="#edff12"/><stop offset="0.680" stop-color="#d3ff2c"/><stop offset="0.744" stop-color="#75ff8a"/><stop offset="0.808" stop-color="#39ffc6"/><stop offset="0.848" stop-color="#05fffa"/><stop offset="0.864" stop-color="#00eaff"/><stop offset="0.880" stop-color="#00c3ff"/><stop offset="0.904" stop-color="#00a2ff"/><stop offset="0.992" stop-color="#0056ff"/><stop offset="1.000" stop-color="#0028ff"/></linearGradient>
<linearGradient id="g213" x1="0" y1="0" x2="0" y2="1"><stop offset="0.000" stop-color="#0085ff"/><stop offset="0.056" stop-color="#00cdff"/><stop offset="0.064" stop-color="#00d9ff"/><stop offset="0.072" stop-color="#00f0ff"/><stop offset="0.088" stop-color="#01fffe"/><stop offset="0.208" stop-color="#50ffaf"/><stop offset="0.288" stop-color="#bcff43"/><stop offset="0.312" stop-color="#d6ff29"/><stop offset="0.496" stop-color="#f3ff0c"/><stop offset="0.672" stop-color="#d7ff28"/><stop offset="0.696" stop-color="#bfff40"/><stop offset="0.776" stop-color="#52ffad"/><stop offset="0.896" stop-color="#02fffd"/><stop offset="0.912" stop-color="#00f2ff"/><stop offset="0.928" stop-color="#00cfff"/><stop offset="0.992" stop-color="#0079ff"/><stop offset="1.000" stop-color="#002aff"/></linearGradient>
<linearGradient id="g214" x1="0" y1="0" x2="0" y2="1"><stop offset="0.000" stop-color="#00b4ff"/><stop offset="0.016" stop-color="#00d2ff"/><stop offset="0.024" stop-color="#00efff"/><stop offset="0.056" stop-color="#02fffd"/><stop offset="0.168" stop-color="#2bffd4"/><stop offset="0.208" stop-color="#53ffac"/><stop offset="0.272" stop-color="#a8ff57"/><stop offset="0.296" stop-color="#bdff42"/><stop offset="0.496" stop-color="#cfff30"/><stop offset="0.584" stop-color="#c2ff3d"/><stop offset="0.688" stop-color="#beff41"/><stop offset="0.712" stop-color="#aaff55"/><stop offset="0.784" stop-color="#4bffb4"/><stop offset="0.816" stop-color="#2cffd3"/><stop offset="0.848" stop-color="#1bffe4"/><stop offset="0.936" stop-color="#00feff"/><stop offset="0.960" stop-color="#00f0ff"/><stop offset="0.968" stop-color="#00d5ff"/><stop offset="0.992" stop-color="#00a2ff"/><stop offset="1.000" stop-color="#002cff"/></linearGradient>
<linearGradient id="g215" x1="0" y1="0" x2="0" y2="1"><stop offset="0.000" stop-color="#00f0ff"/><stop offset="0.096" stop-color="#01fffe"/><stop offset="0.128" stop-color="#0cfff3"/><stop offset="0.168" stop-color="#2cffd3"/><stop offset="0.248" stop-color="#8aff75"/><stop offset="0.280" stop-color="#a2ff5d"/><stop offset="0.392" stop-color="#9fff60"/><stop offset="0.496" stop-color="#a7ff58"/><stop offset="0.600" stop-color="#9fff60"/><stop offset="0.704" stop-color="#a2ff5d"/><stop offset="0.736" stop-color="#8cff73"/><stop offset="0.808" stop-color="#36ffc9"/><stop offset="0.848" stop-color="#12ffed"/><stop offset="0.888" stop-color="#02fffd"/><stop offset="0.952" stop-color="#00f9ff"/><stop offset="0.984" stop-color="#00f0ff"/><stop offset="0.992" stop-color="#00d0ff"/><stop offset="1.000" stop-color="#002eff"/></linearGradient>
<linearGradient id="g216" x1="0" y1="0" x2="0" y2="1"><stop offset="0.000" stop-color="#00ecff"/><stop offset="0.080" stop-color="#00f1ff"/><stop offset="0.112" stop-color="#00ffff"/><stop offset="0.144" stop-color="#1affe5"/><stop offset="0.232" stop-color="#74ff8b"/><stop offset="0.272" stop-color="#86ff79"/><stop offset="0.400" stop-color="#7aff85"/><stop offset="0.608" stop-color="#7bff84"/><stop offset="0.720" stop-color="#86ff79"/><stop offset="0.760" stop-color="#6fff90"/><stop offset="0.872" stop-color="#01fffe"/><stop offset="0.912" stop-color="#00f0ff"/><stop offset="0.992" stop-color="#00ebff"/><stop offset="1.000" stop-color="#0030ff"/></linearGradient>
<linearGradient id="g217" x1="0" y1="0" x2="0" y2="1"><stop offset="0.000" stop-color="#00e6ff"/><stop offset="0.064" stop-color="#00e8ff"/><stop offset="0.104" stop-color="#00feff"/><stop offset="0.200" stop-color="#53ffac"/><stop offset="0.248" stop-color="#68ff97"/><stop offset="0.376" stop-color="#56ffa9"/><stop offset="0.544" stop-color="#54ffab"/><stop offset="0.640" stop-color="#59ffa6"/><stop offset="0.736" stop-color="#68ff97"/><stop offset="0.784" stop-color="#54ffab"/><stop offset="0.880" stop-color="#00ffff"/><stop offset="0.920" stop-color="#00e9ff"/><stop offset="0.992" stop-color="#00e6ff"/><stop offset="1.000" stop-color="#0033ff"/></linearGradient>
<linearGradient id="g218" x1="0" y1="0" x2="0" y2="1"><stop offset="0.000" stop-color="#00e7ff"/><stop offset="0.056" stop-color="#00e7ff"/><stop offset="0.096" stop-color="#00feff"/><stop offset="0.176" stop-color="#3cffc3"/><stop offset="0.232" stop-color="#4dffb2"/><stop offset="0.360" stop-color="#34ffcb"/><stop offset="0.496" stop-color="#2dffd2"/><stop offset="0.624" stop-color="#34ffcb"/><stop offset="0.768" stop-color="#4cffb3"/><stop offset="0.816" stop-color="#38ffc7"/><stop offset="0.888" stop-color="#00ffff"/><stop offset="0.928" stop-color="#00e7ff"/><stop offset="0.992" stop-color="#00e7ff"/><stop offset="1.000" stop-color="#0036ff"/></linearGradient>
<linearGradient id="g219" x1="0" y1="0" x2="0" y2="1"><stop offset="0.000" stop-color="#00f0ff"/><stop offset="0.056" stop-color="#00efff"/><stop offset="0.088" stop-color="#00fdff"/><stop offset="0.152" stop-color="#28ffd7"/><stop offset="0.208" stop-color="#35ffca"/><stop offset="0.352" stop-color="#14ffeb"/><stop offset="0.496" stop-color="#08fff7"/><stop offset="0.632" stop-color="#14ffeb"/><stop offset="0.784" stop-color="#35ffca"/><stop offset="0.832" stop-color="#29ffd6"/><stop offset="0.896" stop-color="#00feff"/><stop offset="0.928" stop-color="#00efff"/><stop offset="0.992" stop-color="#00f0ff"/><stop offset="1.000" stop-color="#0039ff"/></linearGradient>
<linearGradient id="g220" x1="0" y1="0" x2="0" y2="1"><stop offset="0.000" stop-color="#06fff9"/><stop offset="0.072" stop-color="#01fffe"/><stop offset="0.136" stop-color="#1cffe3"/><stop offset="0.176" stop-color="#24ffdb"/><stop offset="0.312" stop-color="#00ffff"/><stop offset="0.496" stop-color="#00e7ff"/><stop offset="0.672" stop-color="#00ffff"/><stop offset="0.808" stop-color="#24ffdb"/><stop offset="0.848" stop-color="#1dffe2"/><stop offset="0.920" stop-color="#00feff"/><stop offset="0.992" stop-color="#06fff9"/><stop offset="1.000" stop-color="#003cff"/></linearGradient>
<linearGradient id="g221" x1="0" y1="0" x2="0" y2="1"><stop offset="0.000" stop-color="#24ffdb"/><stop offset="0.064" stop-color="#10ffef"/><stop offset="0.168" stop-color="#1affe5"/><stop offset="0.240" stop-color="#02fffd"/><stop offset="0.360" stop-color="#00deff"/><stop offset="0.496" stop-color="#00ccff"/><stop offset="0.632" stop-color="#00dfff"/><stop offset="0.744" stop-color="#01fffe"/><stop offset="0.816" stop-color="#19ffe6"/><stop offset="0.928" stop-color="#10ffef"/><stop offset="0.992" stop-color="#26ffd9"/><stop offset="1.000" stop-color="#003fff"/></linearGradient>
<linearGradient id="g222" x1="0" y1="0" x2="0" y2="1"><stop offset="0.000" stop-color="#47ffb8"/><stop offset="0.064" stop-color="#23ffdc"/><stop offset="0.152" stop-color="#18ffe7"/><stop offset="0.216" stop-color="#00ffff"/><stop offset="0.336" stop-color="#00d3ff"/><stop offset="0.496" stop-color="#00b9ff"/><stop offset="0.648" stop-color="#00d2ff"/><stop offset="0.768" stop-color="#00feff"/><stop offset="0.832" stop-color="#17ffe8"/><stop offset="0.928" stop-color="#25ffda"/><stop offset="0.992" stop-color="#4bffb4"/><stop offset="1.000" stop-color="#0043ff"/></linearGradient>
<linearGradient id="g223" x1="0" y1="0" x2="0" y2="1"><stop offset="0.000" stop-color="#68ff97"/><stop offset="0.064" stop-color="#36ffc9"/><stop offset="0.208" stop-color="#00feff"/><stop offset="0.336" stop-color="#00cbff"/><stop offset="0.496" stop-color="#00afff"/><stop offset="0.656" stop-color="#00ccff"/><stop offset="0.776" stop-color="#00fdff"/><stop offset="0.920" stop-color="#35ffca"/><stop offset="0.992" stop-color="#6fff90"/><stop offset="1.000" stop-color="#0047ff"/></linearGradient>
<linearGradient id="g224" x1="0" y1="0" x2="0" y2="1"><stop offset="0.000" stop-color="#87ff78"/><stop offset="0.072" stop-color="#43ffbc"/><stop offset="0.208" stop-color="#00feff"/><stop offset="0.336" stop-color="#00caff"/><stop offset="0.496" stop-color="#00adff"/><stop offset="0.656" stop-color="#00ccff"/><stop offset="0.776" stop-color="#00fdff"/><stop offset="0.920" stop-color="#47ffb8"/><stop offset="0.992" stop-color="#8fff70"/><stop offset="1.000" stop-color="#004aff"/></linearGradient>
<linearGradient id="g225" x1="0" y1="0" x2="0" y2="1"><stop offset="0.000" stop-color="#a1ff5e"/><stop offset="0.072" stop-color="#51ffae"/><stop offset="0.208" stop-color="#00feff"/><stop offset="0.336" stop-color="#00caff"/><stop offset="0.496" stop-color="#00adff"/><stop offset="0.656" stop-color="#00ccff"/><stop offset="0.776" stop-color="#00fdff"/><stop offset="0.912" stop-color="#50ffaf"/><stop offset="0.952" stop-color="#77ff88"/><stop offset="0.992" stop-color="#aaff55"/><stop offset="1.000" stop-color="#004fff"/></linearGradient>
<linearGradient id="g226" x1="0" y1="0" x2="0" y2="1"><stop offset="0.000" stop-color="#b7ff48"/><stop offset="0.040" stop-color="#7fff80"/><stop offset="0.080" stop-color="#55ffaa"/><stop offset="0.136" stop-color="#2bffd4"/><stop offset="0.208" stop-color="#00feff"/><stop offset="0.336" stop-color="#00caff"/><stop offset="0.496" stop-color="#00adff"/><stop offset="0.656" stop-color="#00ccff"/><stop offset="0.776" stop-color="#00fdff"/><stop offset="0.840" stop-color="#25ffda"/><stop offset="0.904" stop-color="#54ffab"/><stop offset="0.944" stop-color="#7dff82"/><stop offset="0.992" stop-color="#c1ff3e"/><stop offset="1.000" stop-color="#0053ff"/></linearGradient>
<linearGradient id="g227" x1="0" y1="0" x2="0" y2="1"><stop offset="0.000" stop-color="#c6ff39"/><stop offset="0.048" stop-color="#81ff7e"/><stop offset="0.088" stop-color="#55ffaa"/><stop offset="0.144" stop-color="#28ffd7"/><stop offset="0.208" stop-color="#00feff"/><stop offset="0.336" stop-color="#00caff"/><stop offset="0.496" stop-color="#00adff"/><stop offset="0.656" stop-color="#00ccff"/><stop offset="0.776" stop-color="#00fdff"/><stop offset="0.840" stop-color="#27ffd8"/><stop offset="0.904" stop-color="#5bffa4"/><stop offset="0.944" stop-color="#89ff76"/><stop offset="0.992" stop-color="#d1ff2e"/><stop offset="1.000" stop-color="#0057ff"/></linearGradient>
<linearGradient id="g228" x1="0" y1="0" x2="0" y2="1"><stop offset="0.000" stop-color="#d2ff2d"/><stop offset="0.040" stop-color="#93ff6c"/><stop offset="0.088" stop-color="#5affa5"/><stop offset="0.144" stop-color="#29ffd6"/><stop offset="0.208" stop-color="#00feff"/><stop offset="0.336" stop-color="#00caff"/><stop offset="0.496" stop-color="#00adff"/><stop offset="0.656" stop-color="#00ccff"/><stop offset="0.776" stop-color="#00fdff"/><stop offset="0.832" stop-color="#22ffdd"/><stop offset="0.896" stop-color="#59ffa6"/><stop offset="0.944" stop-color="#91ff6e"/><stop offset="0.992" stop-color="#ddff22"/><stop offset="1.000" stop-color="#005cff"/></linearGradient>
<linearGradient id="g229" x1="0" y1="0" x2="0" y2="1"><stop offset="0.000" stop-color="#d9ff26"/><stop offset="0.040" stop-color="#99ff66"/><stop offset="0.088" stop-color="#5dffa2"/><stop offset="0.144" stop-color="#2affd5"/><stop offset="0.208" stop-color="#00feff"/><stop offset="0.336" stop-color="#00caff"/><stop offset="0.496" stop-color="#00adff"/><stop offset="0.656" stop-color="#00ccff"/><stop offset="0.776" stop-color="#00fdff"/><stop offset="0.832" stop-color="#23ffdc"/><stop offset="0.896" stop-color="#5cffa3"/><stop offset="0.944" stop-color="#97ff68"/><stop offset="0.992" stop-color="#e5ff1a"/><stop offset="1.000" stop-color="#0060ff"/></linearGradient>
<linearGradient id="g230" x1="0" y1="0" x2="0" y2="1"><stop offset="0.000" stop-color="#deff21"/><stop offset="0.048" stop-color="#91ff6e"/><stop offset="0.096" stop-color="#57ffa8"/><stop offset="0.152" stop-color="#24ffdb"/><stop offset="0.208" stop-color="#00feff"/><stop offset="0.336" stop-color="#00caff"/><stop offset="0.496" stop-color="#00adff"/><stop offset="0.656" stop-color="#00ccff"/><stop offset="0.776" stop-color="#00fdff"/><stop offset="0.840" stop-color="#29ffd6"/><stop offset="0.896" stop-color="#5effa1"/><stop offset="0.944" stop-color="#9aff65"/><stop offset="0.992" stop-color="#eaff15"/><stop offset="1.000" stop-color="#0065ff"/></linearGradient>
<linearGradient id="g231" x1="0" y1="0" x2="0" y2="1"><stop offset="0.000" stop-color="#e1ff1e"/><stop offset="0.048" stop-color="#93ff6c"/><stop offset="0.096" stop-color="#58ffa7"/><stop offset="0.152" stop-color="#25ffda"/><stop offset="0.208" stop-color="#00feff"/><stop offset="0.336" stop-color="#00caff"/><stop offset="0.496" stop-color="#00adff"/><stop offset="0.656" stop-color="#00ccff"/><stop offset="0.776" stop-color="#00fdff"/><stop offset="0.840" stop-color="#2affd5"/><stop offset="0.896" stop-color="#5fffa0"/><stop offset="0.944" stop-color="#9cff63"/><stop offset="0.992" stop-color="#edff12"/><stop offset="1.000" stop-color="#006aff"/></linearGradient>
<linearGradient id="g232" x1="0" y1="0" x2="0" y2="1"><stop offset="0.000" stop-color="#e3ff1c"/><stop offset="0.048" stop-color="#94ff6b"/><stop offset="0.096" stop-color="#59ffa6"/><stop offset="0.152" stop-color="#25ffda"/><stop offset="0.208" stop-color="#00feff"/><stop offset="0.336" stop-color="#00caff"/><stop offset="0.496" stop-color="#00adff"/><stop offset="0.656" stop-color="#00ccff"/><stop offset="0.776" stop-color="#00fdff"/><stop offset="0.840" stop-color="#2affd5"/><stop offset="0.896" stop-color="#60ff9f"/><stop offset="0.944" stop-color="#9dff62"/><stop offset="0.992" stop-color="#efff10"/><stop offset="1.000" stop-color="#006fff"/></linearGradient>
<linearGradient id="g233" x1="0" y1="0" x2="0" y2="1"><stop offset="0.000" stop-color="#e4ff1b"/><stop offset="0.048" stop-color="#95ff6a"/><stop offset="0.096" stop-color="#59ffa6"/><stop offset="0.152" stop-color="#25ffda"/><stop offset="0.208" stop-color="#00feff"/><stop offset="0.336" stop-color="#00caff"/><stop offset="0.496" stop-color="#00adff"/><stop offset="0.656" stop-color="#00ccff"/><stop offset="0.776" stop-color="#00fdff"/><stop offset="0.840" stop-color="#2affd5"/><stop offset="0.896" stop-color="#60ff9f"/><stop offset="0.944" stop-color="#9eff61"/><stop offset="0.992" stop-color="#f0ff0f"/><stop offset="1.000" stop-color="#0075ff"/></linearGradient>
<linearGradient id="g234" x1="0" y1="0" x2="0" y2="1"><stop offset="0.000" stop-color="#e4ff1b"/><stop offset="0.048" stop-color="#95ff6a"/><stop offset="0.096" stop-color="#59ffa6"/><stop offset="0.152" stop-color="#25ffda"/><stop offset="0.208" stop-color="#00feff"/><stop offset="0.336" stop-color="#00caff"/><stop offset="0.496" stop-color="#00adff"/><stop offset="0.656" stop-color="#00ccff"/><stop offset="0.776" stop-color="#00fdff"/><stop offset="0.840" stop-color="#2affd5"/><stop offset="0.896" stop-color="#60ff9f"/><stop offset="0.944" stop-color="#9eff61"/><stop offset="0.992" stop-color="#f0ff0f"/><stop offset="1.000" stop-color="#007aff"/></linearGradient>
<linearGradient id="g235" x1="0" y1="0" x2="0" y2="1"><stop offset="0.000" stop-color="#e4ff1b"/><stop offset="0.048" stop-color="#95ff6a"/><stop offset="0.096" stop-color="#59ffa6"/><stop offset="0.152" stop-color="#25ffda"/><stop offset="0.208" stop-color="#00feff"/><stop offset="0.336" stop-color="#00caff"/><stop offset="0.496" stop-color="#00adff"/><stop offset="0.656" stop-color="#00ccff"/><stop offset="0.776" stop-color="#00fdff"/><stop offset="0.840" stop-color="#2affd5"/><stop offset="0.896" stop-color="#60ff9f"/><stop offset="0.944" stop-color="#9fff60"/><stop offset="0.992" stop-color="#f0ff0f"/><stop offset="1.000" stop-color="#0080ff"/></linearGradient>
<linearGradient id="g236" x1="0" y1="0" x2="0" y2="1"><stop offset="0.000" stop-color="#e4ff1b"/><stop offset="0.048" stop-color="#95ff6a"/><stop offset="0.096" stop-color="#59ffa6"/><stop offset="0.152" stop-color="#25ffda"/><stop offset="0.208" stop-color="#00feff"/><stop offset="0.336" stop-color="#00caff"/><stop offset="0.496" stop-color="#00adff"/><stop offset="0.656" stop-color="#00ccff"/><stop offset="0.776" stop-color="#00fdff"/><stop offset="0.840" stop-color="#2affd5"/><stop offset="0.896" stop-color="#60ff9f"/><stop offset="0.944" stop-color="#9fff60"/><stop offset="0.992" stop-color="#f1ff0e"/><stop offset="1.000" stop-color="#0085ff"/></linearGradient>
<linearGradient id="g237" x1="0" y1="0" x2="0" y2="1"><stop offset="0.000" stop-color="#e4ff1b"/><stop offset="0.048" stop-color="#95ff6a"/><stop offset="0.096" stop-color="#59ffa6"/><stop offset="0.152" stop-color="#25ffda"/><stop offset="0.208" stop-color="#00feff"/><stop offset="0.336" stop-color="#00caff"/><stop offset="0.496" stop-color="#00adff"/><stop offset="0.656" stop-color="#00ccff"/><stop offset="0.776" stop-color="#00fdff"/><stop offset="0.840" stop-color="#2affd5"/><stop offset="0.896" stop-color="#60ff9f"/><stop offset="0.944" stop-color="#9fff60"/><stop offset="0.992" stop-color="#f1ff0e"/><stop offset="1.000" stop-color="#008bff"/></linearGradient>
<linearGradient id="g238" x1="0" y1="0" x2="0" y2="1"><stop offset="0.000" stop-color="#e4ff1b"/><stop offset="0.048" stop-color="#95ff6a"/><stop offset="0.096" stop-color="#59ffa6"/><stop offset="0.152" stop-color="#25ffda"/><stop offset="0.208" stop-color="#00feff"/><stop offset="0.336" stop-color="#00caff"/><stop offset="0.496" stop-color="#00adff"/><stop offset="0.656" stop-color="#00ccff"/><stop offset="0.776" stop-color="#00fdff"/><stop offset="0.840" stop-color="#2affd5"/><stop offset="0.896" stop-color="#60ff9f"/><stop offset="0.944" stop-color="#9fff60"/><stop offset="0.992" stop-color="#f1ff0e"/><stop offset="1.000" stop-color="#0091ff"/></linearGradient>
<linearGradient id="g239" x1="0" y1="0" x2="0" y2="1"><stop offset="0.000" stop-color="#e4ff1b"/><stop offset="0.048" stop-color="#95ff6a"/><stop offset="0.096" stop-color="#59ffa6"/><stop offset="0.152" stop-color="#25ffda"/><stop offset="0.208" stop-color="#00feff"/><stop offset="0.336" stop-color="#00caff"/><stop offset="0.496" stop-color="#00adff"/><stop offset="0.656" stop-color="#00ccff"/><stop offset="0.776" stop-color="#00fdff"/><stop offset="0.840" stop-color="#2affd5"/><stop offset="0.896" stop-color="#60ff9f"/><stop offset="0.944" stop-color="#9fff60"/><stop offset="0.992" stop-color="#f1ff0e"/><stop offset="1.000" stop-color="#0097ff"/></linearGradient>
<linearGradient id="g240" x1="0" y1="0" x2="0" y2="1"><stop offset="0.000" stop-color="#e4ff1b"/><stop offset="0.048" stop-color="#95ff6a"/><stop offset="0.096" stop-color="#59ffa6"/><stop offset="0.152" stop-color="#25ffda"/><stop offset="0.208" stop-color="#00feff"/><stop offset="0.336" stop-color="#00caff"/><stop offset="0.496" stop-color="#00adff"/><stop offset="0.656" stop-color="#00ccff"/><stop offset="0.776" stop-color="#00fdff"/><stop offset="0.840" stop-color="#2affd5"/><stop offset="0.896" stop-color="#60ff9f"/><stop offset="0.944" stop-color="#9fff60"/><stop offset="0.992" stop-color="#f1ff0e"/><stop offset="1.000" stop-color="#009dff"/></linearGradient>
<linearGradient id="g241" x1="0" y1="0" x2="0" y2="1"><stop offset="0.000" stop-color="#e4ff1b"/><stop offset="0.048" stop-color="#95ff6a"/><stop offset="0.096" stop-color="#59ffa6"/><stop offset="0.152" stop-color="#25ffda"/><stop offset="0.208" stop-color="#00feff"/><stop offset="0.336" stop-color="#00caff"/><stop offset="0.496" stop-color="#00adff"/><stop offset="0.656" stop-color="#00ccff"/><stop offset="0.776" stop-color="#00fdff"/><stop offset="0.840" stop-color="#2affd5"/><stop offset="0.896" stop-color="#60ff9f"/><stop offset="0.944" stop-color="#9fff60"/><stop offset="0.992" stop-color="#f1ff0e"/><stop offset="1.000" stop-color="#00a4ff"/></linearGradient>
<linearGradient id="g242" x1="0" y1="0" x2="0" y2="1"><stop offset="0.000" stop-color="#e4ff1b"/><stop offset="0.048" stop-color="#95ff6a"/><stop offset="0.096" stop-color="#59ffa6"/><stop offset="0.152" stop-color="#25ffda"/><stop offset="0.208" stop-color="#00feff"/><stop offset="0.336" stop-color="#00caff"/><stop offset="0.496" stop-color="#00adff"/><stop offset="0.656" stop-color="#00ccff"/><stop offset="0.776" stop-color="#00fdff"/><stop offset="0.840" stop-color="#2affd5"/><stop offset="0.896" stop-color="#60ff9f"/><stop offset="0.944" stop-color="#9fff60"/><stop offset="0.992" stop-color="#f1ff0e"/><stop offset="1.000" stop-color="#00aaff"/></linearGradient>
<linearGradient id="g243" x1="0" y1="0" x2="0" y2="1"><stop offset="0.000" stop-color="#e4ff1b"/><stop offset="0.048" stop-color="#95ff6a"/><stop offset="0.096" stop-color="#59ffa6"/><stop offset="0.152" stop-color="#25ffda"/><stop offset="0.208" stop-color="#00feff"/><stop offset="0.336" stop-color="#00caff"/><stop offset="0.496" stop-color="#00adff"/><stop offset="0.656" stop-color="#00ccff"/><stop offset="0.776" stop-color="#00fdff"/><stop offset="0.840" stop-color="#2affd5"/><stop offset="0.896" stop-color="#60ff9f"/><stop offset="0.944" stop-color="#9fff60"/><stop offset="0.992" stop-color="#f1ff0e"/><stop offset="1.000" stop-color="#00b0ff"/></linearGradient>
<linearGradient id="g244" x1="0" y1="0" x2="0" y2="1"><stop offset="0.000" stop-color="#e4ff1b"/><stop offset="0.048" stop-color="#95ff6a"/><stop offset="0.096" stop-color="#59ffa6"/><stop offset="0.152" stop-color="#25ffda"/><stop offset="0.208" stop-color="#00feff"/><stop offset="0.336" stop-color="#00caff"/><stop offset="0.496" stop-color="#00adff"/><stop offset="0.656" stop-color="#00ccff"/><stop offset="0.776" stop-color="#00fdff"/><stop offset="0.840" stop-color="#2affd5"/><stop offset="0.896" stop-color="#60ff9f"/><stop offset="0.944" stop-color="#9fff60"/><stop offset="0.992" stop-color="#f1ff0e"/><stop offset="1.000" stop-color="#00b7ff"/></linearGradient>
<linearGradient id="g245" x1="0" y1="0" x2="0" y2="1"><stop offset="0.000" stop-color="#e4ff1b"/><stop offset="0.048" stop-color="#95ff6a"/><stop offset="0.096" stop-color="#59ffa6"/><stop offset="0.152" stop-color="#25ffda"/><stop offset="0.208" stop-color="#00feff"/><stop offset="0.336" stop-color="#00caff"/><stop offset="0.496" stop-color="#00adff"/><stop offset="0.656" stop-color="#00ccff"/><stop offset="0.776" stop-color="#00fdff"/><stop offset="0.840" stop-color="#2affd5"/><stop offset="0.896" stop-color="#60ff9f"/><stop offset="0.944" stop-color="#9fff60"/><stop offset="0.992" stop-color="#f1ff0e"/><stop offset="1.000" stop-color="#00beff"/></linearGradient>
<linearGradient id="g246" x1="0" y1="0" x2="0" y2="1"><stop offset="0.000" stop-color="#e4ff1b"/><stop offset="0.048" stop-color="#95ff6a"/><stop offset="0.096" stop-color="#59ffa6"/><stop offset="0.152" stop-color="#25ffda"/><stop offset="0.208" stop-color="#00feff"/><stop offset="0.336" stop-color="#00caff"/><stop offset="0.496" stop-color="#00adff"/><stop offset="0.656" stop-color="#00ccff"/><stop offset="0.776" stop-color="#00fdff"/><stop offset="0.840" stop-color="#2affd5"/><stop offset="0.896" stop-color="#60ff9f"/><stop offset="0.944" stop-color="#9fff60"/><stop offset="0.992" stop-color="#f1ff0e"/><stop offset="1.000" stop-color="#00c5ff"/></linearGradient>
<linearGradient id="g247" x1="0" y1="0" x2="0" y2="1"><stop offset="0.000" stop-color="#e4ff1b"/><stop offset="0.048" stop-color="#95ff6a"/><stop offset="0.096" stop-color="#59ffa6"/><stop offset="0.152" stop-color="#25ffda"/><stop offset="0.208" stop-color="#00feff"/><stop offset="0.336" stop-color="#00caff"/><stop offset="0.496" stop-color="#00adff"/><stop offset="0.656" stop-color="#00ccff"/><stop offset="0.776" stop-color="#00fdff"/><stop offset="0.840" stop-color="#2affd5"/><stop offset="0.896" stop-color="#60ff9f"/><stop offset="0.944" stop-color="#9fff60"/><stop offset="0.992" stop-color="#f1ff0e"/><stop offset="1.000" stop-color="#00ccff"/></linearGradient>
<linearGradient id="g248" x1="0" y1="0" x2="0" y2="1"><stop offset="0.000" stop-color="#e4ff1b"/><stop offset="0.048" stop-color="#95ff6a"/><stop offset="0.096" stop-color="#59ffa6"/><stop offset="0.152" stop-color="#25ffda"/><stop offset="0.208" stop-color="#00feff"/><stop offset="0.336" stop-color="#00caff"/><stop offset="0.496" stop-color="#00adff"/><stop offset="0.656" stop-color="#00ccff"/><stop offset="0.776" stop-color="#00fdff"/><stop offset="0.840" stop-color="#2affd5"/><stop offset="0.896" stop-color="#60ff9f"/><stop offset="0.944" stop-color="#9fff60"/><stop offset="0.992" stop-color="#f1ff0e"/><stop offset="1.000" stop-color="#00d3ff"/></linearGradient>
<linearGradient id="g249" x1="0" y1="0" x2="0" y2="1"><stop offset="0.000" stop-color="#e4ff1b"/><stop offset="0.048" stop-color="#95ff6a"/><stop offset="0.096" stop-color="#59ffa6"/><stop offset="0.152" stop-color="#25ffda"/><stop offset="0.208" stop-color="#00feff"/><stop offset="0.336" stop-color="#00caff"/><stop offset="0.496" stop-color="#00adff"/><stop offset="0.656" stop-color="#00ccff"/><stop offset="0.776" stop-color="#00fdff"/><stop offset="0.840" stop-color="#2affd5"/><stop offset="0.896" stop-color="#60ff9f"/><stop offset="0.944" stop-color="#9fff60"/><stop offset="0.992" stop-color="#f1ff0e"/><stop offset="1.000" stop-color="#00daff"/></linearGradient>
<linearGradient id="g250" x1="0" y1="0" x2="0" y2="1"><stop offset="0.000" stop-color="#e4ff1b"/><stop offset="0.048" stop-color="#95ff6a"/><stop offset="0.096" stop-color="#59ffa6"/><stop offset="0.152" stop-color="#25ffda"/><stop offset="0.208" stop-color="#00feff"/><stop offset="0.336" stop-color="#00caff"/><stop offset="0.496" stop-color="#00adff"/><stop offset="0.656" stop-color="#00ccff"/><stop offset="0.776" stop-color="#00fdff"/><stop offset="0.840" stop-color="#2affd5"/><stop offset="0.896" stop-color="#60ff9f"/><stop offset="0.944" stop-color="#9fff60"/><stop offset="0.992" stop-color="#f1ff0e"/><stop offset="1.000" stop-color="#00deff"/></linearGradient>
<linearGradient id="g251" x1="0" y1="0" x2="0" y2="1"><stop offset="0.000" stop-color="#e4ff1b"/><stop offset="0.048" stop-color="#95ff6a"/><stop offset="0.096" stop-color="#59ffa6"/><stop offset="0.152" stop-color="#25ffda"/><stop offset="0.208" stop-color="#00feff"/><stop offset="0.336" stop-color="#00caff"/><stop offset="0.496" stop-color="#00adff"/><stop offset="0.656" stop-color="#00ccff"/><stop offset="0.776" stop-color="#00fdff"/><stop offset="0.840" stop-color="#2affd5"/><stop offset="0.896" stop-color="#60ff9f"/><stop offset="0.944" stop-color="#9fff60"/><stop offset="0.992" stop-color="#f1ff0e"/><stop offset="1.000" stop-color="#00deff"/></linearGradient>
<linearGradient id="g252" x1="0" y1="0" x2="0" y2="1"><stop offset="0.000" stop-color="#e4ff1b"/><stop offset="0.048" stop-color="#95ff6a"/><stop offset="0.096" stop-color="#59ffa6"/><stop offset="0.152" stop-color="#25ffda"/><stop offset="0.208" stop-color="#00feff"/><stop offset="0.336" stop-color="#00caff"/><stop offset="0.496" stop-color="#00adff"/><stop offset="0.656" stop-color="#00ccff"/><stop offset="0.776" stop-color="#00fdff"/><stop offset="0.840" stop-color="#2affd5"/><stop offset="0.896" stop-color="#60ff9f"/><stop offset="0.944" stop-color="#9fff60"/><stop offset="0.992" stop-color="#f1ff0e"/><stop offset="1.000" stop-color="#00deff"/></linearGradient>
<linearGradient id="g253" x1="0" y1="0" x2="0" y2="1"><stop offset="0.000" stop-color="#e4ff1b"/><stop offset="0.048" stop-color="#95ff6a"/><stop offset="0.096" stop-color="#59ffa6"/><stop offset="0.152" stop-color="#25ffda"/><stop offset="0.208" stop-color="#00feff"/><stop offset="0.336" stop-color="#00caff"/><stop offset="0.496" stop-color="#00adff"/><stop offset="0.656" stop-color="#00ccff"/><stop offset="0.776" stop-color="#00fdff"/><stop offset="0.840" stop-color="#2affd5"/><stop offset="0.896" stop-color="#60ff9f"/><stop offset="0.944" stop-color="#9fff60"/><stop offset="0.992" stop-color="#f1ff0e"/><stop offset="1.000" stop-color="#00deff"/></linearGradient>
<linearGradient id="g254" x1="0" y1="0" x2="0" y2="1"><stop offset="0.000" stop-color="#e4ff1b"/><stop offset="0.048" stop-color="#95ff6a"/><stop offset="0.096" stop-color="#59ffa6"/><stop offset="0.152" stop-color="#25ffda"/><stop offset="0.208" stop-color="#00feff"/><stop offset="0.336" stop-color="#00caff"/><stop offset="0.496" stop-color="#00adff"/><stop offset="0.656" stop-color="#00ccff"/><stop offset="0.776" stop-color="#00fdff"/><stop offset="0.840" stop-color="#2affd5"/><stop offset="0.896" stop-color="#60ff9f"/><stop offset="0.944" stop-color="#9fff60"/><stop offset="0.992" stop-color="#f1ff0e"/><stop offset="1.000" stop-color="#00deff"/></linearGradient>
<linearGradient id="g255" x1="0" y1="0" x2="0" y2="1"><stop offset="0.000" stop-color="#e4ff1b"/><stop offset="0.048" stop-color="#95ff6a"/><stop offset="0.096" stop-color="#59ffa6"/><stop offset="0.152" stop-color="#25ffda"/><stop offset="0.208" stop-color="#00feff"/><stop offset="0.336" stop-color="#00caff"/><stop offset="0.496" stop-color="#00adff"/><stop offset="0.656" stop-color="#00ccff"/><stop offset="0.776" stop-color="#00fdff"/><stop offset="0.840" stop-color="#2affd5"/><stop offset="0.896" stop-color="#60ff9f"/><stop offset="0.944" stop-color="#9fff60"/><stop offset="0.992" stop-color="#f1ff0e"/><stop offset="1.000" stop-color="#00deff"/></linearGradient>
<linearGradient id="g256" x1="0" y1="0" x2="0" y2="1"><stop offset="0.000" stop-color="#e4ff1b"/><stop offset="0.048" stop-color="#95ff6a"/><stop offset="0.096" stop-color="#59ffa6"/><stop offset="0.152" stop-color="#25ffda"/><stop offset="0.208" stop-color="#00feff"/><stop offset="0.336" stop-color="#00caff"/><stop offset="0.496" stop-color="#00adff"/><stop offset="0.656" stop-color="#00ccff"/><stop offset="0.776" stop-color="#00fdff"/><stop offset="0.840" stop-color="#2affd5"/><stop offset="0.896" stop-color="#60ff9f"/><stop offset="0.944" stop-color="#9fff60"/><stop offset="0.992" stop-color="#f1ff0e"/><stop offset="1.000" stop-color="#00deff"/></linearGradient>
<linearGradient id="g257" x1="0" y1="0" x2="0" y2="1"><stop offset="0.000" stop-color="#e4ff1b"/><stop offset="0.048" stop-color="#95ff6a"/><stop offset="0.096" stop-color="#59ffa6"/><stop offset="0.152" stop-color="#25ffda"/><stop offset="0.208" stop-color="#00feff"/><stop offset="0.336" stop-color="#00caff"/><stop offset="0.496" stop-color="#00adff"/><stop offset="0.656" stop-color="#00ccff"/><stop offset="0.776" stop-color="#00fdff"/><stop offset="0.840" stop-color="#2affd5"/><stop offset="0.896" stop-color="#60ff9f"/><stop offset="0.944" stop-color="#9fff60"/><stop offset="0.992" stop-color="#f1ff0e"/><stop offset="1.000" stop-color="#00deff"/></linearGradient>
<linearGradient id="g258" x1="0" y1="0" x2="0" y2="1"><stop offset="0.000" stop-color="#e4ff1b"/><stop offset="0.048" stop-color="#95ff6a"/><stop offset="0.096" stop-color="#59ffa6"/><stop offset="0.152" stop-color="#25ffda"/><stop offset="0.208" stop-color="#00feff"/><stop offset="0.336" stop-color="#00caff"/><stop offset="0.496" stop-color="#00adff"/><stop offset="0.656" stop-color="#00ccff"/><stop offset="0.776" stop-color="#00fdff"/><stop offset="0.840" stop-color="#2affd5"/><stop offset="0.896" stop-color="#60ff9f"/><stop offset="0.944" stop-color="#9fff60"/><stop offset="0.992" stop-color="#f1ff0e"/><stop offset="1.000" stop-color="#00deff"/></linearGradient>
<linearGradient id="g259" x1="0" y1="0" x2="0" y2="1"><stop offset="0.000" stop-color="#e4ff1b"/><stop offset="0.048" stop-color="#95ff6a"/><stop offset="0.096" stop-color="#59ffa6"/><stop offset="0.152" stop-color="#25ffda"/><stop offset="0.208" stop-color="#00feff"/><stop offset="0.336" stop-color="#00caff"/><stop offset="0.496" stop-color="#00adff"/><stop offset="0.656" stop-color="#00ccff"/><stop offset="0.776" stop-color="#00fdff"/><stop offset="0.840" stop-color="#2affd5"/><stop offset="0.896" stop-color="#60ff9f"/><stop offset="0.944" stop-color="#9fff60"/><stop offset="0.992" stop-color="#f1ff0e"/><stop offset="1.000" stop-color="#00deff"/></linearGradient>
<linearGradient id="g260" x1="0" y1="0" x2="0" y2="1"><stop offset="0.000" stop-color="#e4ff1b"/><stop offset="0.048" stop-color="#95ff6a"/><stop offset="0.096" stop-color="#59ffa6"/><stop offset="0.152" stop-color="#25ffda"/><stop offset="0.208" stop-color="#00feff"/><stop offset="0.336" stop-color="#00caff"/><stop offset="0.496" stop-color="#00adff"/><stop offset="0.656" stop-color="#00ccff"/><stop offset="0.776" stop-color="#00fdff"/><stop offset="0.840" stop-color="#2affd5"/><stop offset="0.896" stop-color="#60ff9f"/><stop offset="0.944" stop-color="#9fff60"/><stop offset="0.992" stop-color="#f1ff0e"/><stop offset="1.000" stop-color="#00deff"/></linearGradient>
<linearGradient id="g261" x1="0" y1="0" x2="0" y2="1"><stop offset="0.000" stop-color="#e4ff1b"/><stop offset="0.048" stop-color="#95ff6a"/><stop offset="0.096" stop-color="#59ffa6"/><stop offset="0.152" stop-color="#25ffda"/><stop offset="0.208" stop-color="#00feff"/><stop offset="0.336" stop-color="#00caff"/><stop offset="0.496" stop-color="#00adff"/><stop offset="0.656" stop-color="#00ccff"/><stop offset="0.776" stop-color="#00fdff"/><stop offset="0.840" stop-color="#2affd5"/><stop offset="0.896" stop-color="#60ff9f"/><stop offset="0.944" stop-color="#9fff60"/><stop offset="0.992" stop-color="#f1ff0e"/><stop offset="1.000" stop-color="#00deff"/></linearGradient>
<linearGradient id="g262" x1="0" y1="0" x2="0" y2="1"><stop offset="0.000" stop-color="#e4ff1b"/><stop offset="0.048" stop-color="#95ff6a"/><stop offset="0.096" stop-color="#59ffa6"/><stop offset="0.152" stop-color="#25ffda"/><stop offset="0.208" stop-color="#00feff"/><stop offset="0.336" stop-color="#00caff"/><stop offset="0.496" stop-color="#00adff"/><stop offset="0.656" stop-color="#00ccff"/><stop offset="0.776" stop-color="#00fdff"/><stop offset="0.840" stop-color="#2affd5"/><stop offset="0.896" stop-color="#60ff9f"/><stop offset="0.944" stop-color="#9fff60"/><stop offset="0.992" stop-color="#f1ff0e"/><stop offset="1.000" stop-color="#00deff"/></linearGradient>
</defs>
<rect x="0" y="0" width="448" height="252" fill="#fff"/>
<rect x="0.9" y="36.2" width="217.3" height="7.1" fill="url(#cbar)"/>
<line x1="20.20" y1="36.2" x2="20.20" y2="43.3" stroke="#fff" stroke-opacity="0.35" stroke-width="0.6"/>
<text x="20.20" y="52.4" class="sans" font-size="10" text-anchor="middle" fill="#111" stroke="#111" stroke-width="0.25">0</text>
<line x1="60.00" y1="36.2" x2="60.00" y2="43.3" stroke="#fff" stroke-opacity="0.35" stroke-width="0.6"/>
<text x="60.00" y="52.4" class="sans" font-size="10" text-anchor="middle" fill="#111" stroke="#111" stroke-width="0.25">2</text>
<line x1="99.80" y1="36.2" x2="99.80" y2="43.3" stroke="#fff" stroke-opacity="0.35" stroke-width="0.6"/>
<text x="99.80" y="52.4" class="sans" font-size="10" text-anchor="middle" fill="#111" stroke="#111" stroke-width="0.25">4</text>
<line x1="139.60" y1="36.2" x2="139.60" y2="43.3" stroke="#fff" stroke-opacity="0.35" stroke-width="0.6"/>
<text x="139.60" y="52.4" class="sans" font-size="10" text-anchor="middle" fill="#111" stroke="#111" stroke-width="0.25">6</text>
<line x1="179.40" y1="36.2" x2="179.40" y2="43.3" stroke="#fff" stroke-opacity="0.35" stroke-width="0.6"/>
<text x="179.40" y="52.4" class="sans" font-size="10" text-anchor="middle" fill="#111" stroke="#111" stroke-width="0.25">8</text>
<line x1="219.20" y1="36.2" x2="219.20" y2="43.3" stroke="#fff" stroke-opacity="0.35" stroke-width="0.6"/>
<text x="219.20" y="52.4" class="sans" font-size="10" text-anchor="middle" fill="#111" stroke="#111" stroke-width="0.25">10</text>
<text x="220.3" y="41.0" class="sans" font-size="10" fill="#111">×10<tspan dy="-4.0" font-size="6.8">-4</tspan></text>
<text x="98.6" y="68.0" class="sans" font-size="10.2" textLength="24.2" lengthAdjust="spacingAndGlyphs" fill="#222">[m/s]</text>
<rect x="9.00" y="59.20" width="1.00" height="62.60" fill="url(#g1)"/>
<rect x="10.00" y="59.20" width="1.00" height="62.60" fill="url(#g2)"/>
<rect x="11.00" y="59.20" width="1.00" height="62.60" fill="url(#g3)"/>
<rect x="12.00" y="59.20" width="1.00" height="62.60" fill="url(#g4)"/>
<rect x="13.00" y="59.20" width="1.00" height="62.60" fill="url(#g5)"/>
<rect x="14.00" y="59.20" width="1.00" height="62.60" fill="url(#g6)"/>
<rect x="15.00" y="59.20" width="1.00" height="62.60" fill="url(#g7)"/>
<rect x="16.00" y="59.20" width="1.00" height="62.60" fill="url(#g8)"/>
<rect x="17.00" y="59.20" width="1.00" height="62.60" fill="url(#g9)"/>
<rect x="18.00" y="59.20" width="1.00" height="62.60" fill="url(#g10)"/>
<rect x="19.00" y="59.20" width="1.00" height="62.60" fill="url(#g11)"/>
<rect x="20.00" y="59.20" width="1.00" height="62.60" fill="url(#g12)"/>
<rect x="21.00" y="59.20" width="1.00" height="62.60" fill="url(#g13)"/>
<rect x="22.00" y="59.20" width="1.00" height="62.60" fill="url(#g14)"/>
<rect x="23.00" y="59.20" width="1.00" height="62.60" fill="url(#g15)"/>
<rect x="24.00" y="59.20" width="1.00" height="62.60" fill="url(#g16)"/>
<rect x="25.00" y="59.20" width="1.00" height="62.60" fill="url(#g17)"/>
<rect x="26.00" y="59.20" width="1.00" height="62.60" fill="url(#g18)"/>
<rect x="27.00" y="59.20" width="1.00" height="62.60" fill="url(#g19)"/>
<rect x="28.00" y="59.20" width="1.00" height="62.60" fill="url(#g20)"/>
<rect x="29.00" y="59.20" width="1.00" height="62.60" fill="url(#g21)"/>
<rect x="30.00" y="59.20" width="1.00" height="62.60" fill="url(#g22)"/>
<rect x="31.00" y="59.20" width="1.00" height="62.60" fill="url(#g23)"/>
<rect x="32.00" y="59.20" width="1.00" height="62.60" fill="url(#g24)"/>
<rect x="33.00" y="59.20" width="1.00" height="62.60" fill="url(#g25)"/>
<rect x="34.00" y="59.20" width="1.00" height="62.60" fill="url(#g26)"/>
<rect x="35.00" y="59.20" width="1.00" height="62.60" fill="url(#g27)"/>
<rect x="36.00" y="59.20" width="1.00" height="62.60" fill="url(#g28)"/>
<rect x="37.00" y="59.20" width="1.00" height="62.60" fill="url(#g29)"/>
<rect x="38.00" y="59.20" width="1.00" height="62.60" fill="url(#g30)"/>
<rect x="39.00" y="59.20" width="1.00" height="62.60" fill="url(#g31)"/>
<rect x="40.00" y="59.20" width="1.00" height="62.60" fill="url(#g32)"/>
<rect x="41.00" y="59.20" width="1.00" height="62.60" fill="url(#g33)"/>
<rect x="42.00" y="59.20" width="1.00" height="62.60" fill="url(#g34)"/>
<rect x="43.00" y="59.20" width="1.00" height="62.60" fill="url(#g35)"/>
<rect x="44.00" y="59.20" width="1.00" height="62.60" fill="url(#g36)"/>
<rect x="45.00" y="59.20" width="1.00" height="62.60" fill="url(#g37)"/>
<rect x="46.00" y="59.20" width="1.00" height="62.60" fill="url(#g38)"/>
<rect x="47.00" y="59.20" width="1.00" height="62.60" fill="url(#g39)"/>
<rect x="48.00" y="59.20" width="1.00" height="62.60" fill="url(#g40)"/>
<rect x="49.00" y="59.20" width="1.00" height="62.60" fill="url(#g41)"/>
<rect x="50.00" y="59.20" width="1.00" height="62.60" fill="url(#g42)"/>
<rect x="51.00" y="59.20" width="1.00" height="62.60" fill="url(#g43)"/>
<rect x="52.00" y="59.20" width="1.00" height="62.60" fill="url(#g44)"/>
<rect x="53.00" y="59.20" width="1.00" height="62.60" fill="url(#g45)"/>
<rect x="54.00" y="59.20" width="1.00" height="62.60" fill="url(#g46)"/>
<rect x="55.00" y="59.20" width="1.00" height="62.60" fill="url(#g47)"/>
<rect x="56.00" y="59.20" width="1.00" height="62.60" fill="url(#g48)"/>
<rect x="57.00" y="59.20" width="1.00" height="62.60" fill="url(#g49)"/>
<rect x="58.00" y="59.20" width="1.00" height="62.60" fill="url(#g50)"/>
<rect x="59.00" y="59.20" width="1.00" height="62.60" fill="url(#g51)"/>
<rect x="60.00" y="59.20" width="1.00" height="62.60" fill="url(#g52)"/>
<rect x="61.00" y="74.70" width="4.00" height="31.50" fill="url(#g53)"/>
<rect x="65.00" y="74.70" width="4.00" height="31.50" fill="url(#g54)"/>
<rect x="69.00" y="74.70" width="4.00" height="31.50" fill="url(#g55)"/>
<rect x="73.00" y="74.70" width="4.00" height="31.50" fill="url(#g56)"/>
<rect x="77.00" y="74.70" width="4.00" height="31.50" fill="url(#g57)"/>
<rect x="81.00" y="74.70" width="4.00" height="31.50" fill="url(#g58)"/>
<rect x="85.00" y="74.70" width="4.00" height="31.50" fill="url(#g59)"/>
<rect x="89.00" y="74.70" width="4.00" height="31.50" fill="url(#g60)"/>
<rect x="93.00" y="74.70" width="4.00" height="31.50" fill="url(#g61)"/>
<rect x="97.00" y="74.70" width="4.00" height="31.50" fill="url(#g62)"/>
<rect x="101.00" y="74.70" width="4.00" height="31.50" fill="url(#g63)"/>
<rect x="105.00" y="74.70" width="4.00" height="31.50" fill="url(#g64)"/>
<rect x="109.00" y="74.70" width="4.00" height="31.50" fill="url(#g65)"/>
<rect x="113.00" y="74.70" width="4.00" height="31.50" fill="url(#g66)"/>
<rect x="117.00" y="74.70" width="4.00" height="31.50" fill="url(#g67)"/>
<rect x="121.00" y="74.70" width="4.00" height="31.50" fill="url(#g68)"/>
<rect x="125.00" y="74.70" width="4.00" height="31.50" fill="url(#g69)"/>
<rect x="129.00" y="74.70" width="4.00" height="31.50" fill="url(#g70)"/>
<rect x="133.00" y="74.70" width="4.00" height="31.50" fill="url(#g71)"/>
<rect x="137.00" y="74.70" width="4.00" height="31.50" fill="url(#g72)"/>
<rect x="141.00" y="74.70" width="4.00" height="31.50" fill="url(#g73)"/>
<rect x="145.00" y="74.70" width="4.00" height="31.50" fill="url(#g74)"/>
<rect x="149.00" y="74.70" width="4.00" height="31.50" fill="url(#g75)"/>
<rect x="153.00" y="74.70" width="4.00" height="31.50" fill="url(#g76)"/>
<rect x="157.00" y="74.70" width="4.00" height="31.50" fill="url(#g77)"/>
<rect x="161.00" y="74.70" width="4.00" height="31.50" fill="url(#g78)"/>
<rect x="165.00" y="59.20" width="1.00" height="62.60" fill="url(#g79)"/>
<rect x="166.00" y="59.20" width="1.00" height="62.60" fill="url(#g80)"/>
<rect x="167.00" y="59.20" width="1.00" height="62.60" fill="url(#g81)"/>
<rect x="168.00" y="59.20" width="1.00" height="62.60" fill="url(#g82)"/>
<rect x="169.00" y="59.20" width="1.00" height="62.60" fill="url(#g83)"/>
<rect x="170.00" y="59.20" width="1.00" height="62.60" fill="url(#g84)"/>
<rect x="171.00" y="59.20" width="1.00" height="62.60" fill="url(#g85)"/>
<rect x="172.00" y="59.20" width="1.00" height="62.60" fill="url(#g86)"/>
<rect x="173.00" y="59.20" width="1.00" height="62.60" fill="url(#g87)"/>
<rect x="174.00" y="59.20" width="1.00" height="62.60" fill="url(#g88)"/>
<rect x="175.00" y="59.20" width="1.00" height="62.60" fill="url(#g89)"/>
<rect x="176.00" y="59.20" width="1.00" height="62.60" fill="url(#g90)"/>
<rect x="177.00" y="59.20" width="1.00" height="62.60" fill="url(#g91)"/>
<rect x="178.00" y="59.20" width="1.00" height="62.60" fill="url(#g92)"/>
<rect x="179.00" y="59.20" width="1.00" height="62.60" fill="url(#g93)"/>
<rect x="180.00" y="59.20" width="1.00" height="62.60" fill="url(#g94)"/>
<rect x="181.00" y="59.20" width="1.00" height="62.60" fill="url(#g95)"/>
<rect x="182.00" y="59.20" width="1.00" height="62.60" fill="url(#g96)"/>
<rect x="183.00" y="59.20" width="1.00" height="62.60" fill="url(#g97)"/>
<rect x="184.00" y="59.20" width="1.00" height="62.60" fill="url(#g98)"/>
<rect x="185.00" y="59.20" width="1.00" height="62.60" fill="url(#g99)"/>
<rect x="186.00" y="59.20" width="1.00" height="62.60" fill="url(#g100)"/>
<rect x="187.00" y="59.20" width="1.00" height="62.60" fill="url(#g101)"/>
<rect x="188.00" y="59.20" width="1.00" height="62.60" fill="url(#g102)"/>
<rect x="189.00" y="59.20" width="1.00" height="62.60" fill="url(#g103)"/>
<rect x="190.00" y="59.20" width="1.00" height="62.60" fill="url(#g104)"/>
<rect x="191.00" y="59.20" width="1.00" height="62.60" fill="url(#g105)"/>
<rect x="192.00" y="59.20" width="1.00" height="62.60" fill="url(#g106)"/>
<rect x="193.00" y="59.20" width="1.00" height="62.60" fill="url(#g107)"/>
<rect x="194.00" y="59.20" width="1.00" height="62.60" fill="url(#g108)"/>
<rect x="195.00" y="59.20" width="1.00" height="62.60" fill="url(#g109)"/>
<rect x="196.00" y="59.20" width="1.00" height="62.60" fill="url(#g110)"/>
<rect x="197.00" y="59.20" width="1.00" height="62.60" fill="url(#g111)"/>
<rect x="198.00" y="59.20" width="1.00" height="62.60" fill="url(#g112)"/>
<rect x="199.00" y="59.20" width="1.00" height="62.60" fill="url(#g113)"/>
<rect x="200.00" y="59.20" width="1.00" height="62.60" fill="url(#g114)"/>
<rect x="201.00" y="59.20" width="1.00" height="62.60" fill="url(#g115)"/>
<rect x="202.00" y="59.20" width="1.00" height="62.60" fill="url(#g116)"/>
<rect x="203.00" y="59.20" width="1.00" height="62.60" fill="url(#g117)"/>
<rect x="204.00" y="59.20" width="1.00" height="62.60" fill="url(#g118)"/>
<rect x="205.00" y="59.20" width="1.00" height="62.60" fill="url(#g119)"/>
<rect x="206.00" y="59.20" width="1.00" height="62.60" fill="url(#g120)"/>
<rect x="207.00" y="59.20" width="1.00" height="62.60" fill="url(#g121)"/>
<rect x="208.00" y="59.20" width="1.00" height="62.60" fill="url(#g122)"/>
<rect x="209.00" y="59.20" width="1.00" height="62.60" fill="url(#g123)"/>
<rect x="210.00" y="59.20" width="1.00" height="62.60" fill="url(#g124)"/>
<rect x="211.00" y="59.20" width="1.00" height="62.60" fill="url(#g125)"/>
<rect x="212.00" y="59.20" width="1.00" height="62.60" fill="url(#g126)"/>
<rect x="213.00" y="59.20" width="1.00" height="62.60" fill="url(#g127)"/>
<rect x="214.00" y="59.20" width="1.00" height="62.60" fill="url(#g128)"/>
<rect x="215.00" y="59.20" width="1.00" height="62.60" fill="url(#g129)"/>
<rect x="216.00" y="59.20" width="1.00" height="62.60" fill="url(#g130)"/>
<rect x="9.00" y="135.20" width="1.00" height="62.60" fill="url(#g131)"/>
<rect x="10.00" y="135.20" width="1.00" height="62.60" fill="url(#g132)"/>
<rect x="11.00" y="135.20" width="1.00" height="62.60" fill="url(#g133)"/>
<rect x="12.00" y="135.20" width="1.00" height="62.60" fill="url(#g134)"/>
<rect x="13.00" y="135.20" width="1.00" height="62.60" fill="url(#g135)"/>
<rect x="14.00" y="135.20" width="1.00" height="62.60" fill="url(#g136)"/>
<rect x="15.00" y="135.20" width="1.00" height="62.60" fill="url(#g137)"/>
<rect x="16.00" y="135.20" width="1.00" height="62.60" fill="url(#g138)"/>
<rect x="17.00" y="135.20" width="1.00" height="62.60" fill="url(#g139)"/>
<rect x="18.00" y="135.20" width="1.00" height="62.60" fill="url(#g140)"/>
<rect x="19.00" y="135.20" width="1.00" height="62.60" fill="url(#g141)"/>
<rect x="20.00" y="135.20" width="1.00" height="62.60" fill="url(#g142)"/>
<rect x="21.00" y="135.20" width="1.00" height="62.60" fill="url(#g143)"/>
<rect x="22.00" y="135.20" width="1.00" height="62.60" fill="url(#g144)"/>
<rect x="23.00" y="135.20" width="1.00" height="62.60" fill="url(#g145)"/>
<rect x="24.00" y="135.20" width="1.00" height="62.60" fill="url(#g146)"/>
<rect x="25.00" y="135.20" width="1.00" height="62.60" fill="url(#g147)"/>
<rect x="26.00" y="135.20" width="1.00" height="62.60" fill="url(#g148)"/>
<rect x="27.00" y="135.20" width="1.00" height="62.60" fill="url(#g149)"/>
<rect x="28.00" y="135.20" width="1.00" height="62.60" fill="url(#g150)"/>
<rect x="29.00" y="135.20" width="1.00" height="62.60" fill="url(#g151)"/>
<rect x="30.00" y="135.20" width="1.00" height="62.60" fill="url(#g152)"/>
<rect x="31.00" y="135.20" width="1.00" height="62.60" fill="url(#g153)"/>
<rect x="32.00" y="135.20" width="1.00" height="62.60" fill="url(#g154)"/>
<rect x="33.00" y="135.20" width="1.00" height="62.60" fill="url(#g155)"/>
<rect x="34.00" y="135.20" width="1.00" height="62.60" fill="url(#g156)"/>
<rect x="35.00" y="135.20" width="1.00" height="62.60" fill="url(#g157)"/>
<rect x="36.00" y="135.20" width="1.00" height="62.60" fill="url(#g158)"/>
<rect x="37.00" y="135.20" width="1.00" height="62.60" fill="url(#g159)"/>
<rect x="38.00" y="135.20" width="1.00" height="62.60" fill="url(#g160)"/>
<rect x="39.00" y="135.20" width="1.00" height="62.60" fill="url(#g161)"/>
<rect x="40.00" y="135.20" width="1.00" height="62.60" fill="url(#g162)"/>
<rect x="41.00" y="135.20" width="1.00" height="62.60" fill="url(#g163)"/>
<rect x="42.00" y="135.20" width="1.00" height="62.60" fill="url(#g164)"/>
<rect x="43.00" y="135.20" width="1.00" height="62.60" fill="url(#g165)"/>
<rect x="44.00" y="135.20" width="1.00" height="62.60" fill="url(#g166)"/>
<rect x="45.00" y="135.20" width="1.00" height="62.60" fill="url(#g167)"/>
<rect x="46.00" y="135.20" width="1.00" height="62.60" fill="url(#g168)"/>
<rect x="47.00" y="135.20" width="1.00" height="62.60" fill="url(#g169)"/>
<rect x="48.00" y="135.20" width="1.00" height="62.60" fill="url(#g170)"/>
<rect x="49.00" y="135.20" width="1.00" height="62.60" fill="url(#g171)"/>
<rect x="50.00" y="135.20" width="1.00" height="62.60" fill="url(#g172)"/>
<rect x="51.00" y="135.20" width="1.00" height="62.60" fill="url(#g173)"/>
<rect x="52.00" y="135.20" width="1.00" height="62.60" fill="url(#g174)"/>
<rect x="53.00" y="135.20" width="1.00" height="62.60" fill="url(#g175)"/>
<rect x="54.00" y="135.20" width="1.00" height="62.60" fill="url(#g176)"/>
<rect x="55.00" y="135.20" width="1.00" height="62.60" fill="url(#g177)"/>
<rect x="56.00" y="135.20" width="1.00" height="62.60" fill="url(#g178)"/>
<rect x="57.00" y="135.20" width="1.00" height="62.60" fill="url(#g179)"/>
<rect x="58.00" y="135.20" width="1.00" height="62.60" fill="url(#g180)"/>
<rect x="59.00" y="135.20" width="1.00" height="62.60" fill="url(#g181)"/>
<rect x="60.00" y="135.20" width="1.00" height="62.60" fill="url(#g182)"/>
<rect x="61.00" y="150.60" width="4.00" height="30.90" fill="url(#g183)"/>
<rect x="65.00" y="150.60" width="4.00" height="30.90" fill="url(#g184)"/>
<rect x="69.00" y="150.60" width="4.00" height="30.90" fill="url(#g185)"/>
<rect x="73.00" y="150.60" width="4.00" height="30.90" fill="url(#g186)"/>
<rect x="77.00" y="150.60" width="4.00" height="30.90" fill="url(#g187)"/>
<rect x="81.00" y="150.60" width="4.00" height="30.90" fill="url(#g188)"/>
<rect x="85.00" y="150.60" width="4.00" height="30.90" fill="url(#g189)"/>
<rect x="89.00" y="150.60" width="4.00" height="30.90" fill="url(#g190)"/>
<rect x="93.00" y="150.60" width="4.00" height="30.90" fill="url(#g191)"/>
<rect x="97.00" y="150.60" width="4.00" height="30.90" fill="url(#g192)"/>
<rect x="101.00" y="150.60" width="4.00" height="30.90" fill="url(#g193)"/>
<rect x="105.00" y="150.60" width="4.00" height="30.90" fill="url(#g194)"/>
<rect x="109.00" y="150.60" width="4.00" height="30.90" fill="url(#g195)"/>
<rect x="113.00" y="150.60" width="4.00" height="30.90" fill="url(#g196)"/>
<rect x="117.00" y="150.60" width="4.00" height="30.90" fill="url(#g197)"/>
<rect x="121.00" y="150.60" width="4.00" height="30.90" fill="url(#g198)"/>
<rect x="125.00" y="150.60" width="4.00" height="30.90" fill="url(#g199)"/>
<rect x="129.00" y="150.60" width="4.00" height="30.90" fill="url(#g200)"/>
<rect x="133.00" y="150.60" width="4.00" height="30.90" fill="url(#g201)"/>
<rect x="137.00" y="150.60" width="4.00" height="30.90" fill="url(#g202)"/>
<rect x="141.00" y="150.60" width="4.00" height="30.90" fill="url(#g203)"/>
<rect x="145.00" y="150.60" width="4.00" height="30.90" fill="url(#g204)"/>
<rect x="149.00" y="150.60" width="4.00" height="30.90" fill="url(#g205)"/>
<rect x="153.00" y="150.60" width="4.00" height="30.90" fill="url(#g206)"/>
<rect x="157.00" y="150.60" width="4.00" height="30.90" fill="url(#g207)"/>
<rect x="161.00" y="150.60" width="4.00" height="30.90" fill="url(#g208)"/>
<rect x="165.00" y="150.60" width="1.00" height="30.90" fill="url(#g209)"/>
<rect x="166.00" y="135.20" width="1.00" height="62.60" fill="url(#g210)"/>
<rect x="167.00" y="135.20" width="1.00" height="62.60" fill="url(#g211)"/>
<rect x="168.00" y="135.20" width="1.00" height="62.60" fill="url(#g212)"/>
<rect x="169.00" y="135.20" width="1.00" height="62.60" fill="url(#g213)"/>
<rect x="170.00" y="135.20" width="1.00" height="62.60" fill="url(#g214)"/>
<rect x="171.00" y="135.20" width="1.00" height="62.60" fill="url(#g215)"/>
<rect x="172.00" y="135.20" width="1.00" height="62.60" fill="url(#g216)"/>
<rect x="173.00" y="135.20" width="1.00" height="62.60" fill="url(#g217)"/>
<rect x="174.00" y="135.20" width="1.00" height="62.60" fill="url(#g218)"/>
<rect x="175.00" y="135.20" width="1.00" height="62.60" fill="url(#g219)"/>
<rect x="176.00" y="135.20" width="1.00" height="62.60" fill="url(#g220)"/>
<rect x="177.00" y="135.20" width="1.00" height="62.60" fill="url(#g221)"/>
<rect x="178.00" y="135.20" width="1.00" height="62.60" fill="url(#g222)"/>
<rect x="179.00" y="135.20" width="1.00" height="62.60" fill="url(#g223)"/>
<rect x="180.00" y="135.20" width="1.00" height="62.60" fill="url(#g224)"/>
<rect x="181.00" y="135.20" width="1.00" height="62.60" fill="url(#g225)"/>
<rect x="182.00" y="135.20" width="1.00" height="62.60" fill="url(#g226)"/>
<rect x="183.00" y="135.20" width="1.00" height="62.60" fill="url(#g227)"/>
<rect x="184.00" y="135.20" width="1.00" height="62.60" fill="url(#g228)"/>
<rect x="185.00" y="135.20" width="1.00" height="62.60" fill="url(#g229)"/>
<rect x="186.00" y="135.20" width="1.00" height="62.60" fill="url(#g230)"/>
<rect x="187.00" y="135.20" width="1.00" height="62.60" fill="url(#g231)"/>
<rect x="188.00" y="135.20" width="1.00" height="62.60" fill="url(#g232)"/>
<rect x="189.00" y="135.20" width="1.00" height="62.60" fill="url(#g233)"/>
<rect x="190.00" y="135.20" width="1.00" height="62.60" fill="url(#g234)"/>
<rect x="191.00" y="135.20" width="1.00" height="62.60" fill="url(#g235)"/>
<rect x="192.00" y="135.20" width="1.00" height="62.60" fill="url(#g236)"/>
<rect x="193.00" y="135.20" width="1.00" height="62.60" fill="url(#g237)"/>
<rect x="194.00" y="135.20" width="1.00" height="62.60" fill="url(#g238)"/>
<rect x="195.00" y="135.20" width="1.00" height="62.60" fill="url(#g239)"/>
<rect x="196.00" y="135.20" width="1.00" height="62.60" fill="url(#g240)"/>
<rect x="197.00" y="135.20" width="1.00" height="62.60" fill="url(#g241)"/>
<rect x="198.00" y="135.20" width="1.00" height="62.60" fill="url(#g242)"/>
<rect x="199.00" y="135.20" width="1.00" height="62.60" fill="url(#g243)"/>
<rect x="200.00" y="135.20" width="1.00" height="62.60" fill="url(#g244)"/>
<rect x="201.00" y="135.20" width="1.00" height="62.60" fill="url(#g245)"/>
<rect x="202.00" y="135.20" width="1.00" height="62.60" fill="url(#g246)"/>
<rect x="203.00" y="135.20" width="1.00" height="62.60" fill="url(#g247)"/>
<rect x="204.00" y="135.20" width="1.00" height="62.60" fill="url(#g248)"/>
<rect x="205.00" y="135.20" width="1.00" height="62.60" fill="url(#g249)"/>
<rect x="206.00" y="135.20" width="1.00" height="62.60" fill="url(#g250)"/>
<rect x="207.00" y="135.20" width="1.00" height="62.60" fill="url(#g251)"/>
<rect x="208.00" y="135.20" width="1.00" height="62.60" fill="url(#g252)"/>
<rect x="209.00" y="135.20" width="1.00" height="62.60" fill="url(#g253)"/>
<rect x="210.00" y="135.20" width="1.00" height="62.60" fill="url(#g254)"/>
<rect x="211.00" y="135.20" width="1.00" height="62.60" fill="url(#g255)"/>
<rect x="212.00" y="135.20" width="1.00" height="62.60" fill="url(#g256)"/>
<rect x="213.00" y="135.20" width="1.00" height="62.60" fill="url(#g257)"/>
<rect x="214.00" y="135.20" width="1.00" height="62.60" fill="url(#g258)"/>
<rect x="215.00" y="135.20" width="1.00" height="62.60" fill="url(#g259)"/>
<rect x="216.00" y="135.20" width="1.00" height="62.60" fill="url(#g260)"/>
<rect x="217.00" y="135.20" width="1.00" height="62.60" fill="url(#g261)"/>
<rect x="218.00" y="135.20" width="1.00" height="62.60" fill="url(#g262)"/>
<path d="M8.60,59.20 L61.00,59.20 L61.00,74.70 L165.00,74.70 L165.00,59.20 L217.00,59.20 L217.00,121.80 L165.00,121.80 L165.00,106.20 L61.00,106.20 L61.00,121.80 L8.60,121.80 Z" fill="none" stroke="#1a2a5a" stroke-width="0.8" stroke-opacity="0.85"/><path d="M61.00,74.70 L61.00,106.20 M165.00,74.70 L165.00,106.20" fill="none" stroke="#000" stroke-width="0.6" stroke-opacity="0.45"/>
<path d="M8.60,135.20 L61.00,135.20 L61.00,150.60 L166.00,150.60 L166.00,135.20 L219.00,135.20 L219.00,197.80 L166.00,197.80 L166.00,181.50 L61.00,181.50 L61.00,197.80 L8.60,197.80 Z" fill="none" stroke="#1a2a5a" stroke-width="0.8" stroke-opacity="0.85"/><path d="M61.00,150.60 L61.00,181.50 M166.00,150.60 L166.00,181.50" fill="none" stroke="#000" stroke-width="0.6" stroke-opacity="0.45"/>
<g fill="none" stroke="#111" stroke-width="0.85" stroke-opacity="0.9"><path d="M9.0,90.5 10.5,90.5 12.0,90.5 13.5,90.5 15.0,90.5 16.5,90.5 18.0,90.5 19.5,90.5 21.0,90.5 22.5,90.5 24.0,90.5 25.5,90.5 27.0,90.5 28.5,90.5 30.0,90.5 31.5,90.5 33.0,90.5 34.5,90.5 36.0,90.5 37.5,90.5 39.0,90.5 40.5,90.5 42.0,90.5 43.5,90.5 45.0,90.5 46.5,90.5 48.0,90.5 49.5,90.5 51.0,90.5 52.5,90.5 54.0,90.5 55.5,90.5 57.0,90.5 58.5,90.5 60.0,90.5 62.5,90.5"/><path d="M163.5,90.5 165.0,90.5 166.5,90.5 168.0,90.5 169.5,90.5 171.0,90.5 172.5,90.5 174.0,90.5 175.5,90.5 177.0,90.5 178.5,90.5 180.0,90.5 181.5,90.5 183.0,90.5 184.5,90.5 186.0,90.5 187.5,90.5 189.0,90.5 190.5,90.5 192.0,90.5 193.5,90.5 195.0,90.5 201.0,90.5 207.0,90.5 213.0,90.5 217.0,90.5"/><path d="M9.0,86.4 10.5,86.5 12.0,86.5 13.5,86.5 15.0,86.6 16.5,86.6 18.0,86.6 19.5,86.7 21.0,86.7 22.5,86.7 24.0,86.8 25.5,86.8 27.0,86.9 28.5,86.9 30.0,87.0 31.5,87.0 33.0,87.0 34.5,87.2 36.0,87.3 37.5,87.4 39.0,87.5 40.5,87.5 42.0,87.5 43.5,87.6 45.0,87.6 46.5,87.5 48.0,87.5 49.5,87.4 51.0,87.3 52.5,87.2 54.0,87.1 55.5,87.0 57.0,87.0 58.5,87.0 60.0,87.0 62.5,87.0"/><path d="M163.5,87.0 165.0,86.9 166.5,86.8 168.0,86.6 169.5,86.4 171.0,86.1 172.5,85.8 174.0,85.4 175.5,85.1 177.0,84.7 178.5,84.3 180.0,84.0 181.5,83.6 183.0,83.4 184.5,83.2 186.0,83.0 187.5,83.0 189.0,83.0 190.5,83.0 192.0,83.0 193.5,83.0 195.0,83.0 201.0,83.0 207.0,83.0 213.0,83.0 217.0,83.0"/><path d="M9.0,94.5 10.5,94.4 12.0,94.4 13.5,94.4 15.0,94.3 16.5,94.3 18.0,94.3 19.5,94.2 21.0,94.2 22.5,94.2 24.0,94.1 25.5,94.1 27.0,94.0 28.5,94.0 30.0,93.9 31.5,93.9 33.0,93.9 34.5,93.7 36.0,93.6 37.5,93.5 39.0,93.4 40.5,93.4 42.0,93.4 43.5,93.3 45.0,93.3 46.5,93.4 48.0,93.4 49.5,93.5 51.0,93.6 52.5,93.7 54.0,93.8 55.5,93.9 57.0,93.9 58.5,93.9 60.0,93.9 62.5,94.0"/><path d="M163.5,94.0 165.0,94.0 166.5,94.1 168.0,94.3 169.5,94.5 171.0,94.8 172.5,95.1 174.0,95.5 175.5,95.8 177.0,96.2 178.5,96.6 180.0,96.9 181.5,97.3 183.0,97.5 184.5,97.7 186.0,97.9 187.5,97.9 189.0,97.9 190.5,97.9 192.0,97.9 193.5,97.9 195.0,97.9 201.0,97.9 207.0,97.9 213.0,97.9 217.0,97.9"/><path d="M9.0,82.1 10.5,82.2 12.0,82.3 13.5,82.3 15.0,82.4 16.5,82.4 18.0,82.5 19.5,82.6 21.0,82.6 22.5,82.7 24.0,82.8 25.5,82.9 27.0,83.0 28.5,83.1 30.0,83.2 31.5,83.3 33.0,83.3 34.5,83.6 36.0,83.9 37.5,84.1 39.0,84.2 40.5,84.3 42.0,84.4 43.5,84.4 45.0,84.4 46.5,84.3 48.0,84.2 49.5,84.0 51.0,83.9 52.5,83.7 54.0,83.5 55.5,83.3 57.0,83.2 58.5,83.2 60.0,83.3 62.5,83.2"/><path d="M163.5,83.2 165.0,83.1 166.5,82.9 168.0,82.5 169.5,82.0 171.0,81.3 172.5,80.6 174.0,79.9 175.5,79.1 177.0,78.3 178.5,77.6 180.0,76.9 181.5,76.3 183.0,75.9 184.5,75.5 186.0,75.4 187.5,75.4 189.0,75.4 190.5,75.4 192.0,75.4 193.5,75.4 195.0,75.4 201.0,75.4 207.0,75.4 213.0,75.4 217.0,75.4"/><path d="M9.0,98.8 10.5,98.7 12.0,98.6 13.5,98.6 15.0,98.5 16.5,98.5 18.0,98.4 19.5,98.3 21.0,98.3 22.5,98.2 24.0,98.1 25.5,98.0 27.0,97.9 28.5,97.8 30.0,97.7 31.5,97.6 33.0,97.6 34.5,97.3 36.0,97.0 37.5,96.8 39.0,96.7 40.5,96.6 42.0,96.5 43.5,96.5 45.0,96.5 46.5,96.6 48.0,96.7 49.5,96.9 51.0,97.0 52.5,97.2 54.0,97.4 55.5,97.6 57.0,97.7 58.5,97.7 60.0,97.6 62.5,97.8"/><path d="M163.5,97.8 165.0,97.8 166.5,98.0 168.0,98.4 169.5,98.9 171.0,99.6 172.5,100.3 174.0,101.0 175.5,101.8 177.0,102.6 178.5,103.3 180.0,104.0 181.5,104.6 183.0,105.0 184.5,105.4 186.0,105.5 187.5,105.5 189.0,105.5 190.5,105.5 192.0,105.5 193.5,105.5 195.0,105.5 201.0,105.5 207.0,105.5 213.0,105.5 217.0,105.5"/><path d="M9.0,72.0 10.5,72.1 12.0,72.2 13.5,72.3 15.0,72.4 16.5,72.6 18.0,72.7 19.5,72.8 21.0,72.9 22.5,73.0 24.0,73.2 25.5,73.4 27.0,73.6 28.5,73.7 30.0,73.9 31.5,74.1 33.0,74.2 34.5,74.8 36.0,75.4 37.5,76.0 39.0,76.5 40.5,77.0 42.0,77.5 43.5,77.9 45.0,78.3 46.5,78.6 48.0,78.8 49.5,78.9 51.0,79.0 52.5,79.1 54.0,79.1 55.5,79.2 57.0,79.3 58.5,79.5 60.0,79.8 62.5,79.7"/><path d="M163.5,79.7 165.0,79.6 166.5,79.1 168.0,78.4 169.5,77.4 171.0,76.2 172.5,74.9 174.0,73.6 175.5,72.3 177.0,71.1 178.5,70.1 180.0,69.3 181.5,68.7 183.0,68.6 184.5,68.6 186.0,68.6 187.5,68.6 189.0,68.6 190.5,68.6 192.0,68.6 193.5,68.6 195.0,68.6 201.0,68.6 207.0,68.6 213.0,68.6 217.0,68.6"/><path d="M9.0,108.9 10.5,108.8 12.0,108.7 13.5,108.6 15.0,108.5 16.5,108.3 18.0,108.2 19.5,108.1 21.0,108.0 22.5,107.9 24.0,107.7 25.5,107.5 27.0,107.3 28.5,107.2 30.0,107.0 31.5,106.8 33.0,106.7 34.5,106.1 36.0,105.5 37.5,104.9 39.0,104.4 40.5,103.9 42.0,103.4 43.5,103.0 45.0,102.6 46.5,102.3 48.0,102.1 49.5,102.0 51.0,101.9 52.5,101.8 54.0,101.8 55.5,101.7 57.0,101.6 58.5,101.4 60.0,101.1 62.5,101.2"/><path d="M163.5,101.2 165.0,101.3 166.5,101.8 168.0,102.5 169.5,103.5 171.0,104.7 172.5,106.0 174.0,107.3 175.5,108.6 177.0,109.8 178.5,110.8 180.0,111.6 181.5,112.2 183.0,112.3 184.5,112.3 186.0,112.3 187.5,112.3 189.0,112.3 190.5,112.3 192.0,112.3 193.5,112.3 195.0,112.3 201.0,112.3 207.0,112.3 213.0,112.3 217.0,112.3"/><path d="M9.0,61.8 10.5,61.9 12.0,61.9 13.5,61.9 15.0,62.0 16.5,62.0 18.0,62.0 19.5,62.1 21.0,62.1 22.5,62.1 24.0,62.2 25.5,62.2 27.0,62.3 28.5,62.4 30.0,62.4 31.5,62.5 33.0,62.6 34.5,63.5 36.0,64.4 37.5,65.2 39.0,66.1 40.5,67.0 42.0,67.9 43.5,68.8 45.0,69.6 46.5,70.5 48.0,71.3 49.5,72.0 51.0,72.7 52.5,73.4 54.0,73.9 55.5,74.4 57.0,75.0 58.5,75.6 60.0,76.2 62.5,76.5"/><path d="M163.5,76.5 165.0,76.2 166.5,75.1 168.0,73.2 169.5,70.9 171.0,68.4 172.5,66.1 174.0,64.1 175.5,62.8 177.0,62.5 178.5,62.5 180.0,62.5 181.5,62.5 183.0,62.5 184.5,62.5 186.0,62.5 187.5,62.5 189.0,62.5 190.5,62.5 192.0,62.5 193.5,62.5 195.0,62.5 201.0,62.5 207.0,62.5 213.0,62.5 217.0,62.5"/><path d="M9.0,119.1 10.5,119.0 12.0,119.0 13.5,119.0 15.0,118.9 16.5,118.9 18.0,118.9 19.5,118.8 21.0,118.8 22.5,118.8 24.0,118.7 25.5,118.7 27.0,118.6 28.5,118.5 30.0,118.5 31.5,118.4 33.0,118.3 34.5,117.4 36.0,116.5 37.5,115.7 39.0,114.8 40.5,113.9 42.0,113.0 43.5,112.1 45.0,111.3 46.5,110.4 48.0,109.6 49.5,108.9 51.0,108.2 52.5,107.5 54.0,107.0 55.5,106.5 57.0,105.9 58.5,105.3 60.0,104.7 62.5,104.5"/><path d="M163.5,104.5 165.0,104.7 166.5,105.8 168.0,107.7 169.5,110.0 171.0,112.5 172.5,114.8 174.0,116.8 175.5,118.1 177.0,118.4 178.5,118.4 180.0,118.4 181.5,118.4 183.0,118.4 184.5,118.4 186.0,118.4 187.5,118.4 189.0,118.4 190.5,118.4 192.0,118.4 193.5,118.4 195.0,118.4 201.0,118.4 207.0,118.4 213.0,118.4 217.0,118.4"/><path d="M38.0,61.0 39.0,61.6 40.0,62.2 41.0,62.8 42.0,63.5 43.0,64.1 44.0,64.7 45.0,65.4 46.0,66.0 47.0,66.7 48.0,67.2 49.0,67.8 50.0,68.4 51.0,69.0 52.0,69.6 53.0,70.0 54.0,70.4 55.0,70.8 56.0,71.2 57.0,71.7 58.0,72.1 59.0,72.6 60.0,73.0 61.0,73.5"/><path d="M38.0,119.9 39.0,119.3 40.0,118.7 41.0,118.1 42.0,117.5 43.0,116.8 44.0,116.2 45.0,115.5 46.0,114.9 47.0,114.2 48.0,113.7 49.0,113.1 50.0,112.5 51.0,111.9 52.0,111.3 53.0,110.9 54.0,110.5 55.0,110.1 56.0,109.7 57.0,109.2 58.0,108.8 59.0,108.3 60.0,107.9 61.0,107.4"/><path d="M168.5,59.2 171.0,59.7 173.0,59.7 175.0,59.7 177.0,59.7 179.0,59.7 181.0,59.7 183.0,59.7 185.0,59.7 187.0,59.7 189.0,59.7 191.0,59.7 193.0,59.7 195.0,59.7 197.0,59.7 199.0,59.7 201.0,59.7 203.0,59.7 205.0,59.7 207.0,59.7 209.0,59.7 211.0,59.7 213.0,59.7 215.0,59.7 217.0,59.7"/><path d="M168.5,121.8 171.0,121.2 173.0,121.2 175.0,121.2 177.0,121.2 179.0,121.2 181.0,121.2 183.0,121.2 185.0,121.2 187.0,121.2 189.0,121.2 191.0,121.2 193.0,121.2 195.0,121.2 197.0,121.2 199.0,121.2 201.0,121.2 203.0,121.2 205.0,121.2 207.0,121.2 209.0,121.2 211.0,121.2 213.0,121.2 215.0,121.2 217.0,121.2"/><path d="M9.0,164.1 10.5,164.2 12.0,164.2 13.5,164.2 15.0,164.2 16.5,164.2 18.0,164.2 19.5,164.2 21.0,164.2 22.5,164.2 24.0,164.2 25.5,164.2 27.0,164.2 28.5,164.2 30.0,164.3 31.5,164.3 33.0,164.3 34.5,164.3 36.0,164.3 37.5,164.4 39.0,164.5 40.5,164.5 42.0,164.6 43.5,164.7 45.0,164.8 46.5,164.8 48.0,164.9 49.5,164.9 51.0,164.9 52.5,164.9 54.0,164.9 55.5,165.0 57.0,165.0 58.5,165.0 60.0,165.0 62.5,165.1"/><path d="M164.5,165.1 166.0,165.0 167.5,164.9 169.0,164.8 170.5,164.5 172.0,164.3 173.5,164.1 175.0,163.9 176.5,163.8 178.0,163.7 179.5,163.7 181.0,163.7 182.5,163.7 184.0,163.7 185.5,163.7 187.0,163.7 188.5,163.7 190.0,163.7 191.5,163.7 193.0,163.7 194.5,163.7 196.0,163.7 202.0,163.7 208.0,163.7 214.0,163.7 219.0,163.7"/><path d="M9.0,168.0 10.5,167.9 12.0,167.9 13.5,167.9 15.0,167.9 16.5,167.9 18.0,167.9 19.5,167.9 21.0,167.9 22.5,167.9 24.0,167.9 25.5,167.9 27.0,167.9 28.5,167.9 30.0,167.8 31.5,167.8 33.0,167.8 34.5,167.8 36.0,167.8 37.5,167.7 39.0,167.6 40.5,167.6 42.0,167.5 43.5,167.4 45.0,167.3 46.5,167.3 48.0,167.2 49.5,167.2 51.0,167.2 52.5,167.2 54.0,167.2 55.5,167.1 57.0,167.1 58.5,167.1 60.0,167.1 62.5,167.1"/><path d="M164.5,167.1 166.0,167.1 167.5,167.2 169.0,167.3 170.5,167.6 172.0,167.8 173.5,168.0 175.0,168.2 176.5,168.3 178.0,168.4 179.5,168.4 181.0,168.4 182.5,168.4 184.0,168.4 185.5,168.4 187.0,168.4 188.5,168.4 190.0,168.4 191.5,168.4 193.0,168.4 194.5,168.4 196.0,168.4 202.0,168.4 208.0,168.4 214.0,168.4 219.0,168.4"/><path d="M9.0,160.6 10.5,160.7 12.0,160.7 13.5,160.7 15.0,160.7 16.5,160.7 18.0,160.7 19.5,160.8 21.0,160.8 22.5,160.8 24.0,160.8 25.5,160.9 27.0,160.9 28.5,160.9 30.0,160.9 31.5,161.0 33.0,161.0 34.5,161.1 36.0,161.2 37.5,161.3 39.0,161.5 40.5,161.7 42.0,161.9 43.5,162.1 45.0,162.2 46.5,162.2 48.0,162.2 49.5,162.2 51.0,162.2 52.5,162.1 54.0,162.1 55.5,162.0 57.0,162.0 58.5,162.1 60.0,162.1 62.5,162.2"/><path d="M164.5,162.2 166.0,162.1 167.5,161.7 169.0,161.1 170.5,160.4 172.0,159.6 173.5,158.8 175.0,158.2 176.5,157.7 178.0,157.6 179.5,157.6 181.0,157.6 182.5,157.6 184.0,157.6 185.5,157.6 187.0,157.6 188.5,157.6 190.0,157.6 191.5,157.6 193.0,157.6 194.5,157.6 196.0,157.6 202.0,157.6 208.0,157.6 214.0,157.6 219.0,157.6"/><path d="M9.0,171.5 10.5,171.4 12.0,171.4 13.5,171.4 15.0,171.4 16.5,171.4 18.0,171.4 19.5,171.3 21.0,171.3 22.5,171.3 24.0,171.3 25.5,171.2 27.0,171.2 28.5,171.2 30.0,171.2 31.5,171.1 33.0,171.1 34.5,171.0 36.0,170.9 37.5,170.8 39.0,170.6 40.5,170.4 42.0,170.2 43.5,170.0 45.0,169.9 46.5,169.9 48.0,169.9 49.5,169.9 51.0,169.9 52.5,170.0 54.0,170.0 55.5,170.1 57.0,170.1 58.5,170.0 60.0,170.0 62.5,170.0"/><path d="M164.5,170.0 166.0,170.0 167.5,170.4 169.0,171.0 170.5,171.7 172.0,172.5 173.5,173.3 175.0,173.9 176.5,174.4 178.0,174.5 179.5,174.5 181.0,174.5 182.5,174.5 184.0,174.5 185.5,174.5 187.0,174.5 188.5,174.5 190.0,174.5 191.5,174.5 193.0,174.5 194.5,174.5 196.0,174.5 202.0,174.5 208.0,174.5 214.0,174.5 219.0,174.5"/><path d="M9.0,157.0 10.5,157.1 12.0,157.1 13.5,157.1 15.0,157.2 16.5,157.2 18.0,157.2 19.5,157.2 21.0,157.3 22.5,157.3 24.0,157.3 25.5,157.4 27.0,157.4 28.5,157.5 30.0,157.5 31.5,157.6 33.0,157.7 34.5,157.7 36.0,157.9 37.5,158.2 39.0,158.5 40.5,158.8 42.0,159.1 43.5,159.4 45.0,159.6 46.5,159.7 48.0,159.7 49.5,159.6 51.0,159.6 52.5,159.5 54.0,159.4 55.5,159.4 57.0,159.4 58.5,159.5 60.0,159.6 62.5,159.6"/><path d="M164.5,159.6 166.0,159.4 167.5,158.8 169.0,157.8 170.5,156.6 172.0,155.3 173.5,154.1 175.0,153.1 176.5,152.4 178.0,152.3 179.5,152.3 181.0,152.3 182.5,152.3 184.0,152.3 185.5,152.3 187.0,152.3 188.5,152.3 190.0,152.3 191.5,152.3 193.0,152.3 194.5,152.3 196.0,152.3 202.0,152.3 208.0,152.3 214.0,152.3 219.0,152.3"/><path d="M9.0,175.1 10.5,175.0 12.0,175.0 13.5,175.0 15.0,174.9 16.5,174.9 18.0,174.9 19.5,174.9 21.0,174.8 22.5,174.8 24.0,174.8 25.5,174.7 27.0,174.7 28.5,174.6 30.0,174.6 31.5,174.5 33.0,174.4 34.5,174.4 36.0,174.2 37.5,173.9 39.0,173.6 40.5,173.3 42.0,173.0 43.5,172.7 45.0,172.5 46.5,172.4 48.0,172.4 49.5,172.5 51.0,172.5 52.5,172.6 54.0,172.7 55.5,172.7 57.0,172.7 58.5,172.6 60.0,172.5 62.5,172.6"/><path d="M164.5,172.6 166.0,172.7 167.5,173.3 169.0,174.3 170.5,175.5 172.0,176.8 173.5,178.0 175.0,179.0 176.5,179.7 178.0,179.8 179.5,179.8 181.0,179.8 182.5,179.8 184.0,179.8 185.5,179.8 187.0,179.8 188.5,179.8 190.0,179.8 191.5,179.8 193.0,179.8 194.5,179.8 196.0,179.8 202.0,179.8 208.0,179.8 214.0,179.8 219.0,179.8"/><path d="M9.0,153.4 10.5,153.5 12.0,153.5 13.5,153.5 15.0,153.6 16.5,153.6 18.0,153.7 19.5,153.7 21.0,153.7 22.5,153.8 24.0,153.8 25.5,153.9 27.0,154.0 28.5,154.0 30.0,154.1 31.5,154.2 33.0,154.2 34.5,154.3 36.0,154.5 37.5,155.0 39.0,155.4 40.5,155.8 42.0,156.2 43.5,156.6 45.0,156.9 46.5,157.0 48.0,157.0 49.5,156.9 51.0,156.8 52.5,156.7 54.0,156.6 55.5,156.6 57.0,156.6 58.5,156.7 60.0,156.8 62.5,156.8"/><path d="M164.5,156.8 166.0,156.5 167.5,155.6 169.0,154.0 170.5,152.2 172.0,150.3 173.5,148.6 175.0,147.3 176.5,146.7 178.0,146.7 179.5,146.7 181.0,146.7 182.5,146.7 184.0,146.7 185.5,146.7 187.0,146.7 188.5,146.7 190.0,146.7 191.5,146.7 193.0,146.7 194.5,146.7 196.0,146.7 202.0,146.7 208.0,146.7 214.0,146.7 219.0,146.7"/><path d="M9.0,178.7 10.5,178.6 12.0,178.6 13.5,178.6 15.0,178.5 16.5,178.5 18.0,178.4 19.5,178.4 21.0,178.4 22.5,178.3 24.0,178.3 25.5,178.2 27.0,178.1 28.5,178.1 30.0,178.0 31.5,177.9 33.0,177.9 34.5,177.8 36.0,177.6 37.5,177.1 39.0,176.7 40.5,176.3 42.0,175.9 43.5,175.5 45.0,175.2 46.5,175.1 48.0,175.1 49.5,175.2 51.0,175.3 52.5,175.4 54.0,175.5 55.5,175.5 57.0,175.5 58.5,175.4 60.0,175.3 62.5,175.4"/><path d="M164.5,175.4 166.0,175.6 167.5,176.5 169.0,178.1 170.5,179.9 172.0,181.8 173.5,183.5 175.0,184.8 176.5,185.4 178.0,185.4 179.5,185.4 181.0,185.4 182.5,185.4 184.0,185.4 185.5,185.4 187.0,185.4 188.5,185.4 190.0,185.4 191.5,185.4 193.0,185.4 194.5,185.4 196.0,185.4 202.0,185.4 208.0,185.4 214.0,185.4 219.0,185.4"/><path d="M9.0,149.8 10.5,149.9 12.0,149.9 13.5,150.0 15.0,150.0 16.5,150.0 18.0,150.1 19.5,150.1 21.0,150.2 22.5,150.2 24.0,150.3 25.5,150.4 27.0,150.4 28.5,150.5 30.0,150.5 31.5,150.6 33.0,150.7 34.5,150.8 36.0,151.1 37.5,151.7 39.0,152.2 40.5,152.7 42.0,153.4 43.5,153.9 45.0,154.2 46.5,154.4 48.0,154.4 49.5,154.4 51.0,154.3 52.5,154.2 54.0,154.2 55.5,154.1 57.0,154.2 58.5,154.3 60.0,154.5 62.5,154.5"/><path d="M164.5,154.5 166.0,154.1 167.5,152.7 169.0,150.4 170.5,147.9 172.0,145.3 173.5,143.3 175.0,142.3 176.5,142.2 178.0,142.2 179.5,142.2 181.0,142.2 182.5,142.2 184.0,142.2 185.5,142.2 187.0,142.2 188.5,142.2 190.0,142.2 191.5,142.2 193.0,142.2 194.5,142.2 196.0,142.2 202.0,142.2 208.0,142.2 214.0,142.2 219.0,142.2"/><path d="M9.0,182.3 10.5,182.2 12.0,182.2 13.5,182.1 15.0,182.1 16.5,182.1 18.0,182.0 19.5,182.0 21.0,181.9 22.5,181.9 24.0,181.8 25.5,181.7 27.0,181.7 28.5,181.6 30.0,181.6 31.5,181.5 33.0,181.4 34.5,181.3 36.0,181.0 37.5,180.4 39.0,179.9 40.5,179.4 42.0,178.7 43.5,178.2 45.0,177.9 46.5,177.7 48.0,177.7 49.5,177.7 51.0,177.8 52.5,177.9 54.0,177.9 55.5,178.0 57.0,177.9 58.5,177.8 60.0,177.6 62.5,177.7"/><path d="M164.5,177.7 166.0,178.0 167.5,179.4 169.0,181.7 170.5,184.2 172.0,186.8 173.5,188.8 175.0,189.8 176.5,189.9 178.0,189.9 179.5,189.9 181.0,189.9 182.5,189.9 184.0,189.9 185.5,189.9 187.0,189.9 188.5,189.9 190.0,189.9 191.5,189.9 193.0,189.9 194.5,189.9 196.0,189.9 202.0,189.9 208.0,189.9 214.0,189.9 219.0,189.9"/><path d="M9.0,145.0 10.5,145.1 12.0,145.1 13.5,145.1 15.0,145.2 16.5,145.2 18.0,145.3 19.5,145.3 21.0,145.3 22.5,145.4 24.0,145.4 25.5,145.5 27.0,145.6 28.5,145.6 30.0,145.7 31.5,145.8 33.0,145.9 34.5,146.0 36.0,146.3 37.5,147.1 39.0,147.7 40.5,148.5 42.0,149.4 43.5,150.2 45.0,150.8 46.5,151.3 48.0,151.5 49.5,151.6 51.0,151.7 52.5,151.7 54.0,151.8 55.5,151.9 57.0,152.1 58.5,152.4 60.0,152.7 62.5,152.7"/><path d="M164.5,152.7 166.0,152.2 167.5,150.1 169.0,146.9 170.5,143.5 172.0,140.6 173.5,138.9 175.0,138.7 176.5,138.7 178.0,138.7 179.5,138.7 181.0,138.7 182.5,138.7 184.0,138.7 185.5,138.7 187.0,138.7 188.5,138.7 190.0,138.7 191.5,138.7 193.0,138.7 194.5,138.7 196.0,138.7 202.0,138.7 208.0,138.7 214.0,138.7 219.0,138.7"/><path d="M9.0,187.1 10.5,187.0 12.0,187.0 13.5,187.0 15.0,186.9 16.5,186.9 18.0,186.8 19.5,186.8 21.0,186.8 22.5,186.7 24.0,186.7 25.5,186.6 27.0,186.5 28.5,186.5 30.0,186.4 31.5,186.3 33.0,186.2 34.5,186.1 36.0,185.8 37.5,185.0 39.0,184.4 40.5,183.6 42.0,182.7 43.5,181.9 45.0,181.3 46.5,180.8 48.0,180.6 49.5,180.5 51.0,180.4 52.5,180.4 54.0,180.3 55.5,180.2 57.0,180.0 58.5,179.7 60.0,179.4 62.5,179.5"/><path d="M164.5,179.5 166.0,179.9 167.5,182.0 169.0,185.2 170.5,188.6 172.0,191.5 173.5,193.2 175.0,193.4 176.5,193.4 178.0,193.4 179.5,193.4 181.0,193.4 182.5,193.4 184.0,193.4 185.5,193.4 187.0,193.4 188.5,193.4 190.0,193.4 191.5,193.4 193.0,193.4 194.5,193.4 196.0,193.4 202.0,193.4 208.0,193.4 214.0,193.4 219.0,193.4"/><path d="M9.0,139.5 10.5,139.6 12.0,139.6 13.5,139.6 15.0,139.6 16.5,139.6 18.0,139.7 19.5,139.7 21.0,139.7 22.5,139.7 24.0,139.8 25.5,139.8 27.0,139.8 28.5,139.8 30.0,139.9 31.5,139.9 33.0,140.0 34.5,140.0 36.0,140.4 37.5,141.4 39.0,142.3 40.5,143.3 42.0,144.6 43.5,145.8 45.0,146.8 46.5,147.6 48.0,148.0 49.5,148.5 51.0,148.9 52.5,149.2 54.0,149.5 55.5,149.9 57.0,150.3 58.5,150.8 60.0,151.3 62.5,151.5"/><path d="M164.5,151.5 166.0,150.8 167.5,147.9 169.0,143.8 170.5,139.8 172.0,137.0 173.5,136.4 175.0,136.4 176.5,136.4 178.0,136.4 179.5,136.4 181.0,136.4 182.5,136.4 184.0,136.4 185.5,136.4 187.0,136.4 188.5,136.4 190.0,136.4 191.5,136.4 193.0,136.4 194.5,136.4 196.0,136.4 202.0,136.4 208.0,136.4 214.0,136.4 219.0,136.4"/><path d="M9.0,192.6 10.5,192.5 12.0,192.5 13.5,192.5 15.0,192.5 16.5,192.5 18.0,192.4 19.5,192.4 21.0,192.4 22.5,192.4 24.0,192.3 25.5,192.3 27.0,192.3 28.5,192.3 30.0,192.2 31.5,192.2 33.0,192.1 34.5,192.1 36.0,191.7 37.5,190.7 39.0,189.8 40.5,188.8 42.0,187.5 43.5,186.3 45.0,185.3 46.5,184.5 48.0,184.1 49.5,183.6 51.0,183.2 52.5,182.9 54.0,182.6 55.5,182.2 57.0,181.8 58.5,181.3 60.0,180.8 62.5,180.7"/><path d="M164.5,180.7 166.0,181.3 167.5,184.2 169.0,188.3 170.5,192.3 172.0,195.1 173.5,195.7 175.0,195.7 176.5,195.7 178.0,195.7 179.5,195.7 181.0,195.7 182.5,195.7 184.0,195.7 185.5,195.7 187.0,195.7 188.5,195.7 190.0,195.7 191.5,195.7 193.0,195.7 194.5,195.7 196.0,195.7 202.0,195.7 208.0,195.7 214.0,195.7 219.0,195.7"/><path d="M40.5,137.4 41.5,138.6 42.5,139.7 43.5,140.7 44.5,141.6 45.5,142.4 46.5,143.1 47.5,143.6 48.5,144.1 49.5,144.6 50.5,145.0 51.5,145.4 52.5,145.8 53.5,146.2 54.5,146.6 55.5,147.0 56.5,147.4 57.5,147.9 58.5,148.3 59.5,148.7 60.5,149.2"/><path d="M40.5,194.7 41.5,193.6 42.5,192.4 43.5,191.4 44.5,190.6 45.5,189.7 46.5,189.0 47.5,188.5 48.5,188.0 49.5,187.5 50.5,187.1 51.5,186.7 52.5,186.3 53.5,185.9 54.5,185.5 55.5,185.1 56.5,184.7 57.5,184.2 58.5,183.8 59.5,183.4 60.5,182.9"/><path d="M169.5,135.2 172.0,135.6 174.0,135.6 176.1,135.6 178.1,135.6 180.2,135.6 182.2,135.6 184.3,135.6 186.3,135.6 188.3,135.6 190.4,135.7 192.4,135.7 194.5,135.7 196.5,135.7 198.6,135.7 200.6,135.7 202.7,135.7 204.7,135.7 206.7,135.7 208.8,135.7 210.8,135.7 212.9,135.7 214.9,135.7 217.0,135.7 219.0,135.7"/><path d="M169.5,197.0 172.0,196.6 174.0,196.5 176.1,196.5 178.1,196.5 180.2,196.5 182.2,196.5 184.3,196.5 186.3,196.5 188.3,196.5 190.4,196.4 192.4,196.4 194.5,196.4 196.5,196.4 198.6,196.4 200.6,196.4 202.7,196.4 204.7,196.4 206.7,196.4 208.8,196.4 210.8,196.4 212.9,196.4 214.9,196.4 217.0,196.4 219.0,196.5"/></g>
<g fill="none" stroke="#300" stroke-width="0.75" stroke-opacity="0.6"><path d="M62.5,90.5 163.5,90.5"/><path d="M62.5,87.0 163.5,87.0"/><path d="M62.5,94.0 163.5,94.0"/><path d="M62.5,83.2 163.5,83.2"/><path d="M62.5,97.8 163.5,97.8"/><path d="M62.5,79.7 163.5,79.7"/><path d="M62.5,101.2 163.5,101.2"/><path d="M62.5,76.5 163.5,76.5"/><path d="M62.5,104.5 163.5,104.5"/><path d="M62.5,165.1 164.5,165.1"/><path d="M62.5,167.1 164.5,167.1"/><path d="M62.5,162.2 164.5,162.2"/><path d="M62.5,170.0 164.5,170.0"/><path d="M62.5,159.6 164.5,159.6"/><path d="M62.5,172.6 164.5,172.6"/><path d="M62.5,156.8 164.5,156.8"/><path d="M62.5,175.4 164.5,175.4"/><path d="M62.5,154.5 164.5,154.5"/><path d="M62.5,177.7 164.5,177.7"/><path d="M62.5,152.7 164.5,152.7"/><path d="M62.5,179.5 164.5,179.5"/><path d="M62.5,151.5 164.5,151.5"/><path d="M62.5,180.7 164.5,180.7"/></g>
<ellipse cx="52.70" cy="65.90" rx="0.80" ry="0.80" fill="none" stroke="#000" stroke-width="1.00" stroke-opacity="0.85"/>
<ellipse cx="53.10" cy="115.60" rx="4.20" ry="2.80" fill="none" stroke="#000" stroke-width="0.80" stroke-opacity="0.85"/>
<ellipse cx="53.10" cy="115.60" rx="0.90" ry="0.70" fill="none" stroke="#000" stroke-width="0.90" stroke-opacity="0.85"/>
<ellipse cx="52.30" cy="141.70" rx="6.20" ry="5.40" fill="none" stroke="#000" stroke-width="0.80" stroke-opacity="0.85"/>
<ellipse cx="52.30" cy="141.70" rx="1.00" ry="0.90" fill="none" stroke="#000" stroke-width="1.00" stroke-opacity="0.85"/>
<ellipse cx="52.30" cy="191.10" rx="2.20" ry="1.60" fill="none" stroke="#000" stroke-width="0.80" stroke-opacity="0.85"/>
<g fill="#000"><polygon points="38.4,90.5 35.0,92.0 35.0,88.9"/><polygon points="69.9,90.5 66.5,92.0 66.5,88.9"/><polygon points="97.9,90.5 94.5,92.0 94.5,88.9"/><polygon points="130.1,90.5 126.7,92.0 126.7,88.9"/><polygon points="160.1,90.5 156.7,92.0 156.7,88.9"/><polygon points="189.7,90.5 186.3,92.0 186.3,88.9"/><polygon points="38.4,87.4 34.9,88.8 35.1,85.6"/><polygon points="69.7,87.0 66.3,88.5 66.3,85.4"/><polygon points="97.7,87.0 94.3,88.5 94.3,85.4"/><polygon points="129.8,87.0 126.4,88.5 126.4,85.4"/><polygon points="159.8,87.0 156.4,88.5 156.4,85.4"/><polygon points="189.6,83.0 186.2,84.6 186.2,81.4"/><polygon points="215.6,83.0 212.2,84.6 212.2,81.4"/><polygon points="38.4,93.5 35.1,95.3 34.9,92.1"/><polygon points="69.7,94.0 66.3,95.5 66.3,92.4"/><polygon points="97.7,94.0 94.3,95.5 94.3,92.4"/><polygon points="129.8,94.0 126.4,95.5 126.4,92.4"/><polygon points="159.8,94.0 156.4,95.5 156.4,92.4"/><polygon points="189.6,97.9 186.2,99.5 186.2,96.3"/><polygon points="215.6,97.9 212.2,99.5 212.2,96.3"/><polygon points="38.4,84.2 34.8,85.3 35.3,82.1"/><polygon points="69.2,83.2 65.8,84.8 65.8,81.6"/><polygon points="97.1,83.2 93.7,84.8 93.7,81.6"/><polygon points="128.6,83.2 125.2,84.8 125.2,81.6"/><polygon points="158.8,83.2 155.4,84.8 155.4,81.6"/><polygon points="188.7,75.4 185.3,77.0 185.3,73.8"/><polygon points="215.1,75.4 211.7,77.0 211.7,73.8"/><polygon points="38.4,96.7 35.3,98.8 34.8,95.6"/><polygon points="69.2,97.8 65.8,99.3 65.8,96.2"/><polygon points="97.1,97.8 93.7,99.3 93.7,96.2"/><polygon points="128.6,97.8 125.2,99.3 125.2,96.2"/><polygon points="158.8,97.8 155.4,99.3 155.4,96.2"/><polygon points="188.7,105.5 185.3,107.1 185.3,103.9"/><polygon points="215.1,105.5 211.7,107.1 211.7,103.9"/><polygon points="38.3,76.3 34.5,76.6 35.7,73.6"/><polygon points="68.3,79.7 64.9,81.2 64.9,78.1"/><polygon points="96.1,79.7 92.7,81.2 92.7,78.1"/><polygon points="126.9,79.7 123.5,81.2 123.5,78.1"/><polygon points="157.2,79.7 153.8,81.2 153.8,78.1"/><polygon points="186.5,68.6 183.1,70.2 183.1,67.0"/><polygon points="213.8,68.6 210.4,70.2 210.4,67.0"/><polygon points="38.3,104.6 35.7,107.3 34.5,104.3"/><polygon points="68.3,101.2 64.9,102.8 64.9,99.7"/><polygon points="96.1,101.2 92.7,102.8 92.7,99.7"/><polygon points="126.9,101.2 123.5,102.8 123.5,99.7"/><polygon points="157.2,101.2 153.8,102.8 153.8,99.7"/><polygon points="186.5,112.3 183.1,113.9 183.1,110.7"/><polygon points="213.8,112.3 210.4,113.9 210.4,110.7"/><polygon points="38.2,65.6 34.4,65.3 36.0,62.5"/><polygon points="67.3,76.5 63.9,78.0 63.9,74.9"/><polygon points="94.8,76.5 91.4,78.0 91.4,74.9"/><polygon points="124.7,76.5 121.3,78.0 121.3,74.9"/><polygon points="155.3,76.5 151.9,78.0 151.9,74.9"/><polygon points="182.7,62.5 179.3,64.1 179.3,60.9"/><polygon points="211.5,62.5 208.1,64.1 208.1,60.9"/><polygon points="38.2,115.3 36.0,118.4 34.4,115.6"/><polygon points="67.3,104.5 63.9,106.0 63.9,102.9"/><polygon points="94.8,104.5 91.4,106.0 91.4,102.9"/><polygon points="124.7,104.5 121.3,106.0 121.3,102.9"/><polygon points="155.3,104.5 151.9,106.0 151.9,102.9"/><polygon points="182.7,118.4 179.3,120.0 179.3,116.8"/><polygon points="211.5,118.4 208.1,120.0 208.1,116.8"/><polygon points="172.2,59.9 168.5,60.8 169.1,57.6"/><polygon points="202.7,59.7 199.3,61.3 199.3,58.1"/><polygon points="172.2,121.0 169.1,123.3 168.5,120.1"/><polygon points="202.7,121.2 199.3,122.8 199.3,119.6"/><polygon points="41.0,164.6 38.1,165.8 38.2,163.1"/><polygon points="75.4,165.1 72.5,166.4 72.5,163.7"/><polygon points="108.7,165.1 105.8,166.4 105.8,163.7"/><polygon points="140.0,165.1 137.1,166.4 137.1,163.7"/><polygon points="204.0,163.7 201.1,165.1 201.1,162.4"/><polygon points="41.0,167.5 38.2,169.0 38.1,166.3"/><polygon points="75.4,167.1 72.5,168.4 72.5,165.7"/><polygon points="108.7,167.1 105.8,168.4 105.8,165.7"/><polygon points="140.0,167.1 137.1,168.4 137.1,165.7"/><polygon points="204.0,168.4 201.1,169.7 201.1,167.0"/><polygon points="41.0,161.7 38.0,162.8 38.3,160.1"/><polygon points="75.0,162.2 72.1,163.5 72.1,160.8"/><polygon points="108.3,162.2 105.4,163.5 105.4,160.8"/><polygon points="139.7,162.2 136.8,163.5 136.8,160.8"/><polygon points="200.0,157.6 197.1,158.9 197.1,156.2"/><polygon points="41.0,170.4 38.3,172.0 38.0,169.3"/><polygon points="75.0,170.0 72.1,171.3 72.1,168.6"/><polygon points="108.3,170.0 105.4,171.3 105.4,168.6"/><polygon points="139.7,170.0 136.8,171.3 136.8,168.6"/><polygon points="200.0,174.5 197.1,175.9 197.1,173.2"/><polygon points="41.0,158.8 37.9,159.6 38.4,157.0"/><polygon points="74.3,159.6 71.4,160.9 71.4,158.2"/><polygon points="107.4,159.6 104.5,160.9 104.5,158.2"/><polygon points="139.1,159.6 136.3,160.9 136.3,158.2"/><polygon points="196.6,152.3 193.7,153.7 193.7,150.9"/><polygon points="41.0,173.3 38.4,175.1 37.9,172.5"/><polygon points="74.3,172.6 71.4,173.9 71.4,171.2"/><polygon points="107.4,172.6 104.5,173.9 104.5,171.2"/><polygon points="139.1,172.6 136.3,173.9 136.3,171.2"/><polygon points="196.6,179.8 193.7,181.2 193.7,178.4"/><polygon points="41.0,155.9 37.9,156.5 38.5,153.8"/><polygon points="73.0,156.8 70.1,158.1 70.1,155.4"/><polygon points="106.0,156.8 103.1,158.1 103.1,155.4"/><polygon points="138.2,156.8 135.3,158.1 135.3,155.4"/><polygon points="193.0,146.7 190.1,148.1 190.1,145.4"/><polygon points="41.0,176.2 38.5,178.3 37.9,175.6"/><polygon points="73.0,175.4 70.1,176.7 70.1,174.0"/><polygon points="106.0,175.4 103.1,176.7 103.1,174.0"/><polygon points="138.2,175.4 135.3,176.7 135.3,174.0"/><polygon points="193.0,185.4 190.1,186.7 190.1,184.0"/><polygon points="41.0,152.9 37.8,153.2 38.7,150.6"/><polygon points="71.7,154.5 68.8,155.8 68.8,153.1"/><polygon points="104.5,154.5 101.6,155.8 101.6,153.1"/><polygon points="137.2,154.5 134.3,155.8 134.3,153.1"/><polygon points="190.1,142.2 187.2,143.6 187.2,140.9"/><polygon points="41.0,179.2 38.7,181.5 37.8,178.9"/><polygon points="71.7,177.7 68.8,179.0 68.8,176.3"/><polygon points="104.5,177.7 101.6,179.0 101.6,176.3"/><polygon points="137.2,177.7 134.3,179.0 134.3,176.3"/><polygon points="190.1,189.9 187.2,191.2 187.2,188.5"/><polygon points="40.9,148.7 37.7,148.6 38.9,146.2"/><polygon points="70.4,152.7 67.5,154.0 67.5,151.3"/><polygon points="103.1,152.7 100.2,154.0 100.2,151.3"/><polygon points="136.2,152.7 133.3,154.0 133.3,151.3"/><polygon points="187.9,138.7 185.0,140.1 185.0,137.3"/><polygon points="40.9,183.4 38.9,185.9 37.7,183.5"/><polygon points="70.4,179.5 67.5,180.8 67.5,178.1"/><polygon points="103.1,179.5 100.2,180.8 100.2,178.1"/><polygon points="136.2,179.5 133.3,180.8 133.3,178.1"/><polygon points="187.9,193.4 185.0,194.8 185.0,192.0"/><polygon points="40.8,143.5 37.6,143.0 39.2,140.7"/><polygon points="69.5,151.5 66.6,152.8 66.6,150.1"/><polygon points="102.0,151.5 99.2,152.8 99.2,150.1"/><polygon points="135.5,151.5 132.6,152.8 132.6,150.1"/><polygon points="186.4,136.4 183.5,137.7 183.5,135.0"/><polygon points="40.8,188.6 39.2,191.4 37.6,189.1"/><polygon points="69.5,180.7 66.6,182.0 66.6,179.3"/><polygon points="102.0,180.7 99.2,182.0 99.2,179.3"/><polygon points="135.5,180.7 132.6,182.0 132.6,179.3"/><polygon points="186.4,195.7 183.5,197.1 183.5,194.4"/><polygon points="187.4,135.6 184.5,137.0 184.6,134.3"/><polygon points="187.4,196.5 184.6,197.8 184.5,195.1"/><polygon points="38.8,60.0 35.6,61.5 35.6,58.5"/><polygon points="56.9,60.0 53.7,61.5 53.7,58.5"/><polygon points="38.8,121.0 35.6,122.5 35.6,119.5"/><polygon points="56.9,121.0 53.7,122.5 53.7,119.5"/><polygon points="41.6,136.0 38.4,137.5 38.4,134.5"/><polygon points="52.1,135.8 48.9,137.3 48.9,134.3"/><polygon points="41.6,197.0 38.4,198.5 38.4,195.5"/><polygon points="52.1,197.0 48.9,198.5 48.9,195.5"/></g>
<text x="66.6" y="131.2" class="sans" font-size="9.8" font-weight="bold" textLength="102.4" lengthAdjust="spacingAndGlyphs" fill="#ff0000">No-viscoelectric effect</text>
<text x="72.3" y="206.8" class="sans" font-size="9.8" font-weight="bold" textLength="86.6" lengthAdjust="spacingAndGlyphs" fill="#ff0000">Viscoelectric effect</text>
<path d="M438.00,37.00 L438.00,157.00 L437.50,160.50 L436.00,163.00 L433.50,164.40 L430.00,164.90 L262.00,164.90 L259.00,164.30 L257.00,162.50 L255.80,159.50 L255.30,155.00 L255.20,37.00" fill="none" stroke="#000" stroke-width="1.5"/>
<path d="M255.90,37.00 L256.00,141.00 L256.60,147.00 L257.70,150.20 L260.00,152.80 L262.20,154.00 L266.00,155.00 L271.00,155.50 L283.70,156.30 L304.00,157.10 L327.00,158.00 L362.00,159.30 L392.00,160.50 L420.00,161.50 L428.80,161.80 L432.50,161.00 L434.80,159.00 L436.40,156.30 L437.30,152.00 L437.50,145.00 L437.50,37.00" fill="none" stroke="#ff0000" stroke-width="1.4" stroke-dasharray="4 4"/>
<path d="M255.60,37.00 L255.70,112.00 L256.30,117.50 L257.60,121.50 L259.50,123.80 L262.00,125.30 L264.50,126.30 L270.00,127.60 L277.00,128.80 L302.00,133.80 L327.00,138.60 L362.00,145.00 L392.00,149.00 L404.70,151.00 L417.40,152.90 L426.00,153.80 L429.50,153.80 L432.50,152.90 L434.60,151.20 L436.10,148.30 L436.90,143.50 L437.20,136.00 L437.20,37.00" fill="none" stroke="#0000ff" stroke-width="1.65" stroke-dasharray="1.4 1.1"/>
<path d="M256.20,37.00 L256.50,50.00 L257.30,56.00 L258.80,60.60 L260.50,62.80 L262.60,64.40 L267.10,67.40 L274.60,71.10 L282.20,74.90 L296.00,81.25 L321.00,92.50 L346.00,103.75 L368.00,114.20 L380.70,119.90 L393.40,125.30 L406.10,130.40 L413.00,132.80 L421.30,135.10 L426.00,136.00 L428.80,136.20 L431.50,135.80 L433.90,134.80 L435.60,133.00 L436.60,130.00 L437.00,124.00 L437.00,37.00" fill="none" stroke="#ff00ff" stroke-width="1.5" stroke-dasharray="3.8 1.3 1.5 1.3"/>
<rect x="254.60" y="37.00" width="184.40" height="149.50" fill="none" stroke="#777" stroke-width="1.3"/>
<line x1="346.80" y1="186.50" x2="346.80" y2="184.50" stroke="#777" stroke-width="1"/>
<line x1="346.80" y1="37.00" x2="346.80" y2="39.00" stroke="#777" stroke-width="1"/>
<text x="250.6" y="190.70" class="serif" font-size="13.4" text-anchor="end" fill="#000">0</text>
<text x="250.6" y="148.20" class="serif" font-size="13.4" text-anchor="end" fill="#000">2</text>
<text x="250.6" y="105.70" class="serif" font-size="13.4" text-anchor="end" fill="#000">4</text>
<text x="250.6" y="63.20" class="serif" font-size="13.4" text-anchor="end" fill="#000">6</text>
<text x="254.60" y="202.2" class="serif" font-size="13.4" text-anchor="middle" fill="#000">0</text>
<text x="346.80" y="202.2" class="serif" font-size="13.4" text-anchor="middle" fill="#000">50</text>
<text x="439.60" y="202.2" class="serif" font-size="13.4" text-anchor="middle" fill="#000">100</text>
<text x="346.8" y="215.9" class="serif" font-size="14.8" text-anchor="middle" fill="#000"><tspan font-style="italic">x</tspan> (nm)</text>
<text transform="translate(236.0,124.8) rotate(-90)" class="serif" font-size="14" textLength="25" lengthAdjust="spacing" fill="#000"><tspan font-style="italic">μ</tspan>/<tspan font-style="italic">μ</tspan><tspan font-size="8" dy="3.2">o</tspan></text>
<rect x="266.6" y="42.6" width="71.8" height="20.6" rx="1" fill="#fff" stroke="#999" stroke-width="1.3"/>
<text x="270.2" y="54.6" class="serif" font-size="10" fill="#000">pH<tspan font-size="7" dy="4.7">L</tspan><tspan dy="-4.7">=7, pH</tspan><tspan font-size="7" dy="4.7">R</tspan><tspan dy="-4.7">=4</tspan></text>
<line x1="344" y1="45.50" x2="364" y2="45.50" stroke="#000" stroke-width="1.4"/>
<text x="365.6" y="48.50" class="serif" font-size="9.95" fill="#000">C<tspan font-size="7.4" dy="4.6">L</tspan><tspan dy="-4.6"> = 0.1 mol m</tspan><tspan font-size="7" dy="-5.1">-</tspan><tspan font-size="7" dx="0.2">3</tspan></text>
<line x1="344" y1="64.20" x2="364" y2="64.20" stroke="#ff0000" stroke-width="1.4" stroke-dasharray="4 4"/>
<text x="365.6" y="67.20" class="serif" font-size="9.95" fill="#000">C<tspan font-size="7.4" dy="4.6">L</tspan><tspan dy="-4.6"> = 1 mol m</tspan><tspan font-size="7" dy="-5.1">-</tspan><tspan font-size="7" dx="0.2">3</tspan></text>
<line x1="344" y1="82.60" x2="364" y2="82.60" stroke="#0000ff" stroke-width="1.6" stroke-dasharray="1.3 1.15"/>
<text x="365.6" y="85.60" class="serif" font-size="9.95" fill="#000">C<tspan font-size="7.4" dy="4.6">L</tspan><tspan dy="-4.6"> = 2.5 mol m</tspan><tspan font-size="7" dy="-5.1">-</tspan><tspan font-size="7" dx="0.2">3</tspan></text>
<line x1="344" y1="101.00" x2="364" y2="101.00" stroke="#ff00ff" stroke-width="1.5" stroke-dasharray="3.8 1.3 1.5 1.3"/>
<text x="365.6" y="104.00" class="serif" font-size="9.95" fill="#000">C<tspan font-size="7.4" dy="4.6">L</tspan><tspan dy="-4.6"> = 5 mol m</tspan><tspan font-size="7" dy="-5.1">-</tspan><tspan font-size="7" dx="0.2">3</tspan></text>
</svg></body></html>
